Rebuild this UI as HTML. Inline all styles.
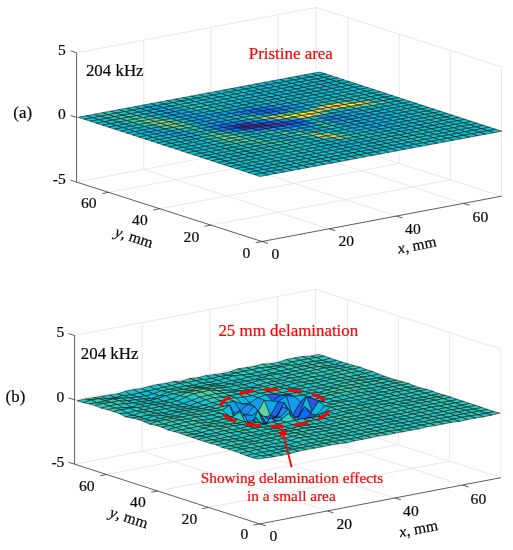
<!DOCTYPE html>
<html><head><meta charset="utf-8"><title>Figure</title>
<style>html,body{margin:0;padding:0;background:#fff}svg text{font-family:"Liberation Serif",serif}</style></head>
<body>
<svg width="513" height="550" viewBox="0 0 513 550" style="display:block">
<rect width="513" height="550" fill="#fff"/>
<line x1="329.18" y1="228.79" x2="143.78" y2="169.39" stroke="#e2e2e2" stroke-width="0.8"/>
<line x1="210.86" y1="225.11" x2="450.36" y2="179.81" stroke="#e2e2e2" stroke-width="0.8"/>
<line x1="143.78" y1="169.39" x2="143.78" y2="40.09" stroke="#e2e2e2" stroke-width="0.8"/>
<line x1="450.36" y1="179.81" x2="450.36" y2="50.51" stroke="#e2e2e2" stroke-width="0.8"/>
<line x1="396.36" y1="216.09" x2="210.96" y2="156.69" stroke="#e2e2e2" stroke-width="0.8"/>
<line x1="159.71" y1="208.73" x2="399.21" y2="163.43" stroke="#e2e2e2" stroke-width="0.8"/>
<line x1="210.96" y1="156.69" x2="210.96" y2="27.39" stroke="#e2e2e2" stroke-width="0.8"/>
<line x1="399.21" y1="163.43" x2="399.21" y2="34.13" stroke="#e2e2e2" stroke-width="0.8"/>
<line x1="463.54" y1="203.38" x2="278.14" y2="143.98" stroke="#e2e2e2" stroke-width="0.8"/>
<line x1="108.57" y1="192.34" x2="348.07" y2="147.04" stroke="#e2e2e2" stroke-width="0.8"/>
<line x1="278.14" y1="143.98" x2="278.14" y2="14.68" stroke="#e2e2e2" stroke-width="0.8"/>
<line x1="348.07" y1="147.04" x2="348.07" y2="17.74" stroke="#e2e2e2" stroke-width="0.8"/>
<line x1="76.60" y1="182.10" x2="316.10" y2="136.80" stroke="#e2e2e2" stroke-width="0.8"/>
<line x1="316.10" y1="136.80" x2="501.50" y2="196.20" stroke="#e2e2e2" stroke-width="0.8"/>
<line x1="76.60" y1="117.45" x2="316.10" y2="72.15" stroke="#e2e2e2" stroke-width="0.8"/>
<line x1="316.10" y1="72.15" x2="501.50" y2="131.55" stroke="#e2e2e2" stroke-width="0.8"/>
<line x1="76.60" y1="52.80" x2="316.10" y2="7.50" stroke="#e2e2e2" stroke-width="0.8"/>
<line x1="316.10" y1="7.50" x2="501.50" y2="66.90" stroke="#e2e2e2" stroke-width="0.8"/>
<line x1="316.10" y1="136.80" x2="316.10" y2="7.50" stroke="#e2e2e2" stroke-width="0.8"/>
<line x1="501.50" y1="196.20" x2="501.50" y2="66.90" stroke="#e2e2e2" stroke-width="0.8"/>
<g stroke="#000" stroke-width="0.5" stroke-linejoin="round">
<polygon points="317.91,75.48 325.96,73.97 319.90,72.00 311.85,73.51" fill="#0dc1d3"/>
<polygon points="309.85,77.00 317.91,75.48 311.85,73.51 303.79,75.02" fill="#0bc1d4"/>
<polygon points="323.97,77.46 332.02,75.95 325.96,73.97 317.91,75.48" fill="#0cc1d4"/>
<polygon points="301.80,78.51 309.85,77.00 303.79,75.02 295.74,76.53" fill="#0bc1d4"/>
<polygon points="315.91,78.97 323.97,77.46 317.91,75.48 309.85,77.00" fill="#0ac0d5"/>
<polygon points="330.03,79.43 338.08,77.92 332.02,75.95 323.97,77.46" fill="#0bc0d5"/>
<polygon points="293.75,80.02 301.80,78.51 295.74,76.53 287.69,78.04" fill="#0cc1d3"/>
<polygon points="307.86,80.48 315.91,78.97 309.85,77.00 301.80,78.51" fill="#0ac0d5"/>
<polygon points="321.97,80.95 330.03,79.43 323.97,77.46 315.91,78.97" fill="#0abfd6"/>
<polygon points="336.09,81.41 344.14,79.89 338.08,77.92 330.03,79.43" fill="#0ac0d5"/>
<polygon points="285.69,81.52 293.75,80.02 287.69,78.04 279.63,79.55" fill="#0dc1d3"/>
<polygon points="299.81,81.99 307.86,80.48 301.80,78.51 293.75,80.02" fill="#0bc1d4"/>
<polygon points="313.92,82.46 321.97,80.95 315.91,78.97 307.86,80.48" fill="#0ac0d6"/>
<polygon points="328.03,82.92 336.09,81.41 330.03,79.43 321.97,80.95" fill="#09bfd7"/>
<polygon points="277.64,83.04 285.69,81.52 279.63,79.55 271.58,81.06" fill="#0cc1d4"/>
<polygon points="342.15,83.38 350.20,81.87 344.14,79.89 336.09,81.41" fill="#0ac0d5"/>
<polygon points="291.75,83.50 299.81,81.99 293.75,80.02 285.69,81.52" fill="#0cc1d3"/>
<polygon points="305.87,83.96 313.92,82.46 307.86,80.48 299.81,81.99" fill="#0bc0d5"/>
<polygon points="319.98,84.43 328.03,82.92 321.97,80.95 313.92,82.46" fill="#0ac0d6"/>
<polygon points="269.59,84.55 277.64,83.04 271.58,81.06 263.53,82.57" fill="#0ac0d5"/>
<polygon points="334.09,84.89 342.15,83.38 336.09,81.41 328.03,82.92" fill="#09bfd7"/>
<polygon points="283.70,85.01 291.75,83.50 285.69,81.52 277.64,83.04" fill="#0bc1d4"/>
<polygon points="348.21,85.35 356.26,83.84 350.20,81.87 342.15,83.38" fill="#0bc1d4"/>
<polygon points="297.81,85.47 305.87,83.96 299.81,81.99 291.75,83.50" fill="#0bc1d4"/>
<polygon points="311.93,85.94 319.98,84.43 313.92,82.46 305.87,83.96" fill="#0bc0d5"/>
<polygon points="261.53,86.06 269.59,84.55 263.53,82.57 255.47,84.08" fill="#0abfd6"/>
<polygon points="326.04,86.40 334.09,84.89 328.03,82.92 319.98,84.43" fill="#0ac0d6"/>
<polygon points="275.65,86.52 283.70,85.01 277.64,83.04 269.59,84.55" fill="#0ac0d6"/>
<polygon points="340.15,86.87 348.21,85.35 342.15,83.38 334.09,84.89" fill="#0ac0d6"/>
<polygon points="289.76,86.98 297.81,85.47 291.75,83.50 283.70,85.01" fill="#0bc0d5"/>
<polygon points="354.27,87.32 362.32,85.81 356.26,83.84 348.21,85.35" fill="#0ec2d2"/>
<polygon points="303.87,87.45 311.93,85.94 305.87,83.96 297.81,85.47" fill="#0bc0d5"/>
<polygon points="253.48,87.57 261.53,86.06 255.47,84.08 247.42,85.59" fill="#0ac0d6"/>
<polygon points="317.99,87.91 326.04,86.40 319.98,84.43 311.93,85.94" fill="#0bc0d5"/>
<polygon points="267.59,88.03 275.65,86.52 269.59,84.55 261.53,86.06" fill="#09bfd7"/>
<polygon points="332.10,88.38 340.15,86.87 334.09,84.89 326.04,86.40" fill="#0ac0d6"/>
<polygon points="281.71,88.50 289.76,86.98 283.70,85.01 275.65,86.52" fill="#0abfd6"/>
<polygon points="346.21,88.84 354.27,87.32 348.21,85.35 340.15,86.87" fill="#0bc1d4"/>
<polygon points="295.82,88.96 303.87,87.45 297.81,85.47 289.76,86.98" fill="#0abfd6"/>
<polygon points="245.43,89.08 253.48,87.57 247.42,85.59 239.37,87.10" fill="#0bc1d4"/>
<polygon points="360.33,89.30 368.38,87.78 362.32,85.81 354.27,87.32" fill="#0fc2d1"/>
<polygon points="309.93,89.42 317.99,87.91 311.93,85.94 303.87,87.45" fill="#0ac0d6"/>
<polygon points="259.54,89.54 267.59,88.03 261.53,86.06 253.48,87.57" fill="#09bfd7"/>
<polygon points="324.05,89.89 332.10,88.38 326.04,86.40 317.99,87.91" fill="#0ac0d5"/>
<polygon points="273.65,90.01 281.71,88.50 275.65,86.52 267.59,88.03" fill="#09bfd8"/>
<polygon points="338.16,90.35 346.21,88.84 340.15,86.87 332.10,88.38" fill="#0bc0d5"/>
<polygon points="287.77,90.47 295.82,88.96 289.76,86.98 281.71,88.50" fill="#09bed8"/>
<polygon points="237.37,90.58 245.43,89.08 239.37,87.10 231.31,88.61" fill="#0dc2d2"/>
<polygon points="352.27,90.81 360.33,89.30 354.27,87.32 346.21,88.84" fill="#0dc2d3"/>
<polygon points="301.88,90.94 309.93,89.42 303.87,87.45 295.82,88.96" fill="#09bfd8"/>
<polygon points="251.49,91.05 259.54,89.54 253.48,87.57 245.43,89.08" fill="#0ac0d5"/>
<polygon points="366.39,91.27 374.44,89.76 368.38,87.78 360.33,89.30" fill="#0fc2d1"/>
<polygon points="315.99,91.40 324.05,89.89 317.99,87.91 309.93,89.42" fill="#0ac0d6"/>
<polygon points="265.60,91.52 273.65,90.01 267.59,88.03 259.54,89.54" fill="#09bfd8"/>
<polygon points="330.11,91.86 338.16,90.35 332.10,88.38 324.05,89.89" fill="#0bc0d5"/>
<polygon points="279.71,91.98 287.77,90.47 281.71,88.50 273.65,90.01" fill="#08bed8"/>
<polygon points="229.32,92.09 237.37,90.58 231.31,88.61 223.26,90.12" fill="#10c3d0"/>
<polygon points="344.22,92.32 352.27,90.81 346.21,88.84 338.16,90.35" fill="#0cc1d3"/>
<polygon points="293.83,92.45 301.88,90.94 295.82,88.96 287.77,90.47" fill="#08bed9"/>
<polygon points="243.43,92.56 251.49,91.05 245.43,89.08 237.37,90.58" fill="#0dc1d3"/>
<polygon points="358.33,92.78 366.39,91.27 360.33,89.30 352.27,90.81" fill="#0fc2d1"/>
<polygon points="307.94,92.91 315.99,91.40 309.93,89.42 301.88,90.94" fill="#09bed8"/>
<polygon points="257.55,93.03 265.60,91.52 259.54,89.54 251.49,91.05" fill="#09bfd7"/>
<polygon points="372.45,93.24 380.50,91.73 374.44,89.76 366.39,91.27" fill="#0fc2d1"/>
<polygon points="322.05,93.37 330.11,91.86 324.05,89.89 315.99,91.40" fill="#0ac0d6"/>
<polygon points="271.66,93.49 279.71,91.98 273.65,90.01 265.60,91.52" fill="#08bed8"/>
<polygon points="221.27,93.60 229.32,92.09 223.26,90.12 215.21,91.63" fill="#12c4ce"/>
<polygon points="336.17,93.83 344.22,92.32 338.16,90.35 330.11,91.86" fill="#0cc1d4"/>
<polygon points="285.77,93.96 293.83,92.45 287.77,90.47 279.71,91.98" fill="#08bed9"/>
<polygon points="235.38,94.06 243.43,92.56 237.37,90.58 229.32,92.09" fill="#10c3d0"/>
<polygon points="350.28,94.29 358.33,92.78 352.27,90.81 344.22,92.32" fill="#0fc2d1"/>
<polygon points="299.89,94.42 307.94,92.91 301.88,90.94 293.83,92.45" fill="#08bed9"/>
<polygon points="249.49,94.53 257.55,93.03 251.49,91.05 243.43,92.56" fill="#0bc0d5"/>
<polygon points="364.39,94.75 372.45,93.24 366.39,91.27 358.33,92.78" fill="#10c3d0"/>
<polygon points="314.00,94.88 322.05,93.37 315.99,91.40 307.94,92.91" fill="#09bfd7"/>
<polygon points="263.61,95.00 271.66,93.49 265.60,91.52 257.55,93.03" fill="#08bed8"/>
<polygon points="213.21,95.11 221.27,93.60 215.21,91.63 207.15,93.14" fill="#13c4ce"/>
<polygon points="378.51,95.21 386.56,93.71 380.50,91.73 372.45,93.24" fill="#0fc3d1"/>
<polygon points="328.11,95.34 336.17,93.83 330.11,91.86 322.05,93.37" fill="#0bc0d5"/>
<polygon points="277.72,95.47 285.77,93.96 279.71,91.98 271.66,93.49" fill="#08bed8"/>
<polygon points="227.33,95.57 235.38,94.06 229.32,92.09 221.27,93.60" fill="#13c4ce"/>
<polygon points="342.23,95.80 350.28,94.29 344.22,92.32 336.17,93.83" fill="#0ec2d2"/>
<polygon points="291.83,95.93 299.89,94.42 293.83,92.45 285.77,93.96" fill="#08bed9"/>
<polygon points="241.44,96.04 249.49,94.53 243.43,92.56 235.38,94.06" fill="#0ec2d2"/>
<polygon points="356.34,96.26 364.39,94.75 358.33,92.78 350.28,94.29" fill="#11c3cf"/>
<polygon points="305.95,96.39 314.00,94.88 307.94,92.91 299.89,94.42" fill="#09bfd8"/>
<polygon points="255.55,96.51 263.61,95.00 257.55,93.03 249.49,94.53" fill="#09bfd7"/>
<polygon points="205.16,96.62 213.21,95.11 207.15,93.14 199.10,94.65" fill="#12c4ce"/>
<polygon points="370.45,96.72 378.51,95.21 372.45,93.24 364.39,94.75" fill="#11c3cf"/>
<polygon points="320.06,96.85 328.11,95.34 322.05,93.37 314.00,94.88" fill="#0ac0d6"/>
<polygon points="269.67,96.98 277.72,95.47 271.66,93.49 263.61,95.00" fill="#08bed9"/>
<polygon points="219.27,97.08 227.33,95.57 221.27,93.60 213.21,95.11" fill="#13c4ce"/>
<polygon points="384.57,97.19 392.62,95.68 386.56,93.71 378.51,95.21" fill="#10c3d0"/>
<polygon points="334.17,97.31 342.23,95.80 336.17,93.83 328.11,95.34" fill="#0dc1d3"/>
<polygon points="283.78,97.44 291.83,95.93 285.77,93.96 277.72,95.47" fill="#09bfd8"/>
<polygon points="233.39,97.55 241.44,96.04 235.38,94.06 227.33,95.57" fill="#10c3d0"/>
<polygon points="348.29,97.77 356.34,96.26 350.28,94.29 342.23,95.80" fill="#10c3d0"/>
<polygon points="297.89,97.90 305.95,96.39 299.89,94.42 291.83,95.93" fill="#09bfd7"/>
<polygon points="247.50,98.02 255.55,96.51 249.49,94.53 241.44,96.04" fill="#0ac0d5"/>
<polygon points="197.11,98.13 205.16,96.62 199.10,94.65 191.05,96.15" fill="#12c4ce"/>
<polygon points="362.40,98.23 370.45,96.72 364.39,94.75 356.34,96.26" fill="#12c4ce"/>
<polygon points="312.01,98.36 320.06,96.85 314.00,94.88 305.95,96.39" fill="#0abfd6"/>
<polygon points="261.61,98.49 269.67,96.98 263.61,95.00 255.55,96.51" fill="#08bed9"/>
<polygon points="211.22,98.59 219.27,97.08 213.21,95.11 205.16,96.62" fill="#12c4ce"/>
<polygon points="376.51,98.70 384.57,97.19 378.51,95.21 370.45,96.72" fill="#11c3cf"/>
<polygon points="326.12,98.82 334.17,97.31 328.11,95.34 320.06,96.85" fill="#0bc1d4"/>
<polygon points="275.73,98.95 283.78,97.44 277.72,95.47 269.67,96.98" fill="#08bed8"/>
<polygon points="225.33,99.06 233.39,97.55 227.33,95.57 219.27,97.08" fill="#10c3d0"/>
<polygon points="390.63,99.16 398.68,97.65 392.62,95.68 384.57,97.19" fill="#0fc3d1"/>
<polygon points="340.23,99.28 348.29,97.77 342.23,95.80 334.17,97.31" fill="#0fc2d1"/>
<polygon points="289.84,99.41 297.89,97.90 291.83,95.93 283.78,97.44" fill="#09bfd7"/>
<polygon points="239.45,99.53 247.50,98.02 241.44,96.04 233.39,97.55" fill="#0cc1d3"/>
<polygon points="189.05,99.64 197.11,98.13 191.05,96.15 182.99,97.66" fill="#11c3cf"/>
<polygon points="354.35,99.74 362.40,98.23 356.34,96.26 348.29,97.77" fill="#11c3cf"/>
<polygon points="303.95,99.87 312.01,98.36 305.95,96.39 297.89,97.90" fill="#0ac0d6"/>
<polygon points="253.56,100.00 261.61,98.49 255.55,96.51 247.50,98.02" fill="#09bfd8"/>
<polygon points="203.17,100.10 211.22,98.59 205.16,96.62 197.11,98.13" fill="#11c3cf"/>
<polygon points="368.46,100.20 376.51,98.70 370.45,96.72 362.40,98.23" fill="#12c4ce"/>
<polygon points="318.07,100.33 326.12,98.82 320.06,96.85 312.01,98.36" fill="#0bc0d5"/>
<polygon points="267.67,100.46 275.73,98.95 269.67,96.98 261.61,98.49" fill="#08bed9"/>
<polygon points="217.28,100.57 225.33,99.06 219.27,97.08 211.22,98.59" fill="#10c3d0"/>
<polygon points="382.57,100.67 390.63,99.16 384.57,97.19 376.51,98.70" fill="#12c4ce"/>
<polygon points="332.18,100.79 340.23,99.28 334.17,97.31 326.12,98.82" fill="#0ec2d2"/>
<polygon points="281.79,100.92 289.84,99.41 283.78,97.44 275.73,98.95" fill="#09bfd7"/>
<polygon points="231.39,101.03 239.45,99.53 233.39,97.55 225.33,99.06" fill="#0dc1d3"/>
<polygon points="396.69,101.13 404.74,99.63 398.68,97.65 390.63,99.16" fill="#10c3d0"/>
<polygon points="181.00,101.15 189.05,99.64 182.99,97.66 174.94,99.18" fill="#10c3d0"/>
<polygon points="346.29,101.25 354.35,99.74 348.29,97.77 340.23,99.28" fill="#11c3cf"/>
<polygon points="295.90,101.38 303.95,99.87 297.89,97.90 289.84,99.41" fill="#0ac0d6"/>
<polygon points="245.51,101.50 253.56,100.00 247.50,98.02 239.45,99.53" fill="#0abfd6"/>
<polygon points="195.11,101.61 203.17,100.10 197.11,98.13 189.05,99.64" fill="#10c3d0"/>
<polygon points="360.41,101.71 368.46,100.20 362.40,98.23 354.35,99.74" fill="#16c5cc"/>
<polygon points="310.01,101.85 318.07,100.33 312.01,98.36 303.95,99.87" fill="#0ac0d5"/>
<polygon points="259.62,101.97 267.67,100.46 261.61,98.49 253.56,100.00" fill="#08bed9"/>
<polygon points="209.23,102.08 217.28,100.57 211.22,98.59 203.17,100.10" fill="#0fc2d1"/>
<polygon points="374.52,102.16 382.57,100.67 376.51,98.70 368.46,100.20" fill="#23c9c2"/>
<polygon points="324.13,102.30 332.18,100.79 326.12,98.82 318.07,100.33" fill="#0dc1d3"/>
<polygon points="273.73,102.43 281.79,100.92 275.73,98.95 267.67,100.46" fill="#09bfd8"/>
<polygon points="223.34,102.55 231.39,101.03 225.33,99.06 217.28,100.57" fill="#0cc1d3"/>
<polygon points="388.63,102.63 396.69,101.13 390.63,99.16 382.57,100.67" fill="#1bc7c8"/>
<polygon points="172.95,102.66 181.00,101.15 174.94,99.18 166.89,100.68" fill="#14c4cd"/>
<polygon points="338.24,102.76 346.29,101.25 340.23,99.28 332.18,100.79" fill="#14c4cd"/>
<polygon points="287.85,102.89 295.90,101.38 289.84,99.41 281.79,100.92" fill="#0ac0d6"/>
<polygon points="237.45,103.01 245.51,101.50 239.45,99.53 231.39,101.03" fill="#0ac0d5"/>
<polygon points="402.75,103.11 410.80,101.60 404.74,99.63 396.69,101.13" fill="#10c3d0"/>
<polygon points="187.06,103.12 195.11,101.61 189.05,99.64 181.00,101.15" fill="#11c3cf"/>
<polygon points="352.35,103.19 360.41,101.71 354.35,99.74 346.29,101.25" fill="#34cdb7"/>
<polygon points="301.96,103.36 310.01,101.85 303.95,99.87 295.90,101.38" fill="#09bfd7"/>
<polygon points="251.57,103.48 259.62,101.97 253.56,100.00 245.51,101.50" fill="#09bfd8"/>
<polygon points="201.17,103.59 209.23,102.08 203.17,100.10 195.11,101.61" fill="#0fc3d1"/>
<polygon points="366.47,103.61 374.52,102.16 368.46,100.20 360.41,101.71" fill="#80d68f"/>
<polygon points="316.07,103.82 324.13,102.30 318.07,100.33 310.01,101.85" fill="#0ac0d6"/>
<polygon points="265.68,103.94 273.73,102.43 267.67,100.46 259.62,101.97" fill="#08bed8"/>
<polygon points="215.29,104.06 223.34,102.55 217.28,100.57 209.23,102.08" fill="#0bc1d4"/>
<polygon points="380.58,104.11 388.63,102.63 382.57,100.67 374.52,102.16" fill="#42d0af"/>
<polygon points="164.89,104.16 172.95,102.66 166.89,100.68 158.83,102.19" fill="#1bc7c7"/>
<polygon points="330.19,104.26 338.24,102.76 332.18,100.79 324.13,102.30" fill="#1cc7c7"/>
<polygon points="279.79,104.41 287.85,102.89 281.79,100.92 273.73,102.43" fill="#08bed8"/>
<polygon points="229.40,104.52 237.45,103.01 231.39,101.03 223.34,102.55" fill="#0ac0d6"/>
<polygon points="394.69,104.61 402.75,103.11 396.69,101.13 388.63,102.63" fill="#13c4ce"/>
<polygon points="179.01,104.62 187.06,103.12 181.00,101.15 172.95,102.66" fill="#1cc7c7"/>
<polygon points="344.30,104.63 352.35,103.19 346.29,101.25 338.24,102.76" fill="#a8d67e"/>
<polygon points="293.91,104.87 301.96,103.36 295.90,101.38 287.85,102.89" fill="#07bdda"/>
<polygon points="243.51,104.99 251.57,103.48 245.51,101.50 237.45,103.01" fill="#09bfd7"/>
<polygon points="408.81,105.08 416.86,103.57 410.80,101.60 402.75,103.11" fill="#10c3d0"/>
<polygon points="193.12,105.09 201.17,103.59 195.11,101.61 187.06,103.12" fill="#17c6ca"/>
<polygon points="358.41,105.00 366.47,103.61 360.41,101.71 352.35,103.19" fill="#ffd14d"/>
<polygon points="308.02,105.34 316.07,103.82 310.01,101.85 301.96,103.36" fill="#07bdda"/>
<polygon points="257.63,105.46 265.68,103.94 259.62,101.97 251.57,103.48" fill="#08bed9"/>
<polygon points="207.23,105.56 215.29,104.06 209.23,102.08 201.17,103.59" fill="#0fc2d1"/>
<polygon points="372.53,105.58 380.58,104.11 374.52,102.16 366.47,103.61" fill="#83d68e"/>
<polygon points="156.84,105.68 164.89,104.16 158.83,102.19 150.78,103.70" fill="#0fc3d1"/>
<polygon points="322.13,105.76 330.19,104.26 324.13,102.30 316.07,103.82" fill="#22c9c3"/>
<polygon points="271.74,105.92 279.79,104.41 273.73,102.43 265.68,103.94" fill="#07bcdc"/>
<polygon points="221.35,106.03 229.40,104.52 223.34,102.55 215.29,104.06" fill="#0ac0d6"/>
<polygon points="386.64,106.12 394.69,104.61 388.63,102.63 380.58,104.11" fill="#14c4cd"/>
<polygon points="170.95,106.13 179.01,104.62 172.95,102.66 164.89,104.16" fill="#19c6c9"/>
<polygon points="336.25,106.04 344.30,104.63 338.24,102.76 330.19,104.26" fill="#ffd14d"/>
<polygon points="285.85,106.40 293.91,104.87 287.85,102.89 279.79,104.41" fill="#07b8e1"/>
<polygon points="235.46,106.50 243.51,104.99 237.45,103.01 229.40,104.52" fill="#09bfd7"/>
<polygon points="400.75,106.59 408.81,105.08 402.75,103.11 394.69,104.61" fill="#0fc3d0"/>
<polygon points="185.07,106.58 193.12,105.09 187.06,103.12 179.01,104.62" fill="#26cac0"/>
<polygon points="350.36,106.43 358.41,105.00 352.35,103.19 344.30,104.63" fill="#ffff19"/>
<polygon points="299.97,106.86 308.02,105.34 301.96,103.36 293.91,104.87" fill="#07b7e2"/>
<polygon points="249.57,106.97 257.63,105.46 251.57,103.48 243.51,104.99" fill="#07bdda"/>
<polygon points="414.87,107.05 422.92,105.54 416.86,103.57 408.81,105.08" fill="#12c4ce"/>
<polygon points="199.18,107.05 207.23,105.56 201.17,103.59 193.12,105.09" fill="#24c9c2"/>
<polygon points="364.47,107.08 372.53,105.58 366.47,103.61 358.41,105.00" fill="#8ed689"/>
<polygon points="148.79,107.21 156.84,105.68 150.78,103.70 142.73,105.22" fill="#07bddb"/>
<polygon points="314.08,107.28 322.13,105.76 316.07,103.82 308.02,105.34" fill="#18c6c9"/>
<polygon points="263.69,107.45 271.74,105.92 265.68,103.94 257.63,105.46" fill="#07b6e3"/>
<polygon points="213.29,107.53 221.35,106.03 215.29,104.06 207.23,105.56" fill="#13c4cd"/>
<polygon points="378.59,107.64 386.64,106.12 380.58,104.11 372.53,105.58" fill="#10c3d0"/>
<polygon points="162.90,107.67 170.95,106.13 164.89,104.16 156.84,105.68" fill="#08bed9"/>
<polygon points="328.19,107.53 336.25,106.04 330.19,104.26 322.13,105.76" fill="#ffde3a"/>
<polygon points="277.80,107.93 285.85,106.40 279.79,104.41 271.74,105.92" fill="#09ace9"/>
<polygon points="227.41,108.01 235.46,106.50 229.40,104.52 221.35,106.03" fill="#0ac0d6"/>
<polygon points="392.70,108.10 400.75,106.59 394.69,104.61 386.64,106.12" fill="#0dc2d2"/>
<polygon points="177.01,108.11 185.07,106.58 179.01,104.62 170.95,106.13" fill="#12c4ce"/>
<polygon points="342.31,107.99 350.36,106.43 344.30,104.63 336.25,106.04" fill="#ffdf3a"/>
<polygon points="291.91,108.40 299.97,106.86 293.91,104.87 285.85,106.40" fill="#0ba8ea"/>
<polygon points="241.52,108.48 249.57,106.97 243.51,104.99 235.46,106.50" fill="#07bbde"/>
<polygon points="406.81,108.56 414.87,107.05 408.81,105.08 400.75,106.59" fill="#11c3cf"/>
<polygon points="191.13,108.56 199.18,107.05 193.12,105.09 185.07,106.58" fill="#28cabf"/>
<polygon points="356.42,108.63 364.47,107.08 358.41,105.00 350.36,106.43" fill="#4fd2a7"/>
<polygon points="140.73,108.72 148.79,107.21 142.73,105.22 134.67,106.74" fill="#07bdda"/>
<polygon points="306.03,108.83 314.08,107.28 308.02,105.34 299.97,106.86" fill="#07bbdd"/>
<polygon points="255.63,108.98 263.69,107.45 257.63,105.46 249.57,106.97" fill="#0aaaea"/>
<polygon points="420.93,109.02 428.98,107.51 422.92,105.54 414.87,107.05" fill="#13c4cd"/>
<polygon points="205.24,109.01 213.29,107.53 207.23,105.56 199.18,107.05" fill="#2eccbb"/>
<polygon points="370.53,109.15 378.59,107.64 372.53,105.58 364.47,107.08" fill="#0bc1d4"/>
<polygon points="154.85,109.20 162.90,107.67 156.84,105.68 148.79,107.21" fill="#07b7e3"/>
<polygon points="320.14,109.11 328.19,107.53 322.13,105.76 314.08,107.28" fill="#dcd269"/>
<polygon points="269.75,109.48 277.80,107.93 271.74,105.92 263.69,107.45" fill="#1690f0"/>
<polygon points="219.35,109.50 227.41,108.01 221.35,106.03 213.29,107.53" fill="#1ac6c9"/>
<polygon points="384.65,109.62 392.70,108.10 386.64,106.12 378.59,107.64" fill="#0ac0d6"/>
<polygon points="168.96,109.65 177.01,108.11 170.95,106.13 162.90,107.67" fill="#07b9e0"/>
<polygon points="334.25,109.60 342.31,107.99 336.25,106.04 328.19,107.53" fill="#c2d474"/>
<polygon points="283.86,109.94 291.91,108.40 285.85,106.40 277.80,107.93" fill="#1692ef"/>
<polygon points="233.47,109.99 241.52,108.48 235.46,106.50 227.41,108.01" fill="#07bbde"/>
<polygon points="398.76,110.08 406.81,108.56 400.75,106.59 392.70,108.10" fill="#0ec2d2"/>
<polygon points="183.07,110.10 191.13,108.56 185.07,106.58 177.01,108.11" fill="#0bc1d4"/>
<polygon points="348.37,110.18 356.42,108.63 350.36,106.43 342.31,107.99" fill="#19c6c9"/>
<polygon points="132.68,110.21 140.73,108.72 134.67,106.74 126.62,108.24" fill="#0dc2d3"/>
<polygon points="297.97,110.37 306.03,108.83 299.97,106.86 291.91,108.40" fill="#0ca8eb"/>
<polygon points="247.58,110.52 255.63,108.98 249.57,106.97 241.52,108.48" fill="#1699ec"/>
<polygon points="412.87,110.53 420.93,109.02 414.87,107.05 406.81,108.56" fill="#12c4cf"/>
<polygon points="197.19,110.54 205.24,109.01 199.18,107.05 191.13,108.56" fill="#1ec8c6"/>
<polygon points="362.48,110.67 370.53,109.15 364.47,107.08 356.42,108.63" fill="#08bed9"/>
<polygon points="146.79,110.70 154.85,109.20 148.79,107.21 140.73,108.72" fill="#07b9df"/>
<polygon points="312.09,110.72 320.14,109.11 314.08,107.28 306.03,108.83" fill="#4ed1a8"/>
<polygon points="261.69,111.04 269.75,109.48 263.69,107.45 255.63,108.98" fill="#0275fc"/>
<polygon points="426.99,111.00 435.04,109.49 428.98,107.51 420.93,109.02" fill="#13c4ce"/>
<polygon points="211.30,110.99 219.35,109.50 213.29,107.53 205.24,109.01" fill="#27cac0"/>
<polygon points="376.59,111.14 384.65,109.62 378.59,107.64 370.53,109.15" fill="#08bed9"/>
<polygon points="160.91,111.18 168.96,109.65 162.90,107.67 154.85,109.20" fill="#07b0e8"/>
<polygon points="326.20,111.13 334.25,109.60 328.19,107.53 320.14,109.11" fill="#abd67d"/>
<polygon points="275.81,111.50 283.86,109.94 277.80,107.93 269.75,109.48" fill="#0376fc"/>
<polygon points="225.41,111.49 233.47,109.99 227.41,108.01 219.35,109.50" fill="#0bc0d5"/>
<polygon points="390.71,111.59 398.76,110.08 392.70,108.10 384.65,109.62" fill="#0ac0d6"/>
<polygon points="175.02,111.64 183.07,110.10 177.01,108.11 168.96,109.65" fill="#07b5e4"/>
<polygon points="340.31,111.71 348.37,110.18 342.31,107.99 334.25,109.60" fill="#0ac0d6"/>
<polygon points="124.63,111.71 132.68,110.21 126.62,108.24 118.57,109.74" fill="#14c5cc"/>
<polygon points="289.92,111.90 297.97,110.37 291.91,108.40 283.86,109.94" fill="#129feb"/>
<polygon points="239.53,112.03 247.58,110.52 241.52,108.48 233.47,109.99" fill="#1697ed"/>
<polygon points="404.82,112.05 412.87,110.53 406.81,108.56 398.76,110.08" fill="#0ec2d2"/>
<polygon points="189.13,112.08 197.19,110.54 191.13,108.56 183.07,110.10" fill="#08beda"/>
<polygon points="354.43,112.19 362.48,110.67 356.42,108.63 348.37,110.18" fill="#07bcdc"/>
<polygon points="138.74,112.19 146.79,110.70 140.73,108.72 132.68,110.21" fill="#0bc0d5"/>
<polygon points="304.03,112.30 312.09,110.72 306.03,108.83 297.97,110.37" fill="#0ac0d5"/>
<polygon points="253.64,112.57 261.69,111.04 255.63,108.98 247.58,110.52" fill="#1266f8"/>
<polygon points="418.93,112.51 426.99,111.00 420.93,109.02 412.87,110.53" fill="#11c3cf"/>
<polygon points="203.25,112.53 211.30,110.99 205.24,109.01 197.19,110.54" fill="#0dc1d3"/>
<polygon points="368.54,112.65 376.59,111.14 370.53,109.15 362.48,110.67" fill="#07bbde"/>
<polygon points="152.85,112.68 160.91,111.18 154.85,109.20 146.79,110.70" fill="#07b6e3"/>
<polygon points="318.15,112.60 326.20,111.13 320.14,109.11 312.09,110.72" fill="#d8d36b"/>
<polygon points="267.75,113.04 275.81,111.50 269.75,109.48 261.69,111.04" fill="#1e60f1"/>
<polygon points="433.05,112.97 441.10,111.46 435.04,109.49 426.99,111.00" fill="#13c4ce"/>
<polygon points="217.36,113.01 225.41,111.49 219.35,109.50 211.30,110.99" fill="#07bdda"/>
<polygon points="382.65,113.11 390.71,111.59 384.65,109.62 376.59,111.14" fill="#07bdda"/>
<polygon points="166.97,113.16 175.02,111.64 168.96,109.65 160.91,111.18" fill="#09abea"/>
<polygon points="332.26,113.21 340.31,111.71 334.25,109.60 326.20,111.13" fill="#10c3d0"/>
<polygon points="116.57,113.21 124.63,111.71 118.57,109.74 110.51,111.25" fill="#1fc8c5"/>
<polygon points="281.87,113.43 289.92,111.90 283.86,109.94 275.81,111.50" fill="#168ef0"/>
<polygon points="231.47,113.52 239.53,112.03 233.47,109.99 225.41,111.49" fill="#11a1eb"/>
<polygon points="396.77,113.57 404.82,112.05 398.76,110.08 390.71,111.59" fill="#0ac0d6"/>
<polygon points="181.08,113.62 189.13,112.08 183.07,110.10 175.02,111.64" fill="#07b2e6"/>
<polygon points="346.37,113.71 354.43,112.19 348.37,110.18 340.31,111.71" fill="#07b8e1"/>
<polygon points="130.69,113.69 138.74,112.19 132.68,110.21 124.63,111.71" fill="#15c5cc"/>
<polygon points="295.98,113.77 304.03,112.30 297.97,110.37 289.92,111.90" fill="#2acbbe"/>
<polygon points="245.59,114.05 253.64,112.57 247.58,110.52 239.53,112.03" fill="#097ef9"/>
<polygon points="410.88,114.02 418.93,112.51 412.87,110.53 404.82,112.05" fill="#0ec2d2"/>
<polygon points="195.19,114.06 203.25,112.53 197.19,110.54 189.13,112.08" fill="#07badf"/>
<polygon points="360.49,114.17 368.54,112.65 362.48,110.67 354.43,112.19" fill="#07b7e2"/>
<polygon points="144.80,114.17 152.85,112.68 146.79,110.70 138.74,112.19" fill="#09bfd7"/>
<polygon points="310.09,114.07 318.15,112.60 312.09,110.72 304.03,112.30" fill="#ffcf54"/>
<polygon points="259.70,114.52 267.75,113.04 261.69,111.04 253.64,112.57" fill="#0478fb"/>
<polygon points="424.99,114.48 433.05,112.97 426.99,111.00 418.93,112.51" fill="#11c3cf"/>
<polygon points="209.31,114.54 217.36,113.01 211.30,110.99 203.25,112.53" fill="#07b6e4"/>
<polygon points="374.60,114.63 382.65,113.11 376.59,111.14 368.54,112.65" fill="#07bade"/>
<polygon points="158.91,114.66 166.97,113.16 160.91,111.18 152.85,112.68" fill="#07b5e4"/>
<polygon points="324.21,114.68 332.26,113.21 326.20,111.13 318.15,112.60" fill="#44d0ad"/>
<polygon points="108.52,114.72 116.57,113.21 110.51,111.25 102.46,112.75" fill="#28cabf"/>
<polygon points="273.81,114.95 281.87,113.43 275.81,111.50 267.75,113.04" fill="#148bf2"/>
<polygon points="439.11,114.94 447.16,113.43 441.10,111.46 433.05,112.97" fill="#14c4cd"/>
<polygon points="223.42,115.03 231.47,113.52 225.41,111.49 217.36,113.01" fill="#0fa3eb"/>
<polygon points="388.71,115.08 396.77,113.57 390.71,111.59 382.65,113.11" fill="#08bdda"/>
<polygon points="173.03,115.14 181.08,113.62 175.02,111.64 166.97,113.16" fill="#0ba8ea"/>
<polygon points="338.32,115.23 346.37,113.71 340.31,111.71 332.26,113.21" fill="#07b2e7"/>
<polygon points="122.63,115.18 130.69,113.69 124.63,111.71 116.57,113.21" fill="#25cac1"/>
<polygon points="287.93,115.26 295.98,113.77 289.92,111.90 281.87,113.43" fill="#4ad1aa"/>
<polygon points="237.53,115.52 245.59,114.05 239.53,112.03 231.47,113.52" fill="#1794ee"/>
<polygon points="402.83,115.54 410.88,114.02 404.82,112.05 396.77,113.57" fill="#0ac0d5"/>
<polygon points="187.14,115.60 195.19,114.06 189.13,112.08 181.08,113.62" fill="#09ade9"/>
<polygon points="352.43,115.70 360.49,114.17 354.43,112.19 346.37,113.71" fill="#08afe8"/>
<polygon points="136.75,115.66 144.80,114.17 138.74,112.19 130.69,113.69" fill="#17c5cb"/>
<polygon points="302.04,115.45 310.09,114.07 304.03,112.30 295.98,113.77" fill="#ffff0f"/>
<polygon points="251.65,115.98 259.70,114.52 253.64,112.57 245.59,114.05" fill="#1695ed"/>
<polygon points="416.94,115.99 424.99,114.48 418.93,112.51 410.88,114.02" fill="#0fc2d1"/>
<polygon points="201.25,116.05 209.31,114.54 203.25,112.53 195.19,114.06" fill="#07b3e6"/>
<polygon points="366.55,116.15 374.60,114.63 368.54,112.65 360.49,114.17" fill="#07b7e2"/>
<polygon points="150.86,116.14 158.91,114.66 152.85,112.68 144.80,114.17" fill="#0ac0d6"/>
<polygon points="316.15,116.12 324.21,114.68 318.15,112.60 310.09,114.07" fill="#b0d57b"/>
<polygon points="100.47,116.23 108.52,114.72 102.46,112.75 94.41,114.26" fill="#24c9c2"/>
<polygon points="265.76,116.42 273.81,114.95 267.75,113.04 259.70,114.52" fill="#10a2eb"/>
<polygon points="431.05,116.45 439.11,114.94 433.05,112.97 424.99,114.48" fill="#13c4cd"/>
<polygon points="215.37,116.53 223.42,115.03 217.36,113.01 209.31,114.54" fill="#09abea"/>
<polygon points="380.66,116.60 388.71,115.08 382.65,113.11 374.60,114.63" fill="#07bbdd"/>
<polygon points="164.97,116.63 173.03,115.14 166.97,113.16 158.91,114.66" fill="#07b6e3"/>
<polygon points="330.27,116.76 338.32,115.23 332.26,113.21 324.21,114.68" fill="#0ba8ea"/>
<polygon points="114.58,116.68 122.63,115.18 116.57,113.21 108.52,114.72" fill="#30ccb9"/>
<polygon points="279.87,116.74 287.93,115.26 281.87,113.43 273.81,114.95" fill="#72d595"/>
<polygon points="445.17,116.91 453.22,115.40 447.16,113.43 439.11,114.94" fill="#15c5cc"/>
<polygon points="229.48,117.00 237.53,115.52 231.47,113.52 223.42,115.03" fill="#0da7eb"/>
<polygon points="394.77,117.05 402.83,115.54 396.77,113.57 388.71,115.08" fill="#08bed9"/>
<polygon points="179.09,117.12 187.14,115.60 181.08,113.62 173.03,115.14" fill="#0da7eb"/>
<polygon points="344.38,117.23 352.43,115.70 346.37,113.71 338.32,115.23" fill="#12a0eb"/>
<polygon points="128.69,117.15 136.75,115.66 130.69,113.69 122.63,115.18" fill="#2fccba"/>
<polygon points="293.99,116.93 302.04,115.45 295.98,113.77 287.93,115.26" fill="#ffff0f"/>
<polygon points="243.59,117.44 251.65,115.98 245.59,114.05 237.53,115.52" fill="#07b5e5"/>
<polygon points="408.89,117.51 416.94,115.99 410.88,114.02 402.83,115.54" fill="#0cc1d3"/>
<polygon points="193.20,117.58 201.25,116.05 195.19,114.06 187.14,115.60" fill="#0da7eb"/>
<polygon points="358.49,117.67 366.55,116.15 360.49,114.17 352.43,115.70" fill="#07b2e7"/>
<polygon points="142.81,117.62 150.86,116.14 144.80,114.17 136.75,115.66" fill="#20c8c4"/>
<polygon points="308.10,117.51 316.15,116.12 310.09,114.07 302.04,115.45" fill="#ffdf39"/>
<polygon points="92.41,117.75 100.47,116.23 94.41,114.26 86.35,115.78" fill="#19c6c9"/>
<polygon points="257.71,117.85 265.76,116.42 259.70,114.52 251.65,115.98" fill="#19c6c9"/>
<polygon points="423.00,117.96 431.05,116.45 424.99,114.48 416.94,115.99" fill="#12c4ce"/>
<polygon points="207.31,118.03 215.37,116.53 209.31,114.54 201.25,116.05" fill="#07b0e8"/>
<polygon points="372.61,118.11 380.66,116.60 374.60,114.63 366.55,116.15" fill="#07b9e0"/>
<polygon points="156.92,118.11 164.97,116.63 158.91,114.66 150.86,116.14" fill="#0fc2d1"/>
<polygon points="322.21,118.28 330.27,116.76 324.21,114.68 316.15,116.12" fill="#139dec"/>
<polygon points="106.53,118.20 114.58,116.68 108.52,114.72 100.47,116.23" fill="#26cac0"/>
<polygon points="271.82,118.19 279.87,116.74 273.81,114.95 265.76,116.42" fill="#c9d471"/>
<polygon points="437.11,118.42 445.17,116.91 439.11,114.94 431.05,116.45" fill="#15c5cc"/>
<polygon points="221.43,118.48 229.48,117.00 223.42,115.03 215.37,116.53" fill="#07b6e3"/>
<polygon points="386.72,118.57 394.77,117.05 388.71,115.08 380.66,116.60" fill="#07bbdd"/>
<polygon points="171.03,118.59 179.09,117.12 173.03,115.14 164.97,116.63" fill="#07b9e0"/>
<polygon points="336.33,118.77 344.38,117.23 338.32,115.23 330.27,116.76" fill="#168ff0"/>
<polygon points="120.64,118.65 128.69,117.15 122.63,115.18 114.58,116.68" fill="#36ceb6"/>
<polygon points="285.93,118.53 293.99,116.93 287.93,115.26 279.87,116.74" fill="#fff627"/>
<polygon points="451.23,118.89 459.28,117.38 453.22,115.40 445.17,116.91" fill="#15c5cc"/>
<polygon points="235.54,118.90 243.59,117.44 237.53,115.52 229.48,117.00" fill="#15c5cc"/>
<polygon points="400.83,119.02 408.89,117.51 402.83,115.54 394.77,117.05" fill="#09bfd7"/>
<polygon points="185.15,119.09 193.20,117.58 187.14,115.60 179.09,117.12" fill="#0da7eb"/>
<polygon points="350.44,119.19 358.49,117.67 352.43,115.70 344.38,117.23" fill="#0ba9ea"/>
<polygon points="134.75,119.11 142.81,117.62 136.75,115.66 128.69,117.15" fill="#3fcfb0"/>
<polygon points="300.05,119.09 308.10,117.51 302.04,115.45 293.99,116.93" fill="#e6d265"/>
<polygon points="84.36,119.27 92.41,117.75 86.35,115.78 78.30,117.29" fill="#12c4ce"/>
<polygon points="249.65,119.30 257.71,117.85 251.65,115.98 243.59,117.44" fill="#66d49b"/>
<polygon points="414.95,119.48 423.00,117.96 416.94,115.99 408.89,117.51" fill="#10c3d0"/>
<polygon points="199.26,119.56 207.31,118.03 201.25,116.05 193.20,117.58" fill="#0ea4eb"/>
<polygon points="364.55,119.63 372.61,118.11 366.55,116.15 358.49,117.67" fill="#07b5e4"/>
<polygon points="148.87,119.58 156.92,118.11 150.86,116.14 142.81,117.62" fill="#34cdb7"/>
<polygon points="314.16,119.72 322.21,118.28 316.15,116.12 308.10,117.51" fill="#11c3cf"/>
<polygon points="98.47,119.72 106.53,118.20 100.47,116.23 92.41,117.75" fill="#18c6ca"/>
<polygon points="263.77,119.71 271.82,118.19 265.76,116.42 257.71,117.85" fill="#bbd577"/>
<polygon points="429.06,119.94 437.11,118.42 431.05,116.45 423.00,117.96" fill="#14c4cd"/>
<polygon points="213.37,119.99 221.43,118.48 215.37,116.53 207.31,118.03" fill="#07b4e5"/>
<polygon points="378.67,120.09 386.72,118.57 380.66,116.60 372.61,118.11" fill="#07b8e1"/>
<polygon points="162.98,120.06 171.03,118.59 164.97,116.63 156.92,118.11" fill="#1bc7c8"/>
<polygon points="328.27,120.30 336.33,118.77 330.27,116.76 322.21,118.28" fill="#1085f6"/>
<polygon points="112.59,120.18 120.64,118.65 114.58,116.68 106.53,118.20" fill="#25c9c1"/>
<polygon points="277.88,120.17 285.93,118.53 279.87,116.74 271.82,118.19" fill="#bbd577"/>
<polygon points="443.17,120.40 451.23,118.89 445.17,116.91 437.11,118.42" fill="#15c5cc"/>
<polygon points="227.49,120.44 235.54,118.90 229.48,117.00 221.43,118.48" fill="#08bed9"/>
<polygon points="392.78,120.54 400.83,119.02 394.77,117.05 386.72,118.57" fill="#07bcdb"/>
<polygon points="177.09,120.56 185.15,119.09 179.09,117.12 171.03,118.59" fill="#07bcdc"/>
<polygon points="342.39,120.72 350.44,119.19 344.38,117.23 336.33,118.77" fill="#129feb"/>
<polygon points="126.70,120.62 134.75,119.11 128.69,117.15 120.64,118.65" fill="#3bceb3"/>
<polygon points="291.99,120.79 300.05,119.09 293.99,116.93 285.93,118.53" fill="#07bbdd"/>
<polygon points="457.29,120.86 465.34,119.35 459.28,117.38 451.23,118.89" fill="#13c4ce"/>
<polygon points="241.60,120.89 249.65,119.30 243.59,117.44 235.54,118.90" fill="#0bc0d5"/>
<polygon points="406.89,120.99 414.95,119.48 408.89,117.51 400.83,119.02" fill="#0cc1d3"/>
<polygon points="191.21,121.06 199.26,119.56 193.20,117.58 185.15,119.09" fill="#0ba9ea"/>
<polygon points="356.50,121.15 364.55,119.63 358.49,117.67 350.44,119.19" fill="#07b0e8"/>
<polygon points="140.81,121.07 148.87,119.58 142.81,117.62 134.75,119.11" fill="#56d3a3"/>
<polygon points="306.11,121.25 314.16,119.72 308.10,117.51 300.05,119.09" fill="#07bcdc"/>
<polygon points="90.42,121.24 98.47,119.72 92.41,117.75 84.36,119.27" fill="#11c4cf"/>
<polygon points="255.71,121.36 263.77,119.71 257.71,117.85 249.65,119.30" fill="#08bed9"/>
<polygon points="421.01,121.45 429.06,119.94 423.00,117.96 414.95,119.48" fill="#12c4ce"/>
<polygon points="205.32,121.53 213.37,119.99 207.31,118.03 199.26,119.56" fill="#0da5eb"/>
<polygon points="370.61,121.61 378.67,120.09 372.61,118.11 364.55,119.63" fill="#07b3e6"/>
<polygon points="154.93,121.53 162.98,120.06 156.92,118.11 148.87,119.58" fill="#56d3a3"/>
<polygon points="320.22,121.73 328.27,120.30 322.21,118.28 314.16,119.72" fill="#07b4e6"/>
<polygon points="104.53,121.70 112.59,120.18 106.53,118.20 98.47,119.72" fill="#16c5cb"/>
<polygon points="269.83,121.85 277.88,120.17 271.82,118.19 263.77,119.71" fill="#07b4e5"/>
<polygon points="435.12,121.91 443.17,120.40 437.11,118.42 429.06,119.94" fill="#13c4cd"/>
<polygon points="219.43,121.98 227.49,120.44 221.43,118.48 213.37,119.99" fill="#07b1e7"/>
<polygon points="384.73,122.06 392.78,120.54 386.72,118.57 378.67,120.09" fill="#07b8e1"/>
<polygon points="169.04,122.02 177.09,120.56 171.03,118.59 162.98,120.06" fill="#2eccbb"/>
<polygon points="334.33,122.23 342.39,120.72 336.33,118.77 328.27,120.30" fill="#159bec"/>
<polygon points="118.65,122.15 126.70,120.62 120.64,118.65 112.59,120.18" fill="#21c8c4"/>
<polygon points="283.94,122.39 291.99,120.79 285.93,118.53 277.88,120.17" fill="#1388f4"/>
<polygon points="449.23,122.37 457.29,120.86 451.23,118.89 443.17,120.40" fill="#13c4ce"/>
<polygon points="233.55,122.45 241.60,120.89 235.54,118.90 227.49,120.44" fill="#09abea"/>
<polygon points="398.84,122.51 406.89,120.99 400.83,119.02 392.78,120.54" fill="#08bed9"/>
<polygon points="183.15,122.53 191.21,121.06 185.15,119.09 177.09,120.56" fill="#09bed8"/>
<polygon points="348.45,122.67 356.50,121.15 350.44,119.19 342.39,120.72" fill="#09ade9"/>
<polygon points="132.76,122.59 140.81,121.07 134.75,119.11 126.70,120.62" fill="#3bceb3"/>
<polygon points="298.05,122.89 306.11,121.25 300.05,119.09 291.99,120.79" fill="#086cfa"/>
<polygon points="463.35,122.84 471.40,121.33 465.34,119.35 457.29,120.86" fill="#11c3cf"/>
<polygon points="247.66,122.95 255.71,121.36 249.65,119.30 241.60,120.89" fill="#1794ee"/>
<polygon points="412.95,122.96 421.01,121.45 414.95,119.48 406.89,120.99" fill="#0ec2d2"/>
<polygon points="197.27,123.03 205.32,121.53 199.26,119.56 191.21,121.06" fill="#09ace9"/>
<polygon points="362.56,123.13 370.61,121.61 364.55,119.63 356.50,121.15" fill="#08afe9"/>
<polygon points="146.87,123.03 154.93,121.53 148.87,119.58 140.81,121.07" fill="#6bd599"/>
<polygon points="312.17,123.23 320.22,121.73 314.16,119.72 306.11,121.25" fill="#07badf"/>
<polygon points="96.48,123.22 104.53,121.70 98.47,119.72 90.42,121.24" fill="#10c3d0"/>
<polygon points="261.77,123.45 269.83,121.85 263.77,119.71 255.71,121.36" fill="#0b80f8"/>
<polygon points="427.07,123.42 435.12,121.91 429.06,119.94 421.01,121.45" fill="#11c3cf"/>
<polygon points="211.38,123.51 219.43,121.98 213.37,119.99 205.32,121.53" fill="#0fa3eb"/>
<polygon points="376.67,123.59 384.73,122.06 378.67,120.09 370.61,121.61" fill="#07b2e7"/>
<polygon points="160.99,123.48 169.04,122.02 162.98,120.06 154.93,121.53" fill="#7dd690"/>
<polygon points="326.28,123.67 334.33,122.23 328.27,120.30 320.22,121.73" fill="#0bc0d5"/>
<polygon points="110.59,123.68 118.65,122.15 112.59,120.18 104.53,121.70" fill="#14c4cd"/>
<polygon points="275.89,123.95 283.94,122.39 277.88,120.17 269.83,121.85" fill="#1067f8"/>
<polygon points="441.18,123.89 449.23,122.37 443.17,120.40 435.12,121.91" fill="#11c3cf"/>
<polygon points="225.49,123.98 233.55,122.45 227.49,120.44 219.43,121.98" fill="#139eeb"/>
<polygon points="390.79,124.03 398.84,122.51 392.78,120.54 384.73,122.06" fill="#07b9e0"/>
<polygon points="175.10,123.98 183.15,122.53 177.09,120.56 169.04,122.02" fill="#43d0ae"/>
<polygon points="340.39,124.18 348.45,122.67 342.39,120.72 334.33,122.23" fill="#09ade9"/>
<polygon points="124.71,124.13 132.76,122.59 126.70,120.62 118.65,122.15" fill="#1bc7c7"/>
<polygon points="290.00,124.43 298.05,122.89 291.99,120.79 283.94,122.39" fill="#364ed5"/>
<polygon points="455.29,124.35 463.35,122.84 457.29,120.86 449.23,122.37" fill="#12c4ce"/>
<polygon points="239.61,124.48 247.66,122.95 241.60,120.89 233.55,122.45" fill="#1085f5"/>
<polygon points="404.90,124.48 412.95,122.96 406.89,120.99 398.84,122.51" fill="#09bfd7"/>
<polygon points="189.21,124.49 197.27,123.03 191.21,121.06 183.15,122.53" fill="#0bc0d5"/>
<polygon points="354.51,124.64 362.56,123.13 356.50,121.15 348.45,122.67" fill="#09ade9"/>
<polygon points="138.82,124.57 146.87,123.03 140.81,121.07 132.76,122.59" fill="#35cdb7"/>
<polygon points="304.11,124.85 312.17,123.23 306.11,121.25 298.05,122.89" fill="#0376fc"/>
<polygon points="469.41,124.81 477.46,123.31 471.40,121.33 463.35,122.84" fill="#10c3d0"/>
<polygon points="253.72,125.00 261.77,123.45 255.71,121.36 247.66,122.95" fill="#2959e7"/>
<polygon points="419.01,124.94 427.07,123.42 421.01,121.45 412.95,122.96" fill="#0ec2d2"/>
<polygon points="203.33,125.00 211.38,123.51 205.32,121.53 197.27,123.03" fill="#09acea"/>
<polygon points="368.62,125.11 376.67,123.59 370.61,121.61 362.56,123.13" fill="#09ade9"/>
<polygon points="152.93,124.99 160.99,123.48 154.93,121.53 146.87,123.03" fill="#73d595"/>
<polygon points="318.23,125.15 326.28,123.67 320.22,121.73 312.17,123.23" fill="#2ccbbc"/>
<polygon points="102.54,125.19 110.59,123.68 104.53,121.70 96.48,123.22" fill="#0fc3d1"/>
<polygon points="267.83,125.49 275.89,123.95 269.83,121.85 261.77,123.45" fill="#3c41bc"/>
<polygon points="433.13,125.40 441.18,123.89 435.12,121.91 427.07,123.42" fill="#0ec2d1"/>
<polygon points="217.44,125.51 225.49,123.98 219.43,121.98 211.38,123.51" fill="#1793ee"/>
<polygon points="382.73,125.56 390.79,124.03 384.73,122.06 376.67,123.59" fill="#07b3e6"/>
<polygon points="167.05,125.44 175.10,123.98 169.04,122.02 160.99,123.48" fill="#92d687"/>
<polygon points="332.34,125.64 340.39,124.18 334.33,122.23 326.28,123.67" fill="#0fc2d1"/>
<polygon points="116.65,125.65 124.71,124.13 118.65,122.15 110.59,123.68" fill="#11c3cf"/>
<polygon points="281.95,125.95 290.00,124.43 283.94,122.39 275.89,123.95" fill="#3b45c3"/>
<polygon points="447.24,125.86 455.29,124.35 449.23,122.37 441.18,123.89" fill="#11c3cf"/>
<polygon points="231.55,126.02 239.61,124.48 233.55,122.45 225.49,123.98" fill="#0478fb"/>
<polygon points="396.85,126.00 404.90,124.48 398.84,122.51 390.79,124.03" fill="#07bbdd"/>
<polygon points="181.16,125.94 189.21,124.49 183.15,122.53 175.10,123.98" fill="#50d2a7"/>
<polygon points="346.45,126.15 354.51,124.64 348.45,122.67 340.39,124.18" fill="#08afe8"/>
<polygon points="130.77,126.11 138.82,124.57 132.76,122.59 124.71,124.13" fill="#15c5cc"/>
<polygon points="296.06,126.37 304.11,124.85 298.05,122.89 290.00,124.43" fill="#0273fc"/>
<polygon points="461.35,126.32 469.41,124.81 463.35,122.84 455.29,124.35" fill="#13c4ce"/>
<polygon points="245.67,126.55 253.72,125.00 247.66,122.95 239.61,124.48" fill="#3c37a6"/>
<polygon points="410.96,126.45 419.01,124.94 412.95,122.96 404.90,124.48" fill="#0ac0d6"/>
<polygon points="195.27,126.47 203.33,125.00 197.27,123.03 189.21,124.49" fill="#0abfd6"/>
<polygon points="360.57,126.62 368.62,125.11 362.56,123.13 354.51,124.64" fill="#09ade9"/>
<polygon points="144.88,126.55 152.93,124.99 146.87,123.03 138.82,124.57" fill="#2acbbd"/>
<polygon points="310.17,126.75 318.23,125.15 312.17,123.23 304.11,124.85" fill="#10a2eb"/>
<polygon points="475.47,126.79 483.52,125.28 477.46,123.31 469.41,124.81" fill="#10c3d0"/>
<polygon points="259.78,127.04 267.83,125.49 261.77,123.45 253.72,125.00" fill="#3b2f97"/>
<polygon points="425.07,126.91 433.13,125.40 427.07,123.42 419.01,124.94" fill="#0cc1d3"/>
<polygon points="209.39,127.00 217.44,125.51 211.38,123.51 203.33,125.00" fill="#149dec"/>
<polygon points="374.68,127.07 382.73,125.56 376.67,123.59 368.62,125.11" fill="#08afe8"/>
<polygon points="158.99,126.97 167.05,125.44 160.99,123.48 152.93,124.99" fill="#68d49a"/>
<polygon points="324.29,127.11 332.34,125.64 326.28,123.67 318.23,125.15" fill="#36ceb6"/>
<polygon points="108.60,127.17 116.65,125.65 110.59,123.68 102.54,125.19" fill="#0ec2d1"/>
<polygon points="273.89,127.47 281.95,125.95 275.89,123.95 267.83,125.49" fill="#3c41bc"/>
<polygon points="439.19,127.37 447.24,125.86 441.18,123.89 433.13,125.40" fill="#0ec2d2"/>
<polygon points="223.50,127.54 231.55,126.02 225.49,123.98 217.44,125.51" fill="#0273fc"/>
<polygon points="388.79,127.52 396.85,126.00 390.79,124.03 382.73,125.56" fill="#07b7e2"/>
<polygon points="173.11,127.42 181.16,125.94 175.10,123.98 167.05,125.44" fill="#8bd68a"/>
<polygon points="338.40,127.63 346.45,126.15 340.39,124.18 332.34,125.64" fill="#08bed9"/>
<polygon points="122.71,127.63 130.77,126.11 124.71,124.13 116.65,125.65" fill="#0ec2d2"/>
<polygon points="288.01,127.87 296.06,126.37 290.00,124.43 281.95,125.95" fill="#067bfa"/>
<polygon points="453.30,127.83 461.35,126.32 455.29,124.35 447.24,125.86" fill="#13c4ce"/>
<polygon points="237.61,128.08 245.67,126.55 239.61,124.48 231.55,126.02" fill="#3b2f97"/>
<polygon points="402.91,127.97 410.96,126.45 404.90,124.48 396.85,126.00" fill="#08bdda"/>
<polygon points="187.22,127.92 195.27,126.47 189.21,124.49 181.16,125.94" fill="#46d0ac"/>
<polygon points="352.51,128.12 360.57,126.62 354.51,124.64 346.45,126.15" fill="#07b1e7"/>
<polygon points="136.83,128.09 144.88,126.55 138.82,124.57 130.77,126.11" fill="#0ec2d1"/>
<polygon points="302.12,128.26 310.17,126.75 304.11,124.85 296.06,126.37" fill="#11a0eb"/>
<polygon points="467.41,128.29 475.47,126.79 469.41,124.81 461.35,126.32" fill="#13c4cd"/>
<polygon points="251.73,128.57 259.78,127.04 253.72,125.00 245.67,126.55" fill="#3b2f97"/>
<polygon points="417.02,128.42 425.07,126.91 419.01,124.94 410.96,126.45" fill="#0bc0d5"/>
<polygon points="201.33,128.46 209.39,127.00 203.33,125.00 195.27,126.47" fill="#07b8e1"/>
<polygon points="366.63,128.58 374.68,127.07 368.62,125.11 360.57,126.62" fill="#07b1e7"/>
<polygon points="150.94,128.54 158.99,126.97 152.93,124.99 144.88,126.55" fill="#1dc7c6"/>
<polygon points="316.23,128.69 324.29,127.11 318.23,125.15 310.17,126.75" fill="#07b7e3"/>
<polygon points="481.53,128.76 489.58,127.25 483.52,125.28 475.47,126.79" fill="#10c3d0"/>
<polygon points="265.84,128.97 273.89,127.47 267.83,125.49 259.78,127.04" fill="#3c43be"/>
<polygon points="431.13,128.89 439.19,127.37 433.13,125.40 425.07,126.91" fill="#0cc1d3"/>
<polygon points="215.45,129.01 223.50,127.54 217.44,125.51 209.39,127.00" fill="#1287f4"/>
<polygon points="380.74,129.04 388.79,127.52 382.73,125.56 374.68,127.07" fill="#07b6e4"/>
<polygon points="165.05,128.97 173.11,127.42 167.05,125.44 158.99,126.97" fill="#49d1aa"/>
<polygon points="330.35,129.10 338.40,127.63 332.34,125.64 324.29,127.11" fill="#1ec8c6"/>
<polygon points="114.66,129.14 122.71,127.63 116.65,125.65 108.60,127.17" fill="#0ec2d2"/>
<polygon points="279.95,129.36 288.01,127.87 281.95,125.95 273.89,127.47" fill="#0f84f6"/>
<polygon points="445.25,129.34 453.30,127.83 447.24,125.86 439.19,127.37" fill="#10c3d0"/>
<polygon points="229.56,129.55 237.61,128.08 231.55,126.02 223.50,127.54" fill="#3b45c4"/>
<polygon points="394.85,129.48 402.91,127.97 396.85,126.00 388.79,127.52" fill="#07bcdc"/>
<polygon points="179.17,129.41 187.22,127.92 181.16,125.94 173.11,127.42" fill="#61d49d"/>
<polygon points="344.46,129.61 352.51,128.12 346.45,126.15 338.40,127.63" fill="#07bbdd"/>
<polygon points="128.77,129.61 136.83,128.09 130.77,126.11 122.71,127.63" fill="#0bc0d5"/>
<polygon points="294.07,129.77 302.12,128.26 296.06,126.37 288.01,127.87" fill="#0da7eb"/>
<polygon points="459.36,129.80 467.41,128.29 461.35,126.32 453.30,127.83" fill="#14c4cd"/>
<polygon points="243.67,130.05 251.73,128.57 245.67,126.55 237.61,128.08" fill="#3b2f97"/>
<polygon points="408.97,129.94 417.02,128.42 410.96,126.45 402.91,127.97" fill="#0ac0d6"/>
<polygon points="193.28,129.92 201.33,128.46 195.27,126.47 187.22,127.92" fill="#28cabf"/>
<polygon points="358.57,130.08 366.63,128.58 360.57,126.62 352.51,128.12" fill="#07b7e3"/>
<polygon points="142.89,130.08 150.94,128.54 144.88,126.55 136.83,128.09" fill="#09bfd8"/>
<polygon points="308.18,130.20 316.23,128.69 310.17,126.75 302.12,128.26" fill="#07b4e5"/>
<polygon points="473.47,130.27 481.53,128.76 475.47,126.79 467.41,128.29" fill="#13c4ce"/>
<polygon points="257.79,130.46 265.84,128.97 259.78,127.04 251.73,128.57" fill="#2e56e2"/>
<polygon points="423.08,130.40 431.13,128.89 425.07,126.91 417.02,128.42" fill="#0cc1d3"/>
<polygon points="207.39,130.45 215.45,129.01 209.39,127.00 201.33,128.46" fill="#07b0e8"/>
<polygon points="372.69,130.54 380.74,129.04 374.68,127.07 366.63,128.58" fill="#07b9e0"/>
<polygon points="157.00,130.53 165.05,128.97 158.99,126.97 150.94,128.54" fill="#0dc2d2"/>
<polygon points="322.29,130.66 330.35,129.10 324.29,127.11 316.23,128.69" fill="#07badf"/>
<polygon points="487.59,130.73 495.64,129.23 489.58,127.25 481.53,128.76" fill="#0fc3d0"/>
<polygon points="271.90,130.85 279.95,129.36 273.89,127.47 265.84,128.97" fill="#168ff0"/>
<polygon points="437.19,130.86 445.25,129.34 439.19,127.37 431.13,128.89" fill="#0ec2d2"/>
<polygon points="221.51,130.98 229.56,129.55 223.50,127.54 215.45,129.01" fill="#1288f4"/>
<polygon points="386.80,130.99 394.85,129.48 388.79,127.52 380.74,129.04" fill="#07bcdc"/>
<polygon points="171.11,130.97 179.17,129.41 173.11,127.42 165.05,128.97" fill="#20c8c4"/>
<polygon points="336.41,131.09 344.46,129.61 338.40,127.63 330.35,129.10" fill="#0fc3d1"/>
<polygon points="120.72,131.11 128.77,129.61 122.71,127.63 114.66,129.14" fill="#0dc2d2"/>
<polygon points="286.01,131.26 294.07,129.77 288.01,127.87 279.95,129.36" fill="#08aee9"/>
<polygon points="451.31,131.31 459.36,129.80 453.30,127.83 445.25,129.34" fill="#12c4ce"/>
<polygon points="235.62,131.48 243.67,130.05 237.61,128.08 229.56,129.55" fill="#0378fb"/>
<polygon points="400.91,131.45 408.97,129.94 402.91,127.97 394.85,129.48" fill="#0ac0d6"/>
<polygon points="185.23,131.43 193.28,129.92 187.22,127.92 179.17,129.41" fill="#2bcbbd"/>
<polygon points="350.52,131.57 358.57,130.08 352.51,128.12 344.46,129.61" fill="#07bddb"/>
<polygon points="134.83,131.59 142.89,130.08 136.83,128.09 128.77,129.61" fill="#08bed9"/>
<polygon points="300.13,131.71 308.18,130.20 302.12,128.26 294.07,129.77" fill="#07b6e3"/>
<polygon points="465.42,131.78 473.47,130.27 467.41,128.29 459.36,129.80" fill="#14c4cd"/>
<polygon points="249.73,131.90 257.79,130.46 251.73,128.57 243.67,130.05" fill="#148bf2"/>
<polygon points="415.03,131.90 423.08,130.40 417.02,128.42 408.97,129.94" fill="#0dc2d2"/>
<polygon points="199.34,131.91 207.39,130.45 201.33,128.46 193.28,129.92" fill="#13c4cd"/>
<polygon points="364.63,132.04 372.69,130.54 366.63,128.58 358.57,130.08" fill="#07bddb"/>
<polygon points="148.95,132.06 157.00,130.53 150.94,128.54 142.89,130.08" fill="#07b9e0"/>
<polygon points="314.24,132.17 322.29,130.66 316.23,128.69 308.18,130.20" fill="#07b9e0"/>
<polygon points="479.53,132.24 487.59,130.73 481.53,128.76 473.47,130.27" fill="#11c3cf"/>
<polygon points="263.85,132.30 271.90,130.85 265.84,128.97 257.79,130.46" fill="#07b2e7"/>
<polygon points="429.14,132.37 437.19,130.86 431.13,128.89 423.08,130.40" fill="#0ec2d2"/>
<polygon points="213.45,132.42 221.51,130.98 215.45,129.01 207.39,130.45" fill="#07b6e4"/>
<polygon points="378.75,132.50 386.80,130.99 380.74,129.04 372.69,130.54" fill="#09bfd8"/>
<polygon points="163.06,132.53 171.11,130.97 165.05,128.97 157.00,130.53" fill="#07b8e1"/>
<polygon points="328.35,132.62 336.41,131.09 330.35,129.10 322.29,130.66" fill="#07bcdb"/>
<polygon points="493.65,132.71 501.70,131.20 495.64,129.23 487.59,130.73" fill="#0fc2d1"/>
<polygon points="277.96,132.73 286.01,131.26 279.95,129.36 271.90,130.85" fill="#0ac0d5"/>
<polygon points="443.25,132.83 451.31,131.31 445.25,129.34 437.19,130.86" fill="#10c3d0"/>
<polygon points="227.57,132.91 235.62,131.48 229.56,129.55 221.51,130.98" fill="#0da7eb"/>
<polygon points="392.86,132.95 400.91,131.45 394.85,129.48 386.80,130.99" fill="#0bc1d4"/>
<polygon points="177.17,132.98 185.23,131.43 179.17,129.41 171.11,130.97" fill="#07bcdb"/>
<polygon points="342.47,133.07 350.52,131.57 344.46,129.61 336.41,131.09" fill="#0cc1d3"/>
<polygon points="126.78,133.09 134.83,131.59 128.77,129.61 120.72,131.11" fill="#0dc1d3"/>
<polygon points="292.07,133.19 300.13,131.71 294.07,129.77 286.01,131.26" fill="#0cc1d3"/>
<polygon points="457.37,133.29 465.42,131.78 459.36,129.80 451.31,131.31" fill="#12c4ce"/>
<polygon points="241.68,133.35 249.73,131.90 243.67,130.05 235.62,131.48" fill="#08afe8"/>
<polygon points="406.97,133.41 415.03,131.90 408.97,129.94 400.91,131.45" fill="#0fc2d1"/>
<polygon points="191.29,133.43 199.34,131.91 193.28,129.92 185.23,131.43" fill="#11c3cf"/>
<polygon points="356.58,133.54 364.63,132.04 358.57,130.08 350.52,131.57" fill="#0ac0d5"/>
<polygon points="140.89,133.57 148.95,132.06 142.89,130.08 134.83,131.59" fill="#07bcdb"/>
<polygon points="306.19,133.66 314.24,132.17 308.18,130.20 300.13,131.71" fill="#0cc1d4"/>
<polygon points="471.48,133.75 479.53,132.24 473.47,130.27 465.42,131.78" fill="#12c4cf"/>
<polygon points="255.79,133.77 263.85,132.30 257.79,130.46 249.73,131.90" fill="#12c4ce"/>
<polygon points="421.09,133.87 429.14,132.37 423.08,130.40 415.03,131.90" fill="#10c3d0"/>
<polygon points="205.40,133.87 213.45,132.42 207.39,130.45 199.34,131.91" fill="#1ec8c5"/>
<polygon points="370.69,134.00 378.75,132.50 372.69,130.54 364.63,132.04" fill="#0dc1d3"/>
<polygon points="155.01,134.05 163.06,132.53 157.00,130.53 148.95,132.06" fill="#07b4e5"/>
<polygon points="320.30,134.12 328.35,132.62 322.29,130.66 314.24,132.17" fill="#0ec2d2"/>
<polygon points="485.59,134.22 493.65,132.71 487.59,130.73 479.53,132.24" fill="#0fc2d1"/>
<polygon points="269.91,134.19 277.96,132.73 271.90,130.85 263.85,132.30" fill="#45d0ad"/>
<polygon points="435.20,134.34 443.25,132.83 437.19,130.86 429.14,132.37" fill="#10c3d0"/>
<polygon points="219.51,134.35 227.57,132.91 221.51,130.98 213.45,132.42" fill="#16c5cb"/>
<polygon points="384.81,134.46 392.86,132.95 386.80,130.99 378.75,132.50" fill="#0fc3d1"/>
<polygon points="169.12,134.53 177.17,132.98 171.11,130.97 163.06,132.53" fill="#09ade9"/>
<polygon points="334.41,134.58 342.47,133.07 336.41,131.09 328.35,132.62" fill="#0cc1d4"/>
<polygon points="284.02,134.63 292.07,133.19 286.01,131.26 277.96,132.73" fill="#5dd39f"/>
<polygon points="449.31,134.80 457.37,133.29 451.31,131.31 443.25,132.83" fill="#11c3cf"/>
<polygon points="233.63,134.83 241.68,133.35 235.62,131.48 227.57,132.91" fill="#08bed8"/>
<polygon points="398.92,134.92 406.97,133.41 400.91,131.45 392.86,132.95" fill="#11c3cf"/>
<polygon points="183.23,134.98 191.29,133.43 185.23,131.43 177.17,132.98" fill="#07b3e6"/>
<polygon points="348.53,135.04 356.58,133.54 350.52,131.57 342.47,133.07" fill="#0ec2d2"/>
<polygon points="132.84,135.06 140.89,133.57 134.83,131.59 126.78,133.09" fill="#0bc1d4"/>
<polygon points="298.13,135.10 306.19,133.66 300.13,131.71 292.07,133.19" fill="#60d49e"/>
<polygon points="463.43,135.26 471.48,133.75 465.42,131.78 457.37,133.29" fill="#11c3cf"/>
<polygon points="247.74,135.30 255.79,133.77 249.73,131.90 241.68,133.35" fill="#07bdda"/>
<polygon points="413.03,135.38 421.09,133.87 415.03,131.90 406.97,133.41" fill="#12c4ce"/>
<polygon points="197.35,135.40 205.40,133.87 199.34,131.91 191.29,133.43" fill="#14c5cd"/>
<polygon points="362.64,135.50 370.69,134.00 364.63,132.04 356.58,133.54" fill="#0fc3d1"/>
<polygon points="146.95,135.54 155.01,134.05 148.95,132.06 140.89,133.57" fill="#07bcdc"/>
<polygon points="312.25,135.53 320.30,134.12 314.24,132.17 306.19,133.66" fill="#91d688"/>
<polygon points="477.54,135.73 485.59,134.22 479.53,132.24 471.48,133.75" fill="#0fc2d1"/>
<polygon points="261.85,135.75 269.91,134.19 263.85,132.30 255.79,133.77" fill="#0dc1d3"/>
<polygon points="427.15,135.84 435.20,134.34 429.14,132.37 421.09,133.87" fill="#12c4ce"/>
<polygon points="211.46,135.81 219.51,134.35 213.45,132.42 205.40,133.87" fill="#47d1ac"/>
<polygon points="376.75,135.96 384.81,134.46 378.75,132.50 370.69,134.00" fill="#12c4ce"/>
<polygon points="161.07,136.02 169.12,134.53 163.06,132.53 155.01,134.05" fill="#07b4e5"/>
<polygon points="326.36,135.99 334.41,134.58 328.35,132.62 320.30,134.12" fill="#98d685"/>
<polygon points="275.97,136.20 284.02,134.63 277.96,132.73 269.91,134.19" fill="#19c6c9"/>
<polygon points="441.26,136.31 449.31,134.80 443.25,132.83 435.20,134.34" fill="#11c3cf"/>
<polygon points="225.57,136.28 233.63,134.83 227.57,132.91 219.51,134.35" fill="#45d0ad"/>
<polygon points="390.87,136.43 398.92,134.92 392.86,132.95 384.81,134.46" fill="#14c4cd"/>
<polygon points="175.18,136.50 183.23,134.98 177.17,132.98 169.12,134.53" fill="#09acea"/>
<polygon points="340.47,136.52 348.53,135.04 342.47,133.07 334.41,134.58" fill="#33cdb8"/>
<polygon points="290.08,136.65 298.13,135.10 292.07,133.19 284.02,134.63" fill="#27cac0"/>
<polygon points="455.37,136.77 463.43,135.26 457.37,133.29 449.31,134.80" fill="#10c3d0"/>
<polygon points="239.69,136.77 247.74,135.30 241.68,133.35 233.63,134.83" fill="#1fc8c5"/>
<polygon points="404.98,136.89 413.03,135.38 406.97,133.41 398.92,134.92" fill="#14c4cd"/>
<polygon points="189.29,136.95 197.35,135.40 191.29,133.43 183.23,134.98" fill="#07b5e4"/>
<polygon points="354.59,137.01 362.64,135.50 356.58,133.54 348.53,135.04" fill="#15c5cc"/>
<polygon points="138.90,137.04 146.95,135.54 140.89,133.57 132.84,135.06" fill="#0ac0d6"/>
<polygon points="304.19,137.08 312.25,135.53 306.19,133.66 298.13,135.10" fill="#51d2a6"/>
<polygon points="469.49,137.24 477.54,135.73 471.48,133.75 463.43,135.26" fill="#0fc2d1"/>
<polygon points="253.80,137.26 261.85,135.75 255.79,133.77 247.74,135.30" fill="#0bc1d4"/>
<polygon points="419.09,137.35 427.15,135.84 421.09,133.87 413.03,135.38" fill="#15c5cc"/>
<polygon points="203.41,137.35 211.46,135.81 205.40,133.87 197.35,135.40" fill="#23c9c2"/>
<polygon points="368.70,137.47 376.75,135.96 370.69,134.00 362.64,135.50" fill="#13c4ce"/>
<polygon points="153.01,137.51 161.07,136.02 155.01,134.05 146.95,135.54" fill="#08bed9"/>
<polygon points="318.31,137.43 326.36,135.99 320.30,134.12 312.25,135.53" fill="#ecd163"/>
<polygon points="267.91,137.73 275.97,136.20 269.91,134.19 261.85,135.75" fill="#09bed8"/>
<polygon points="433.21,137.82 441.26,136.31 435.20,134.34 427.15,135.84" fill="#14c4cd"/>
<polygon points="217.52,137.77 225.57,136.28 219.51,134.35 211.46,135.81" fill="#67d49b"/>
<polygon points="382.81,137.93 390.87,136.43 384.81,134.46 376.75,135.96" fill="#15c5cc"/>
<polygon points="167.13,137.98 175.18,136.50 169.12,134.53 161.07,136.02" fill="#07badf"/>
<polygon points="332.42,137.87 340.47,136.52 334.41,134.58 326.36,135.99" fill="#ffcf58"/>
<polygon points="282.03,138.19 290.08,136.65 284.02,134.63 275.97,136.20" fill="#09bfd8"/>
<polygon points="447.32,138.28 455.37,136.77 449.31,134.80 441.26,136.31" fill="#10c3d0"/>
<polygon points="231.63,138.24 239.69,136.77 233.63,134.83 225.57,136.28" fill="#60d49e"/>
<polygon points="396.93,138.40 404.98,136.89 398.92,134.92 390.87,136.43" fill="#16c5cc"/>
<polygon points="181.24,138.45 189.29,136.95 183.23,134.98 175.18,136.50" fill="#07b6e3"/>
<polygon points="346.53,138.47 354.59,137.01 348.53,135.04 340.47,136.52" fill="#52d2a6"/>
<polygon points="296.14,138.65 304.19,137.08 298.13,135.10 290.08,136.65" fill="#0ac0d5"/>
<polygon points="461.43,138.75 469.49,137.24 463.43,135.26 455.37,136.77" fill="#0ec2d2"/>
<polygon points="245.75,138.74 253.80,137.26 247.74,135.30 239.69,136.77" fill="#2bcbbd"/>
<polygon points="411.04,138.86 419.09,137.35 413.03,135.38 404.98,136.89" fill="#15c5cc"/>
<polygon points="195.35,138.90 203.41,137.35 197.35,135.40 189.29,136.95" fill="#07bcdc"/>
<polygon points="360.65,138.98 368.70,137.47 362.64,135.50 354.59,137.01" fill="#16c5cb"/>
<polygon points="144.96,139.01 153.01,137.51 146.95,135.54 138.90,137.04" fill="#0bc0d5"/>
<polygon points="310.25,139.09 318.31,137.43 312.25,135.53 304.19,137.08" fill="#1ec8c6"/>
<polygon points="259.86,139.23 267.91,137.73 261.85,135.75 253.80,137.26" fill="#10c3d0"/>
<polygon points="425.15,139.32 433.21,137.82 427.15,135.84 419.09,137.35" fill="#17c5cb"/>
<polygon points="209.47,139.32 217.52,137.77 211.46,135.81 203.41,137.35" fill="#2bcbbd"/>
<polygon points="374.76,139.45 382.81,137.93 376.75,135.96 368.70,137.47" fill="#14c4cd"/>
<polygon points="159.07,139.48 167.13,137.98 161.07,136.02 153.01,137.51" fill="#0ac0d5"/>
<polygon points="324.37,139.48 332.42,137.87 326.36,135.99 318.31,137.43" fill="#82d68e"/>
<polygon points="273.97,139.70 282.03,138.19 275.97,136.20 267.91,137.73" fill="#0ac0d6"/>
<polygon points="439.27,139.79 447.32,138.28 441.26,136.31 433.21,137.82" fill="#13c4ce"/>
<polygon points="223.58,139.74 231.63,138.24 225.57,136.28 217.52,137.77" fill="#68d49a"/>
<polygon points="388.87,139.91 396.93,138.40 390.87,136.43 382.81,137.93" fill="#16c5cb"/>
<polygon points="173.19,139.94 181.24,138.45 175.18,136.50 167.13,137.98" fill="#09bfd7"/>
<polygon points="338.48,139.95 346.53,138.47 340.47,136.52 332.42,137.87" fill="#85d68d"/>
<polygon points="288.09,140.16 296.14,138.65 290.08,136.65 282.03,138.19" fill="#09bfd7"/>
<polygon points="453.38,140.26 461.43,138.75 455.37,136.77 447.32,138.28" fill="#0ec2d2"/>
<polygon points="237.69,140.20 245.75,138.74 239.69,136.77 231.63,138.24" fill="#67d49a"/>
<polygon points="402.99,140.37 411.04,138.86 404.98,136.89 396.93,138.40" fill="#15c5cc"/>
<polygon points="187.30,140.41 195.35,138.90 189.29,136.95 181.24,138.45" fill="#08bed9"/>
<polygon points="352.59,140.48 360.65,138.98 354.59,137.01 346.53,138.47" fill="#1bc7c7"/>
<polygon points="302.20,140.62 310.25,139.09 304.19,137.08 296.14,138.65" fill="#0bc0d5"/>
<polygon points="251.81,140.70 259.86,139.23 253.80,137.26 245.75,138.74" fill="#3bcfb3"/>
<polygon points="417.10,140.83 425.15,139.32 419.09,137.35 411.04,138.86" fill="#16c5cb"/>
<polygon points="201.41,140.86 209.47,139.32 203.41,137.35 195.35,138.90" fill="#0dc1d3"/>
<polygon points="366.71,140.96 374.76,139.45 368.70,137.47 360.65,138.98" fill="#0dc1d3"/>
<polygon points="151.02,140.98 159.07,139.48 153.01,137.51 144.96,139.01" fill="#0dc1d3"/>
<polygon points="316.31,141.08 324.37,139.48 318.31,137.43 310.25,139.09" fill="#0dc2d3"/>
<polygon points="265.92,141.19 273.97,139.70 267.91,137.73 259.86,139.23" fill="#1cc7c7"/>
<polygon points="431.21,141.30 439.27,139.79 433.21,137.82 425.15,139.32" fill="#15c5cc"/>
<polygon points="215.53,141.29 223.58,139.74 217.52,137.77 209.47,139.32" fill="#2ccbbc"/>
<polygon points="380.82,141.42 388.87,139.91 382.81,137.93 374.76,139.45" fill="#12c4cf"/>
<polygon points="165.13,141.44 173.19,139.94 167.13,137.98 159.07,139.48" fill="#0ec2d2"/>
<polygon points="330.43,141.54 338.48,139.95 332.42,137.87 324.37,139.48" fill="#11c3cf"/>
<polygon points="280.03,141.67 288.09,140.16 282.03,138.19 273.97,139.70" fill="#0ec2d2"/>
<polygon points="445.33,141.77 453.38,140.26 447.32,138.28 439.27,139.79" fill="#0fc2d1"/>
<polygon points="229.64,141.73 237.69,140.20 231.63,138.24 223.58,139.74" fill="#53d2a5"/>
<polygon points="394.93,141.88 402.99,140.37 396.93,138.40 388.87,139.91" fill="#14c5cd"/>
<polygon points="179.25,141.91 187.30,140.41 181.24,138.45 173.19,139.94" fill="#0dc2d3"/>
<polygon points="344.54,142.01 352.59,140.48 346.53,138.47 338.48,139.95" fill="#0dc1d3"/>
<polygon points="294.15,142.13 302.20,140.62 296.14,138.65 288.09,140.16" fill="#0bc1d4"/>
<polygon points="243.75,142.19 251.81,140.70 245.75,138.74 237.69,140.20" fill="#55d3a4"/>
<polygon points="409.05,142.35 417.10,140.83 411.04,138.86 402.99,140.37" fill="#13c4cd"/>
<polygon points="193.36,142.37 201.41,140.86 195.35,138.90 187.30,140.41" fill="#0cc1d4"/>
<polygon points="358.65,142.48 366.71,140.96 360.65,138.98 352.59,140.48" fill="#08bed9"/>
<polygon points="308.26,142.60 316.31,141.08 310.25,139.09 302.20,140.62" fill="#0bc0d5"/>
<polygon points="257.87,142.66 265.92,141.19 259.86,139.23 251.81,140.70" fill="#47d0ac"/>
<polygon points="423.16,142.81 431.21,141.30 425.15,139.32 417.10,140.83" fill="#14c4cd"/>
<polygon points="207.47,142.83 215.53,141.29 209.47,139.32 201.41,140.86" fill="#12c4ce"/>
<polygon points="372.77,142.94 380.82,141.42 374.76,139.45 366.71,140.96" fill="#0bc0d5"/>
<polygon points="157.08,142.95 165.13,141.44 159.07,139.48 151.02,140.98" fill="#0fc2d1"/>
<polygon points="322.37,143.07 330.43,141.54 324.37,139.48 316.31,141.08" fill="#08bed8"/>
<polygon points="271.98,143.14 280.03,141.67 273.97,139.70 265.92,141.19" fill="#32cdb8"/>
<polygon points="437.27,143.28 445.33,141.77 439.27,139.79 431.21,141.30" fill="#10c3d0"/>
<polygon points="221.59,143.27 229.64,141.73 223.58,139.74 215.53,141.29" fill="#29cbbe"/>
<polygon points="386.88,143.40 394.93,141.88 388.87,139.91 380.82,141.42" fill="#11c3cf"/>
<polygon points="171.19,143.41 179.25,141.91 173.19,139.94 165.13,141.44" fill="#0fc2d1"/>
<polygon points="336.49,143.54 344.54,142.01 338.48,139.95 330.43,141.54" fill="#07bcdc"/>
<polygon points="286.09,143.63 294.15,142.13 288.09,140.16 280.03,141.67" fill="#1ac6c8"/>
<polygon points="235.70,143.72 243.75,142.19 237.69,140.20 229.64,141.73" fill="#39ceb4"/>
<polygon points="400.99,143.86 409.05,142.35 402.99,140.37 394.93,141.88" fill="#11c3cf"/>
<polygon points="185.31,143.88 193.36,142.37 187.30,140.41 179.25,141.91" fill="#0dc2d2"/>
<polygon points="350.60,144.00 358.65,142.48 352.59,140.48 344.54,142.01" fill="#07bbdd"/>
<polygon points="300.21,144.10 308.26,142.60 302.20,140.62 294.15,142.13" fill="#0ec2d2"/>
<polygon points="249.81,144.19 257.87,142.66 251.81,140.70 243.75,142.19" fill="#32cdb8"/>
<polygon points="415.11,144.32 423.16,142.81 417.10,140.83 409.05,142.35" fill="#10c3d0"/>
<polygon points="199.42,144.34 207.47,142.83 201.41,140.86 193.36,142.37" fill="#0dc1d3"/>
<polygon points="364.71,144.46 372.77,142.94 366.71,140.96 358.65,142.48" fill="#07bdda"/>
<polygon points="314.32,144.57 322.37,143.07 316.31,141.08 308.26,142.60" fill="#09bfd7"/>
<polygon points="263.93,144.65 271.98,143.14 265.92,141.19 257.87,142.66" fill="#31ccb9"/>
<polygon points="429.22,144.79 437.27,143.28 431.21,141.30 423.16,142.81" fill="#0fc3d0"/>
<polygon points="213.53,144.80 221.59,143.27 215.53,141.29 207.47,142.83" fill="#14c4cd"/>
<polygon points="378.83,144.91 386.88,143.40 380.82,141.42 372.77,142.94" fill="#0cc1d3"/>
<polygon points="163.14,144.93 171.19,143.41 165.13,141.44 157.08,142.95" fill="#0fc2d1"/>
<polygon points="328.43,145.05 336.49,143.54 330.43,141.54 322.37,143.07" fill="#07bcdc"/>
<polygon points="278.04,145.11 286.09,143.63 280.03,141.67 271.98,143.14" fill="#31cdb9"/>
<polygon points="227.65,145.25 235.70,143.72 229.64,141.73 221.59,143.27" fill="#22c9c2"/>
<polygon points="392.94,145.37 400.99,143.86 394.93,141.88 386.88,143.40" fill="#0fc3d1"/>
<polygon points="177.25,145.39 185.31,143.88 179.25,141.91 171.19,143.41" fill="#0ec2d2"/>
<polygon points="342.55,145.51 350.60,144.00 344.54,142.01 336.49,143.54" fill="#07bade"/>
<polygon points="292.15,145.59 300.21,144.10 294.15,142.13 286.09,143.63" fill="#22c9c3"/>
<polygon points="241.76,145.71 249.81,144.19 243.75,142.19 235.70,143.72" fill="#26cac0"/>
<polygon points="407.05,145.84 415.11,144.32 409.05,142.35 400.99,143.86" fill="#0dc2d2"/>
<polygon points="191.37,145.86 199.42,144.34 193.36,142.37 185.31,143.88" fill="#0cc1d3"/>
<polygon points="356.66,145.97 364.71,144.46 358.65,142.48 350.60,144.00" fill="#07bbdd"/>
<polygon points="306.27,146.07 314.32,144.57 308.26,142.60 300.21,144.10" fill="#10c3d0"/>
<polygon points="255.87,146.18 263.93,144.65 257.87,142.66 249.81,144.19" fill="#1dc7c6"/>
<polygon points="421.17,146.30 429.22,144.79 423.16,142.81 415.11,144.32" fill="#0dc2d2"/>
<polygon points="205.48,146.32 213.53,144.80 207.47,142.83 199.42,144.34" fill="#0dc2d2"/>
<polygon points="370.77,146.43 378.83,144.91 372.77,142.94 364.71,144.46" fill="#09bfd7"/>
<polygon points="320.38,146.55 328.43,145.05 322.37,143.07 314.32,144.57" fill="#08bed8"/>
<polygon points="269.99,146.65 278.04,145.11 271.98,143.14 263.93,144.65" fill="#1ac7c8"/>
<polygon points="219.59,146.77 227.65,145.25 221.59,143.27 213.53,144.80" fill="#14c4cd"/>
<polygon points="384.89,146.88 392.94,145.37 386.88,143.40 378.83,144.91" fill="#0dc2d3"/>
<polygon points="169.20,146.90 177.25,145.39 171.19,143.41 163.14,144.93" fill="#0ec2d1"/>
<polygon points="334.49,147.02 342.55,145.51 336.49,143.54 328.43,145.05" fill="#07bbdd"/>
<polygon points="284.10,147.11 292.15,145.59 286.09,143.63 278.04,145.11" fill="#1cc7c7"/>
<polygon points="233.71,147.23 241.76,145.71 235.70,143.72 227.65,145.25" fill="#1bc7c8"/>
<polygon points="399.00,147.35 407.05,145.84 400.99,143.86 392.94,145.37" fill="#0dc1d3"/>
<polygon points="183.31,147.36 191.37,145.86 185.31,143.88 177.25,145.39" fill="#0dc2d2"/>
<polygon points="348.61,147.48 356.66,145.97 350.60,144.00 342.55,145.51" fill="#07bbdd"/>
<polygon points="298.21,147.57 306.27,146.07 300.21,144.10 292.15,145.59" fill="#19c6c9"/>
<polygon points="247.82,147.69 255.87,146.18 249.81,144.19 241.76,145.71" fill="#1ac6c8"/>
<polygon points="413.11,147.81 421.17,146.30 415.11,144.32 407.05,145.84" fill="#0cc1d4"/>
<polygon points="197.43,147.83 205.48,146.32 199.42,144.34 191.37,145.86" fill="#0cc1d3"/>
<polygon points="362.72,147.94 370.77,146.43 364.71,144.46 356.66,145.97" fill="#08bed9"/>
<polygon points="312.33,148.05 320.38,146.55 314.32,144.57 306.27,146.07" fill="#0fc3d1"/>
<polygon points="261.93,148.16 269.99,146.65 263.93,144.65 255.87,146.18" fill="#16c5cb"/>
<polygon points="211.54,148.29 219.59,146.77 213.53,144.80 205.48,146.32" fill="#0ec2d2"/>
<polygon points="376.83,148.40 384.89,146.88 378.83,144.91 370.77,146.43" fill="#0bc1d4"/>
<polygon points="326.44,148.52 334.49,147.02 328.43,145.05 320.38,146.55" fill="#09bfd8"/>
<polygon points="276.05,148.63 284.10,147.11 278.04,145.11 269.99,146.65" fill="#14c4cd"/>
<polygon points="225.65,148.75 233.71,147.23 227.65,145.25 219.59,146.77" fill="#12c4ce"/>
<polygon points="390.95,148.86 399.00,147.35 392.94,145.37 384.89,146.88" fill="#0dc2d3"/>
<polygon points="175.26,148.87 183.31,147.36 177.25,145.39 169.20,146.90" fill="#0fc2d1"/>
<polygon points="340.55,148.99 348.61,147.48 342.55,145.51 334.49,147.02" fill="#07bdda"/>
<polygon points="290.16,149.09 298.21,147.57 292.15,145.59 284.10,147.11" fill="#12c4ce"/>
<polygon points="239.77,149.21 247.82,147.69 241.76,145.71 233.71,147.23" fill="#15c5cc"/>
<polygon points="405.06,149.32 413.11,147.81 407.05,145.84 399.00,147.35" fill="#0cc1d3"/>
<polygon points="189.37,149.34 197.43,147.83 191.37,145.86 183.31,147.36" fill="#0dc2d2"/>
<polygon points="354.67,149.45 362.72,147.94 356.66,145.97 348.61,147.48" fill="#08bed9"/>
<polygon points="304.27,149.56 312.33,148.05 306.27,146.07 298.21,147.57" fill="#11c3cf"/>
<polygon points="253.88,149.67 261.93,148.16 255.87,146.18 247.82,147.69" fill="#15c5cc"/>
<polygon points="203.49,149.80 211.54,148.29 205.48,146.32 197.43,147.83" fill="#0dc2d3"/>
<polygon points="368.78,149.91 376.83,148.40 370.77,146.43 362.72,147.94" fill="#0bc0d5"/>
<polygon points="318.39,150.02 326.44,148.52 320.38,146.55 312.33,148.05" fill="#0ec2d2"/>
<polygon points="267.99,150.13 276.05,148.63 269.99,146.65 261.93,148.16" fill="#15c5cc"/>
<polygon points="217.60,150.26 225.65,148.75 219.59,146.77 211.54,148.29" fill="#0fc2d1"/>
<polygon points="382.89,150.37 390.95,148.86 384.89,146.88 376.83,148.40" fill="#0dc2d3"/>
<polygon points="332.50,150.49 340.55,148.99 334.49,147.02 326.44,148.52" fill="#0ac0d6"/>
<polygon points="282.11,150.60 290.16,149.09 284.10,147.11 276.05,148.63" fill="#13c4cd"/>
<polygon points="231.71,150.72 239.77,149.21 233.71,147.23 225.65,148.75" fill="#11c3cf"/>
<polygon points="397.01,150.83 405.06,149.32 399.00,147.35 390.95,148.86" fill="#0ec2d2"/>
<polygon points="181.32,150.84 189.37,149.34 183.31,147.36 175.26,148.87" fill="#10c3d0"/>
<polygon points="346.61,150.96 354.67,149.45 348.61,147.48 340.55,148.99" fill="#0abfd6"/>
<polygon points="296.22,151.06 304.27,149.56 298.21,147.57 290.16,149.09" fill="#12c4ce"/>
<polygon points="245.83,151.19 253.88,149.67 247.82,147.69 239.77,149.21" fill="#11c3cf"/>
<polygon points="195.43,151.31 203.49,149.80 197.43,147.83 189.37,149.34" fill="#0ec2d2"/>
<polygon points="360.73,151.42 368.78,149.91 362.72,147.94 354.67,149.45" fill="#0cc1d4"/>
<polygon points="310.33,151.53 318.39,150.02 312.33,148.05 304.27,149.56" fill="#11c3cf"/>
<polygon points="259.94,151.65 267.99,150.13 261.93,148.16 253.88,149.67" fill="#13c4cd"/>
<polygon points="209.55,151.77 217.60,150.26 211.54,148.29 203.49,149.80" fill="#0ec2d2"/>
<polygon points="374.84,151.88 382.89,150.37 376.83,148.40 368.78,149.91" fill="#0ec2d2"/>
<polygon points="324.45,151.99 332.50,150.49 326.44,148.52 318.39,150.02" fill="#0fc2d1"/>
<polygon points="274.05,152.11 282.11,150.60 276.05,148.63 267.99,150.13" fill="#15c5cc"/>
<polygon points="223.66,152.24 231.71,150.72 225.65,148.75 217.60,150.26" fill="#0fc2d1"/>
<polygon points="388.95,152.34 397.01,150.83 390.95,148.86 382.89,150.37" fill="#0fc2d1"/>
<polygon points="338.56,152.46 346.61,150.96 340.55,148.99 332.50,150.49" fill="#0dc2d3"/>
<polygon points="288.17,152.57 296.22,151.06 290.16,149.09 282.11,150.60" fill="#14c5cc"/>
<polygon points="237.77,152.70 245.83,151.19 239.77,149.21 231.71,150.72" fill="#0fc3d1"/>
<polygon points="187.38,152.82 195.43,151.31 189.37,149.34 181.32,150.84" fill="#10c3d0"/>
<polygon points="352.67,152.92 360.73,151.42 354.67,149.45 346.61,150.96" fill="#0ec2d2"/>
<polygon points="302.28,153.04 310.33,151.53 304.27,149.56 296.22,151.06" fill="#14c4cd"/>
<polygon points="251.89,153.16 259.94,151.65 253.88,149.67 245.83,151.19" fill="#10c3d0"/>
<polygon points="201.49,153.28 209.55,151.77 203.49,149.80 195.43,151.31" fill="#0ec2d2"/>
<polygon points="366.79,153.38 374.84,151.88 368.78,149.91 360.73,151.42" fill="#0fc3d0"/>
<polygon points="316.39,153.50 324.45,151.99 318.39,150.02 310.33,151.53" fill="#13c4ce"/>
<polygon points="266.00,153.62 274.05,152.11 267.99,150.13 259.94,151.65" fill="#13c4cd"/>
<polygon points="215.61,153.75 223.66,152.24 217.60,150.26 209.55,151.77" fill="#0ec2d2"/>
<polygon points="380.90,153.85 388.95,152.34 382.89,150.37 374.84,151.88" fill="#10c3d0"/>
<polygon points="330.51,153.97 338.56,152.46 332.50,150.49 324.45,151.99" fill="#11c3cf"/>
<polygon points="280.11,154.08 288.17,152.57 282.11,150.60 274.05,152.11" fill="#15c5cc"/>
<polygon points="229.72,154.21 237.77,152.70 231.71,150.72 223.66,152.24" fill="#0ec2d1"/>
<polygon points="344.62,154.43 352.67,152.92 346.61,150.96 338.56,152.46" fill="#10c3d0"/>
<polygon points="294.23,154.54 302.28,153.04 296.22,151.06 288.17,152.57" fill="#15c5cc"/>
<polygon points="243.83,154.67 251.89,153.16 245.83,151.19 237.77,152.70" fill="#0ec2d1"/>
<polygon points="193.44,154.79 201.49,153.28 195.43,151.31 187.38,152.82" fill="#0fc3d0"/>
<polygon points="358.73,154.89 366.79,153.38 360.73,151.42 352.67,152.92" fill="#11c3cf"/>
<polygon points="308.34,155.01 316.39,153.50 310.33,151.53 302.28,153.04" fill="#14c4cd"/>
<polygon points="257.95,155.13 266.00,153.62 259.94,151.65 251.89,153.16" fill="#10c3d0"/>
<polygon points="207.55,155.26 215.61,153.75 209.55,151.77 201.49,153.28" fill="#0ec2d2"/>
<polygon points="372.85,155.35 380.90,153.85 374.84,151.88 366.79,153.38" fill="#11c3cf"/>
<polygon points="322.45,155.47 330.51,153.97 324.45,151.99 316.39,153.50" fill="#13c4ce"/>
<polygon points="272.06,155.59 280.11,154.08 274.05,152.11 266.00,153.62" fill="#13c4cd"/>
<polygon points="221.67,155.72 229.72,154.21 223.66,152.24 215.61,153.75" fill="#0ec2d2"/>
<polygon points="336.57,155.94 344.62,154.43 338.56,152.46 330.51,153.97" fill="#13c4ce"/>
<polygon points="286.17,156.05 294.23,154.54 288.17,152.57 280.11,154.08" fill="#15c5cc"/>
<polygon points="235.78,156.18 243.83,154.67 237.77,152.70 229.72,154.21" fill="#0ec2d2"/>
<polygon points="350.68,156.40 358.73,154.89 352.67,152.92 344.62,154.43" fill="#13c4ce"/>
<polygon points="300.29,156.52 308.34,155.01 302.28,153.04 294.23,154.54" fill="#14c4cd"/>
<polygon points="249.89,156.65 257.95,155.13 251.89,153.16 243.83,154.67" fill="#0ec2d1"/>
<polygon points="199.50,156.76 207.55,155.26 201.49,153.28 193.44,154.79" fill="#10c3d0"/>
<polygon points="364.79,156.86 372.85,155.35 366.79,153.38 358.73,154.89" fill="#13c4ce"/>
<polygon points="314.40,156.98 322.45,155.47 316.39,153.50 308.34,155.01" fill="#12c4ce"/>
<polygon points="264.01,157.11 272.06,155.59 266.00,153.62 257.95,155.13" fill="#10c3d0"/>
<polygon points="213.61,157.23 221.67,155.72 215.61,153.75 207.55,155.26" fill="#0fc2d1"/>
<polygon points="328.51,157.45 336.57,155.94 330.51,153.97 322.45,155.47" fill="#13c4ce"/>
<polygon points="278.12,157.57 286.17,156.05 280.11,154.08 272.06,155.59" fill="#13c4cd"/>
<polygon points="227.73,157.69 235.78,156.18 229.72,154.21 221.67,155.72" fill="#0fc2d1"/>
<polygon points="342.63,157.91 350.68,156.40 344.62,154.43 336.57,155.94" fill="#13c4cd"/>
<polygon points="292.23,158.03 300.29,156.52 294.23,154.54 286.17,156.05" fill="#14c4cd"/>
<polygon points="241.84,158.16 249.89,156.65 243.83,154.67 235.78,156.18" fill="#0fc2d1"/>
<polygon points="356.74,158.37 364.79,156.86 358.73,154.89 350.68,156.40" fill="#13c4cd"/>
<polygon points="306.35,158.49 314.40,156.98 308.34,155.01 300.29,156.52" fill="#12c4cf"/>
<polygon points="255.95,158.62 264.01,157.11 257.95,155.13 249.89,156.65" fill="#0fc2d1"/>
<polygon points="205.56,158.74 213.61,157.23 207.55,155.26 199.50,156.76" fill="#11c3cf"/>
<polygon points="320.46,158.96 328.51,157.45 322.45,155.47 314.40,156.98" fill="#11c3cf"/>
<polygon points="270.07,159.08 278.12,157.57 272.06,155.59 264.01,157.11" fill="#10c3d0"/>
<polygon points="219.67,159.20 227.73,157.69 221.67,155.72 213.61,157.23" fill="#10c3d0"/>
<polygon points="334.57,159.42 342.63,157.91 336.57,155.94 328.51,157.45" fill="#12c4ce"/>
<polygon points="284.18,159.54 292.23,158.03 286.17,156.05 278.12,157.57" fill="#12c4ce"/>
<polygon points="233.79,159.66 241.84,158.16 235.78,156.18 227.73,157.69" fill="#10c3d0"/>
<polygon points="348.69,159.88 356.74,158.37 350.68,156.40 342.63,157.91" fill="#12c4ce"/>
<polygon points="298.29,160.00 306.35,158.49 300.29,156.52 292.23,158.03" fill="#12c4ce"/>
<polygon points="247.90,160.13 255.95,158.62 249.89,156.65 241.84,158.16" fill="#10c3d0"/>
<polygon points="312.41,160.47 320.46,158.96 314.40,156.98 306.35,158.49" fill="#11c3cf"/>
<polygon points="262.01,160.59 270.07,159.08 264.01,157.11 255.95,158.62" fill="#0fc2d1"/>
<polygon points="211.62,160.71 219.67,159.20 213.61,157.23 205.56,158.74" fill="#13c4ce"/>
<polygon points="326.52,160.93 334.57,159.42 328.51,157.45 320.46,158.96" fill="#11c3cf"/>
<polygon points="276.13,161.05 284.18,159.54 278.12,157.57 270.07,159.08" fill="#10c3d0"/>
<polygon points="225.73,161.17 233.79,159.66 227.73,157.69 219.67,159.20" fill="#12c4cf"/>
<polygon points="340.63,161.40 348.69,159.88 342.63,157.91 334.57,159.42" fill="#11c3cf"/>
<polygon points="290.24,161.51 298.29,160.00 292.23,158.03 284.18,159.54" fill="#12c4ce"/>
<polygon points="239.85,161.64 247.90,160.13 241.84,158.16 233.79,159.66" fill="#11c3cf"/>
<polygon points="304.35,161.98 312.41,160.47 306.35,158.49 298.29,160.00" fill="#11c3cf"/>
<polygon points="253.96,162.10 262.01,160.59 255.95,158.62 247.90,160.13" fill="#10c3d0"/>
<polygon points="318.47,162.44 326.52,160.93 320.46,158.96 312.41,160.47" fill="#11c3cf"/>
<polygon points="268.07,162.56 276.13,161.05 270.07,159.08 262.01,160.59" fill="#0fc2d1"/>
<polygon points="217.68,162.68 225.73,161.17 219.67,159.20 211.62,160.71" fill="#13c4cd"/>
<polygon points="332.58,162.91 340.63,161.40 334.57,159.42 326.52,160.93" fill="#11c3cf"/>
<polygon points="282.19,163.03 290.24,161.51 284.18,159.54 276.13,161.05" fill="#11c3cf"/>
<polygon points="231.79,163.15 239.85,161.64 233.79,159.66 225.73,161.17" fill="#11c3cf"/>
<polygon points="296.30,163.49 304.35,161.98 298.29,160.00 290.24,161.51" fill="#12c4ce"/>
<polygon points="245.91,163.61 253.96,162.10 247.90,160.13 239.85,161.64" fill="#10c3d0"/>
<polygon points="310.41,163.95 318.47,162.44 312.41,160.47 304.35,161.98" fill="#12c4cf"/>
<polygon points="260.02,164.07 268.07,162.56 262.01,160.59 253.96,162.10" fill="#0fc3d1"/>
<polygon points="324.53,164.42 332.58,162.91 326.52,160.93 318.47,162.44" fill="#11c3cf"/>
<polygon points="274.13,164.54 282.19,163.03 276.13,161.05 268.07,162.56" fill="#10c3d0"/>
<polygon points="223.74,164.66 231.79,163.15 225.73,161.17 217.68,162.68" fill="#11c3cf"/>
<polygon points="288.25,165.00 296.30,163.49 290.24,161.51 282.19,163.03" fill="#11c3cf"/>
<polygon points="237.85,165.12 245.91,163.61 239.85,161.64 231.79,163.15" fill="#0fc3d1"/>
<polygon points="302.36,165.46 310.41,163.95 304.35,161.98 296.30,163.49" fill="#12c4ce"/>
<polygon points="251.97,165.59 260.02,164.07 253.96,162.10 245.91,163.61" fill="#0fc2d1"/>
<polygon points="316.47,165.92 324.53,164.42 318.47,162.44 310.41,163.95" fill="#12c4cf"/>
<polygon points="266.08,166.05 274.13,164.54 268.07,162.56 260.02,164.07" fill="#0fc2d1"/>
<polygon points="280.19,166.51 288.25,165.00 282.19,163.03 274.13,164.54" fill="#11c3cf"/>
<polygon points="229.80,166.63 237.85,165.12 231.79,163.15 223.74,164.66" fill="#0ec2d2"/>
<polygon points="294.31,166.97 302.36,165.46 296.30,163.49 288.25,165.00" fill="#11c4cf"/>
<polygon points="243.91,167.10 251.97,165.59 245.91,163.61 237.85,165.12" fill="#0dc1d3"/>
<polygon points="308.42,167.43 316.47,165.92 310.41,163.95 302.36,165.46" fill="#12c4cf"/>
<polygon points="258.03,167.56 266.08,166.05 260.02,164.07 251.97,165.59" fill="#0dc2d2"/>
<polygon points="272.14,168.02 280.19,166.51 274.13,164.54 266.08,166.05" fill="#10c3d0"/>
<polygon points="286.25,168.48 294.31,166.97 288.25,165.00 280.19,166.51" fill="#11c3cf"/>
<polygon points="235.86,168.61 243.91,167.10 237.85,165.12 229.80,166.63" fill="#0cc1d4"/>
<polygon points="300.37,168.94 308.42,167.43 302.36,165.46 294.31,166.97" fill="#12c4cf"/>
<polygon points="249.97,169.07 258.03,167.56 251.97,165.59 243.91,167.10" fill="#0bc1d4"/>
<polygon points="264.09,169.53 272.14,168.02 266.08,166.05 258.03,167.56" fill="#0dc2d2"/>
<polygon points="278.20,169.99 286.25,168.48 280.19,166.51 272.14,168.02" fill="#10c3d0"/>
<polygon points="292.31,170.45 300.37,168.94 294.31,166.97 286.25,168.48" fill="#12c4ce"/>
<polygon points="241.92,170.58 249.97,169.07 243.91,167.10 235.86,168.61" fill="#0bc0d5"/>
<polygon points="256.03,171.05 264.09,169.53 258.03,167.56 249.97,169.07" fill="#0bc1d4"/>
<polygon points="270.15,171.51 278.20,169.99 272.14,168.02 264.09,169.53" fill="#0fc2d1"/>
<polygon points="284.26,171.96 292.31,170.45 286.25,168.48 278.20,169.99" fill="#12c4cf"/>
<polygon points="247.98,172.56 256.03,171.05 249.97,169.07 241.92,170.58" fill="#0bc1d4"/>
<polygon points="262.09,173.02 270.15,171.51 264.09,169.53 256.03,171.05" fill="#0dc2d2"/>
<polygon points="276.21,173.48 284.26,171.96 278.20,169.99 270.15,171.51" fill="#11c3cf"/>
<polygon points="254.04,174.53 262.09,173.02 256.03,171.05 247.98,172.56" fill="#0dc2d2"/>
<polygon points="268.15,174.99 276.21,173.48 270.15,171.51 262.09,173.02" fill="#10c3d0"/>
<polygon points="260.10,176.50 268.15,174.99 262.09,173.02 254.04,174.53" fill="#10c3d0"/>
</g>
<line x1="76.60" y1="182.10" x2="76.60" y2="52.80" stroke="#333" stroke-width="0.8"/>
<line x1="76.60" y1="182.10" x2="262.00" y2="241.50" stroke="#333" stroke-width="0.8"/>
<line x1="262.00" y1="241.50" x2="501.50" y2="196.20" stroke="#333" stroke-width="0.8"/>
<line x1="262.00" y1="241.50" x2="268.09" y2="243.45" stroke="#333" stroke-width="0.8"/>
<line x1="262.00" y1="241.50" x2="255.71" y2="242.69" stroke="#333" stroke-width="0.8"/>
<line x1="329.18" y1="228.79" x2="335.28" y2="230.75" stroke="#333" stroke-width="0.8"/>
<line x1="210.86" y1="225.11" x2="204.57" y2="226.30" stroke="#333" stroke-width="0.8"/>
<line x1="396.36" y1="216.09" x2="402.46" y2="218.04" stroke="#333" stroke-width="0.8"/>
<line x1="159.71" y1="208.73" x2="153.42" y2="209.92" stroke="#333" stroke-width="0.8"/>
<line x1="463.54" y1="203.38" x2="469.64" y2="205.33" stroke="#333" stroke-width="0.8"/>
<line x1="108.57" y1="192.34" x2="102.28" y2="193.53" stroke="#333" stroke-width="0.8"/>
<line x1="76.60" y1="182.10" x2="70.51" y2="180.15" stroke="#333" stroke-width="0.8"/>
<line x1="76.60" y1="117.45" x2="70.51" y2="115.50" stroke="#333" stroke-width="0.8"/>
<line x1="76.60" y1="52.80" x2="70.51" y2="50.85" stroke="#333" stroke-width="0.8"/>
<line x1="327.30" y1="510.94" x2="142.20" y2="451.24" stroke="#e2e2e2" stroke-width="0.8"/>
<line x1="208.64" y1="507.43" x2="449.64" y2="461.23" stroke="#e2e2e2" stroke-width="0.8"/>
<line x1="142.20" y1="451.24" x2="142.20" y2="322.54" stroke="#e2e2e2" stroke-width="0.8"/>
<line x1="449.64" y1="461.23" x2="449.64" y2="332.53" stroke="#e2e2e2" stroke-width="0.8"/>
<line x1="394.90" y1="497.98" x2="209.80" y2="438.28" stroke="#e2e2e2" stroke-width="0.8"/>
<line x1="157.58" y1="490.96" x2="398.58" y2="444.76" stroke="#e2e2e2" stroke-width="0.8"/>
<line x1="209.80" y1="438.28" x2="209.80" y2="309.58" stroke="#e2e2e2" stroke-width="0.8"/>
<line x1="398.58" y1="444.76" x2="398.58" y2="316.06" stroke="#e2e2e2" stroke-width="0.8"/>
<line x1="462.51" y1="485.02" x2="277.41" y2="425.32" stroke="#e2e2e2" stroke-width="0.8"/>
<line x1="106.51" y1="474.49" x2="347.51" y2="428.29" stroke="#e2e2e2" stroke-width="0.8"/>
<line x1="277.41" y1="425.32" x2="277.41" y2="296.62" stroke="#e2e2e2" stroke-width="0.8"/>
<line x1="347.51" y1="428.29" x2="347.51" y2="299.59" stroke="#e2e2e2" stroke-width="0.8"/>
<line x1="74.60" y1="464.20" x2="315.60" y2="418.00" stroke="#e2e2e2" stroke-width="0.8"/>
<line x1="315.60" y1="418.00" x2="500.70" y2="477.70" stroke="#e2e2e2" stroke-width="0.8"/>
<line x1="74.60" y1="399.85" x2="315.60" y2="353.65" stroke="#e2e2e2" stroke-width="0.8"/>
<line x1="315.60" y1="353.65" x2="500.70" y2="413.35" stroke="#e2e2e2" stroke-width="0.8"/>
<line x1="74.60" y1="335.50" x2="315.60" y2="289.30" stroke="#e2e2e2" stroke-width="0.8"/>
<line x1="315.60" y1="289.30" x2="500.70" y2="349.00" stroke="#e2e2e2" stroke-width="0.8"/>
<line x1="315.60" y1="418.00" x2="315.60" y2="289.30" stroke="#e2e2e2" stroke-width="0.8"/>
<line x1="500.70" y1="477.70" x2="500.70" y2="349.00" stroke="#e2e2e2" stroke-width="0.8"/>
<g stroke="#000" stroke-width="0.5" stroke-linejoin="round">
<polygon points="316.40,357.59 324.45,356.07 318.40,354.40 310.35,356.16" fill="#30ccba"/>
<polygon points="308.35,358.85 316.40,357.59 310.35,356.16 302.31,356.53" fill="#2fccba"/>
<polygon points="322.45,360.42 330.49,358.29 324.45,356.07 316.40,357.59" fill="#21c8c4"/>
<polygon points="300.31,360.34 308.35,358.85 302.31,356.53 294.26,357.90" fill="#27cabf"/>
<polygon points="314.40,361.38 322.45,360.42 316.40,357.59 308.35,358.85" fill="#2bcbbd"/>
<polygon points="328.49,362.22 336.54,360.30 330.49,358.29 322.45,360.42" fill="#1fc8c5"/>
<polygon points="292.26,362.03 300.31,360.34 294.26,357.90 286.21,359.60" fill="#2ccbbc"/>
<polygon points="306.35,362.67 314.40,361.38 308.35,358.85 300.31,360.34" fill="#2acbbe"/>
<polygon points="320.45,362.94 328.49,362.22 322.45,360.42 314.40,361.38" fill="#2fccba"/>
<polygon points="334.54,364.62 342.59,362.17 336.54,360.30 328.49,362.22" fill="#16c5cb"/>
<polygon points="284.21,364.30 292.26,362.03 286.21,359.60 278.17,362.33" fill="#28cabf"/>
<polygon points="298.31,364.77 306.35,362.67 300.31,360.34 292.26,362.03" fill="#24c9c2"/>
<polygon points="312.40,364.66 320.45,362.94 314.40,361.38 306.35,362.67" fill="#28cabf"/>
<polygon points="326.49,365.88 334.54,364.62 328.49,362.22 320.45,362.94" fill="#1fc8c5"/>
<polygon points="276.17,366.01 284.21,364.30 278.17,362.33 270.12,363.81" fill="#27cac0"/>
<polygon points="340.59,365.87 348.63,364.07 342.59,362.17 334.54,364.62" fill="#22c9c3"/>
<polygon points="290.26,365.11 298.31,364.77 292.26,362.03 284.21,364.30" fill="#40cfb0"/>
<polygon points="304.35,366.03 312.40,364.66 306.35,362.67 298.31,364.77" fill="#2ccbbc"/>
<polygon points="318.45,366.54 326.49,365.88 320.45,362.94 312.40,364.66" fill="#2dccbb"/>
<polygon points="268.12,367.20 276.17,366.01 270.12,363.81 262.07,364.06" fill="#2eccbb"/>
<polygon points="332.54,367.31 340.59,365.87 334.54,364.62 326.49,365.88" fill="#29cbbe"/>
<polygon points="282.21,366.85 290.26,365.11 284.21,364.30 276.17,366.01" fill="#39ceb4"/>
<polygon points="346.63,367.55 354.68,365.84 348.63,364.07 340.59,365.87" fill="#2ccbbc"/>
<polygon points="296.31,367.40 304.35,366.03 298.31,364.77 290.26,365.11" fill="#34cdb7"/>
<polygon points="310.40,367.67 318.45,366.54 312.40,364.66 304.35,366.03" fill="#34cdb7"/>
<polygon points="260.07,367.87 268.12,367.20 262.07,364.06 254.03,366.35" fill="#3dcfb2"/>
<polygon points="324.49,367.98 332.54,367.31 326.49,365.88 318.45,366.54" fill="#39ceb4"/>
<polygon points="274.17,368.64 282.21,366.85 276.17,366.01 268.12,367.20" fill="#35cdb7"/>
<polygon points="338.59,368.58 346.63,367.55 340.59,365.87 332.54,367.31" fill="#34cdb7"/>
<polygon points="288.26,369.39 296.31,367.40 290.26,365.11 282.21,366.85" fill="#2ccbbc"/>
<polygon points="352.68,369.29 360.73,367.27 354.68,365.84 346.63,367.55" fill="#2fccba"/>
<polygon points="302.35,369.44 310.40,367.67 304.35,366.03 296.31,367.40" fill="#30ccba"/>
<polygon points="252.03,369.71 260.07,367.87 254.03,366.35 245.98,367.76" fill="#33cdb8"/>
<polygon points="316.45,369.75 324.49,367.98 318.45,366.54 310.40,367.67" fill="#34cdb7"/>
<polygon points="266.12,370.52 274.17,368.64 268.12,367.20 260.07,367.87" fill="#2eccbb"/>
<polygon points="330.54,370.08 338.59,368.58 332.54,367.31 324.49,367.98" fill="#37ceb6"/>
<polygon points="280.21,371.13 288.26,369.39 282.21,366.85 274.17,368.64" fill="#2acbbe"/>
<polygon points="344.63,370.46 352.68,369.29 346.63,367.55 338.59,368.58" fill="#36cdb6"/>
<polygon points="294.31,370.99 302.35,369.44 296.31,367.40 288.26,369.39" fill="#2fccba"/>
<polygon points="243.98,371.19 252.03,369.71 245.98,367.76 237.93,368.85" fill="#30ccba"/>
<polygon points="358.73,371.56 366.77,369.76 360.73,367.27 352.68,369.29" fill="#27cabf"/>
<polygon points="308.40,371.48 316.45,369.75 310.40,367.67 302.35,369.44" fill="#2dccbb"/>
<polygon points="258.07,372.23 266.12,370.52 260.07,367.87 252.03,369.71" fill="#25cac1"/>
<polygon points="322.49,372.01 330.54,370.08 324.49,367.98 316.45,369.75" fill="#2eccbb"/>
<polygon points="272.17,373.18 280.21,371.13 274.17,368.64 266.12,370.52" fill="#20c8c4"/>
<polygon points="336.59,372.14 344.63,370.46 338.59,368.58 330.54,370.08" fill="#34cdb7"/>
<polygon points="286.26,373.15 294.31,370.99 288.26,369.39 280.21,371.13" fill="#24c9c1"/>
<polygon points="235.93,372.88 243.98,371.19 237.93,368.85 229.89,371.81" fill="#2ccbbc"/>
<polygon points="350.68,372.57 358.73,371.56 352.68,369.29 344.63,370.46" fill="#34cdb7"/>
<polygon points="300.35,373.11 308.40,371.48 302.35,369.44 294.31,370.99" fill="#2bcbbd"/>
<polygon points="250.03,374.21 258.07,372.23 252.03,369.71 243.98,371.19" fill="#20c8c4"/>
<polygon points="364.77,373.43 372.82,371.55 366.77,369.76 358.73,371.56" fill="#2dccbb"/>
<polygon points="314.45,373.32 322.49,372.01 316.45,369.75 308.40,371.48" fill="#32cdb8"/>
<polygon points="264.12,374.77 272.17,373.18 266.12,370.52 258.07,372.23" fill="#1ec8c6"/>
<polygon points="328.54,374.33 336.59,372.14 330.54,370.08 322.49,372.01" fill="#25cac1"/>
<polygon points="278.21,374.09 286.26,373.15 280.21,371.13 272.17,373.18" fill="#2bcbbd"/>
<polygon points="227.89,375.34 235.93,372.88 229.89,371.81 221.84,373.55" fill="#1dc7c7"/>
<polygon points="342.63,374.40 350.68,372.57 344.63,370.46 336.59,372.14" fill="#31ccb9"/>
<polygon points="292.31,374.65 300.35,373.11 294.31,370.99 286.26,373.15" fill="#2dcbbc"/>
<polygon points="241.98,375.04 250.03,374.21 243.98,371.19 235.93,372.88" fill="#2dcbbc"/>
<polygon points="356.73,375.38 364.77,373.43 358.73,371.56 350.68,372.57" fill="#25cac1"/>
<polygon points="306.40,374.94 314.45,373.32 308.40,371.48 300.35,373.11" fill="#33cdb8"/>
<polygon points="256.07,375.86 264.12,374.77 258.07,372.23 250.03,374.21" fill="#26cac0"/>
<polygon points="370.82,375.80 378.87,374.19 372.82,371.55 364.77,373.43" fill="#27cabf"/>
<polygon points="320.49,375.97 328.54,374.33 322.49,372.01 314.45,373.32" fill="#23c9c2"/>
<polygon points="270.17,375.31 278.21,374.09 272.17,373.18 264.12,374.77" fill="#35cdb7"/>
<polygon points="219.84,376.51 227.89,375.34 221.84,373.55 213.79,374.65" fill="#21c8c4"/>
<polygon points="334.59,375.77 342.63,374.40 336.59,372.14 328.54,374.33" fill="#2eccbb"/>
<polygon points="284.26,376.82 292.31,374.65 286.26,373.15 278.21,374.09" fill="#1ec8c6"/>
<polygon points="233.93,375.80 241.98,375.04 235.93,372.88 227.89,375.34" fill="#38ceb5"/>
<polygon points="348.68,376.73 356.73,375.38 350.68,372.57 342.63,374.40" fill="#2bcbbd"/>
<polygon points="298.35,377.13 306.40,374.94 300.35,373.11 292.31,374.65" fill="#28cabf"/>
<polygon points="248.03,377.06 256.07,375.86 250.03,374.21 241.98,375.04" fill="#31ccb9"/>
<polygon points="362.77,377.15 370.82,375.80 364.77,373.43 356.73,375.38" fill="#2acbbd"/>
<polygon points="312.45,376.96 320.49,375.97 314.45,373.32 306.40,374.94" fill="#31ccb9"/>
<polygon points="262.12,377.63 270.17,375.31 264.12,374.77 256.07,375.86" fill="#26cac0"/>
<polygon points="376.87,378.21 384.91,376.42 378.87,374.19 370.82,375.80" fill="#1cc7c7"/>
<polygon points="211.79,378.48 219.84,376.51 213.79,374.65 205.75,375.63" fill="#17c6ca"/>
<polygon points="326.54,377.75 334.59,375.77 328.54,374.33 320.49,375.97" fill="#23c9c2"/>
<polygon points="276.21,378.69 284.26,376.82 278.21,374.09 270.17,375.31" fill="#1cc7c7"/>
<polygon points="225.89,378.40 233.93,375.80 227.89,375.34 219.84,376.51" fill="#22c9c3"/>
<polygon points="340.63,377.86 348.68,376.73 342.63,374.40 334.59,375.77" fill="#31cdb9"/>
<polygon points="290.31,378.10 298.35,377.13 292.31,374.65 284.26,376.82" fill="#2dcbbc"/>
<polygon points="239.98,379.53 248.03,377.06 241.98,375.04 233.93,375.80" fill="#1bc7c7"/>
<polygon points="354.73,378.66 362.77,377.15 356.73,375.38 348.68,376.73" fill="#2ccbbc"/>
<polygon points="304.40,378.82 312.45,376.96 306.40,374.94 298.35,377.13" fill="#2ccbbc"/>
<polygon points="254.07,379.62 262.12,377.63 256.07,375.86 248.03,377.06" fill="#22c9c3"/>
<polygon points="368.82,379.35 376.87,378.21 370.82,375.80 362.77,377.15" fill="#21c8c4"/>
<polygon points="203.75,379.61 211.79,378.48 205.75,375.63 197.70,377.80" fill="#1fc8c5"/>
<polygon points="318.49,379.67 326.54,377.75 320.49,375.97 312.45,376.96" fill="#21c9c3"/>
<polygon points="268.17,378.87 276.21,378.69 270.17,375.31 262.12,377.63" fill="#35cdb7"/>
<polygon points="382.91,379.21 390.96,378.54 384.91,376.42 376.87,378.21" fill="#2ccbbc"/>
<polygon points="217.84,380.33 225.89,378.40 219.84,376.51 211.79,378.48" fill="#1cc7c7"/>
<polygon points="332.59,379.17 340.63,377.86 334.59,375.77 326.54,377.75" fill="#31ccb9"/>
<polygon points="282.26,380.37 290.31,378.10 284.26,376.82 276.21,378.69" fill="#22c9c3"/>
<polygon points="231.93,380.56 239.98,379.53 233.93,375.80 225.89,378.40" fill="#1cc7c7"/>
<polygon points="346.68,379.71 354.73,378.66 348.68,376.73 340.63,377.86" fill="#31ccb9"/>
<polygon points="296.35,380.41 304.40,378.82 298.35,377.13 290.31,378.10" fill="#29cabe"/>
<polygon points="246.03,381.07 254.07,379.62 248.03,377.06 239.98,379.53" fill="#1ec8c6"/>
<polygon points="360.77,380.22 368.82,379.35 362.77,377.15 354.73,378.66" fill="#30ccba"/>
<polygon points="195.70,380.64 203.75,379.61 197.70,377.80 189.65,378.46" fill="#2eccbb"/>
<polygon points="310.45,380.95 318.49,379.67 312.45,376.96 304.40,378.82" fill="#2bcbbd"/>
<polygon points="260.12,379.98 268.17,378.87 262.12,377.63 254.07,379.62" fill="#37ceb5"/>
<polygon points="374.87,380.92 382.91,379.21 376.87,378.21 368.82,379.35" fill="#25cac1"/>
<polygon points="209.79,382.36 217.84,380.33 211.79,378.48 203.75,379.61" fill="#17c5cb"/>
<polygon points="324.54,380.83 332.59,379.17 326.54,377.75 318.49,379.67" fill="#2eccbb"/>
<polygon points="274.21,381.41 282.26,380.37 276.21,378.69 268.17,378.87" fill="#28cabf"/>
<polygon points="388.96,381.32 397.01,380.28 390.96,378.54 382.91,379.21" fill="#31ccb9"/>
<polygon points="223.89,382.82 231.93,380.56 225.89,378.40 217.84,380.33" fill="#17c5cb"/>
<polygon points="338.63,381.11 346.68,379.71 340.63,377.86 332.59,379.17" fill="#34cdb7"/>
<polygon points="288.31,381.67 296.35,380.41 290.31,378.10 282.26,380.37" fill="#2ccbbc"/>
<polygon points="237.98,382.53 246.03,381.07 239.98,379.53 231.93,380.56" fill="#19c6c9"/>
<polygon points="352.73,381.30 360.77,380.22 354.73,378.66 346.68,379.71" fill="#38ceb5"/>
<polygon points="187.65,382.60 195.70,380.64 189.65,378.46 181.61,381.20" fill="#25cac1"/>
<polygon points="302.40,382.20 310.45,380.95 304.40,378.82 296.35,380.41" fill="#30ccba"/>
<polygon points="252.07,382.61 260.12,379.98 254.07,379.62 246.03,381.07" fill="#20c8c4"/>
<polygon points="366.82,382.26 374.87,380.92 368.82,379.35 360.77,380.22" fill="#2ccbbd"/>
<polygon points="201.75,383.04 209.79,382.36 203.75,379.61 195.70,380.64" fill="#23c9c2"/>
<polygon points="316.49,383.05 324.54,380.83 318.49,379.67 310.45,380.95" fill="#26cac0"/>
<polygon points="266.17,382.76 274.21,381.41 268.17,378.87 260.12,379.98" fill="#28cabf"/>
<polygon points="380.91,382.98 388.96,381.32 382.91,379.21 374.87,380.92" fill="#2ccbbc"/>
<polygon points="215.84,384.16 223.89,382.82 217.84,380.33 209.79,382.36" fill="#1bc7c8"/>
<polygon points="330.59,383.12 338.63,381.11 332.59,379.17 324.54,380.83" fill="#2acbbd"/>
<polygon points="280.26,383.59 288.31,381.67 282.26,380.37 274.21,381.41" fill="#22c9c3"/>
<polygon points="395.01,383.08 403.05,381.93 397.01,380.28 388.96,381.32" fill="#30ccb9"/>
<polygon points="229.93,383.99 237.98,382.53 231.93,380.56 223.89,382.82" fill="#1fc8c5"/>
<polygon points="344.68,382.85 352.73,381.30 346.68,379.71 338.63,381.11" fill="#39ceb4"/>
<polygon points="179.61,383.35 187.65,382.60 181.61,381.20 173.56,381.55" fill="#34cdb7"/>
<polygon points="294.35,383.35 302.40,382.20 296.35,380.41 288.31,381.67" fill="#2dccbb"/>
<polygon points="244.03,384.88 252.07,382.61 246.03,381.07 237.98,382.53" fill="#15c5cc"/>
<polygon points="358.77,383.70 366.82,382.26 360.77,380.22 352.73,381.30" fill="#30ccb9"/>
<polygon points="193.70,385.43 201.75,383.04 195.70,380.64 187.65,382.60" fill="#1ac6c9"/>
<polygon points="308.45,383.84 316.49,383.05 310.45,380.95 302.40,382.20" fill="#32cdb9"/>
<polygon points="258.12,385.24 266.17,382.76 260.12,379.98 252.07,382.61" fill="#1cc7c7"/>
<polygon points="372.87,384.56 380.91,382.98 374.87,380.92 366.82,382.26" fill="#2acbbd"/>
<polygon points="207.79,384.92 215.84,384.16 209.79,382.36 201.75,383.04" fill="#23c9c2"/>
<polygon points="322.54,384.98 330.59,383.12 324.54,380.83 316.49,383.05" fill="#23c9c2"/>
<polygon points="272.21,384.54 280.26,383.59 274.21,381.41 266.17,382.76" fill="#30ccba"/>
<polygon points="386.96,385.04 395.01,383.08 388.96,381.32 380.91,382.98" fill="#2acbbe"/>
<polygon points="221.89,385.91 229.93,383.99 223.89,382.82 215.84,384.16" fill="#1bc7c7"/>
<polygon points="336.63,385.07 344.68,382.85 338.63,381.11 330.59,383.12" fill="#2ccbbc"/>
<polygon points="171.56,385.75 179.61,383.35 173.56,381.55 165.51,383.41" fill="#22c9c3"/>
<polygon points="286.31,385.63 294.35,383.35 288.31,381.67 280.26,383.59" fill="#1ec8c5"/>
<polygon points="401.05,385.11 409.10,383.65 403.05,381.93 395.01,383.08" fill="#2eccbb"/>
<polygon points="235.98,385.38 244.03,384.88 237.98,382.53 229.93,383.99" fill="#29cbbe"/>
<polygon points="350.73,384.84 358.77,383.70 352.73,381.30 344.68,382.85" fill="#3bceb3"/>
<polygon points="185.65,386.02 193.70,385.43 187.65,382.60 179.61,383.35" fill="#2bcbbd"/>
<polygon points="300.40,385.93 308.45,383.84 302.40,382.20 294.35,383.35" fill="#22c9c3"/>
<polygon points="250.07,387.49 258.12,385.24 252.07,382.61 244.03,384.88" fill="#12c4ce"/>
<polygon points="364.82,385.65 372.87,384.56 366.82,382.26 358.77,383.70" fill="#33cdb8"/>
<polygon points="199.75,386.79 207.79,384.92 201.75,383.04 193.70,385.43" fill="#20c8c4"/>
<polygon points="314.49,386.73 322.54,384.98 316.49,383.05 308.45,383.84" fill="#21c9c3"/>
<polygon points="264.17,386.71 272.21,384.54 266.17,382.76 258.12,385.24" fill="#29cbbe"/>
<polygon points="378.91,386.64 386.96,385.04 380.91,382.98 372.87,384.56" fill="#27cabf"/>
<polygon points="213.84,386.21 221.89,385.91 215.84,384.16 207.79,384.92" fill="#2bcbbd"/>
<polygon points="328.59,386.96 336.63,385.07 330.59,383.12 322.54,384.98" fill="#23c9c2"/>
<polygon points="163.51,387.31 171.56,385.75 165.51,383.41 157.47,384.56" fill="#1dc7c6"/>
<polygon points="278.26,386.95 286.31,385.63 280.26,383.59 272.21,384.54" fill="#27cac0"/>
<polygon points="393.01,386.70 401.05,385.11 395.01,383.08 386.96,385.04" fill="#2eccbb"/>
<polygon points="227.93,387.32 235.98,385.38 229.93,383.99 221.89,385.91" fill="#25c9c1"/>
<polygon points="342.68,386.26 350.73,384.84 344.68,382.85 336.63,385.07" fill="#3ccfb2"/>
<polygon points="177.61,387.70 185.65,386.02 179.61,383.35 171.56,385.75" fill="#24c9c2"/>
<polygon points="292.35,388.19 300.40,385.93 294.35,383.35 286.31,385.63" fill="#16c5cb"/>
<polygon points="407.10,387.17 415.15,386.18 409.10,383.65 401.05,385.11" fill="#2eccbb"/>
<polygon points="242.03,388.12 250.07,387.49 244.03,384.88 235.98,385.38" fill="#1ec8c5"/>
<polygon points="356.77,386.94 364.82,385.65 358.77,383.70 350.73,384.84" fill="#35cdb6"/>
<polygon points="191.70,387.48 199.75,386.79 193.70,385.43 185.65,386.02" fill="#30ccba"/>
<polygon points="306.45,387.82 314.49,386.73 308.45,383.84 300.40,385.93" fill="#27cac0"/>
<polygon points="256.12,387.97 264.17,386.71 258.12,385.24 250.07,387.49" fill="#2ccbbc"/>
<polygon points="370.87,388.35 378.91,386.64 372.87,384.56 364.82,385.65" fill="#22c9c3"/>
<polygon points="205.79,387.74 213.84,386.21 207.79,384.92 199.75,386.79" fill="#2ccbbc"/>
<polygon points="320.54,388.33 328.59,386.96 322.54,384.98 314.49,386.73" fill="#28cabf"/>
<polygon points="155.47,389.37 163.51,387.31 157.47,384.56 149.42,386.37" fill="#18c6ca"/>
<polygon points="270.21,388.51 278.26,386.95 272.21,384.54 264.17,386.71" fill="#26cac0"/>
<polygon points="384.96,388.17 393.01,386.70 386.96,385.04 378.91,386.64" fill="#2acbbd"/>
<polygon points="219.89,387.98 227.93,387.32 221.89,385.91 213.84,386.21" fill="#31ccb9"/>
<polygon points="334.63,388.26 342.68,386.26 336.63,385.07 328.59,386.96" fill="#31ccb9"/>
<polygon points="169.56,389.35 177.61,387.70 171.56,385.75 163.51,387.31" fill="#1fc8c5"/>
<polygon points="284.31,388.42 292.35,388.19 286.31,385.63 278.26,386.95" fill="#2ccbbc"/>
<polygon points="399.05,388.93 407.10,387.17 401.05,385.11 393.01,386.70" fill="#2acbbe"/>
<polygon points="233.98,390.18 242.03,388.12 235.98,385.38 227.93,387.32" fill="#19c6c9"/>
<polygon points="348.73,388.18 356.77,386.94 350.73,384.84 342.68,386.26" fill="#3bceb3"/>
<polygon points="183.65,389.41 191.70,387.48 185.65,386.02 177.61,387.70" fill="#23c9c2"/>
<polygon points="298.40,388.98 306.45,387.82 300.40,385.93 292.35,388.19" fill="#2dcbbc"/>
<polygon points="413.15,389.20 421.19,388.18 415.15,386.18 407.10,387.17" fill="#2ccbbc"/>
<polygon points="248.07,389.96 256.12,387.97 250.07,387.49 242.03,388.12" fill="#21c9c3"/>
<polygon points="362.82,389.04 370.87,388.35 364.82,385.65 356.77,386.94" fill="#2dcbbc"/>
<polygon points="197.75,388.02 205.79,387.74 199.75,386.79 191.70,387.48" fill="#45d0ad"/>
<polygon points="312.49,390.37 320.54,388.33 314.49,386.73 306.45,387.82" fill="#1fc8c5"/>
<polygon points="147.42,391.17 155.47,389.37 149.42,386.37 141.37,388.57" fill="#16c5cb"/>
<polygon points="262.17,389.74 270.21,388.51 264.17,386.71 256.12,387.97" fill="#2bcbbd"/>
<polygon points="376.91,390.52 384.96,388.17 378.91,386.64 370.87,388.35" fill="#1ac6c8"/>
<polygon points="211.84,388.86 219.89,387.98 213.84,386.21 205.79,387.74" fill="#39ceb4"/>
<polygon points="326.59,389.95 334.63,388.26 328.59,386.96 320.54,388.33" fill="#2fccba"/>
<polygon points="161.51,390.75 169.56,389.35 163.51,387.31 155.47,389.37" fill="#24c9c1"/>
<polygon points="276.26,390.29 284.31,388.42 278.26,386.95 270.21,388.51" fill="#26cac0"/>
<polygon points="391.01,390.38 399.05,388.93 393.01,386.70 384.96,388.17" fill="#29cbbe"/>
<polygon points="225.93,390.23 233.98,390.18 227.93,387.32 219.89,387.98" fill="#2fccba"/>
<polygon points="340.68,389.81 348.73,388.18 342.68,386.26 334.63,388.26" fill="#3bcfb3"/>
<polygon points="175.61,390.33 183.65,389.41 177.61,387.70 169.56,389.35" fill="#2eccbb"/>
<polygon points="290.35,390.92 298.40,388.98 292.35,388.19 284.31,388.42" fill="#24c9c1"/>
<polygon points="405.10,390.48 413.15,389.20 407.10,387.17 399.05,388.93" fill="#30ccba"/>
<polygon points="240.03,390.94 248.07,389.96 242.03,388.12 233.98,390.18" fill="#29cbbe"/>
<polygon points="354.77,390.61 362.82,389.04 356.77,386.94 348.73,388.18" fill="#32cdb8"/>
<polygon points="189.70,390.32 197.75,388.02 191.70,387.48 183.65,389.41" fill="#30ccba"/>
<polygon points="304.45,391.65 312.49,390.37 306.45,387.82 298.40,388.98" fill="#1ec8c5"/>
<polygon points="419.19,391.03 427.24,389.46 421.19,388.18 413.15,389.20" fill="#2dcbbc"/>
<polygon points="139.37,392.88 147.42,391.17 141.37,388.57 133.33,389.58" fill="#17c6ca"/>
<polygon points="254.12,391.63 262.17,389.74 256.12,387.97 248.07,389.96" fill="#24c9c1"/>
<polygon points="368.87,391.68 376.91,390.52 370.87,388.35 362.82,389.04" fill="#1fc8c5"/>
<polygon points="203.79,389.09 211.84,388.86 205.79,387.74 197.75,388.02" fill="#58d3a2"/>
<polygon points="318.54,392.64 326.59,389.95 320.54,388.33 312.49,390.37" fill="#1bc7c8"/>
<polygon points="153.47,393.76 161.51,390.75 155.47,389.37 147.42,391.17" fill="#0fc3d1"/>
<polygon points="268.21,391.92 276.26,390.29 270.21,388.51 262.17,389.74" fill="#25cac1"/>
<polygon points="382.96,392.06 391.01,390.38 384.96,388.17 376.91,390.52" fill="#26cac0"/>
<polygon points="217.89,390.93 225.93,390.23 219.89,387.98 211.84,388.86" fill="#3ccfb2"/>
<polygon points="332.63,391.91 340.68,389.81 334.63,388.26 326.59,389.95" fill="#33cdb8"/>
<polygon points="167.56,392.29 175.61,390.33 169.56,389.35 161.51,390.75" fill="#2acbbd"/>
<polygon points="282.31,392.64 290.35,390.92 284.31,388.42 276.26,390.29" fill="#22c9c3"/>
<polygon points="397.05,391.81 405.10,390.48 399.05,388.93 391.01,390.38" fill="#35cdb6"/>
<polygon points="231.98,392.22 240.03,390.94 233.98,390.18 225.93,390.23" fill="#2dcbbc"/>
<polygon points="346.73,391.61 354.77,390.61 348.73,388.18 340.68,389.81" fill="#42d0af"/>
<polygon points="181.65,392.29 189.70,390.32 183.65,389.41 175.61,390.33" fill="#2dcbbc"/>
<polygon points="296.40,392.75 304.45,391.65 298.40,388.98 290.35,390.92" fill="#22c9c3"/>
<polygon points="411.15,392.85 419.19,391.03 413.15,389.20 405.10,390.48" fill="#23c9c2"/>
<polygon points="131.33,395.03 139.37,392.88 133.33,389.58 125.28,391.32" fill="#0fc3d1"/>
<polygon points="246.07,393.55 254.12,391.63 248.07,389.96 240.03,390.94" fill="#20c8c4"/>
<polygon points="360.82,392.57 368.87,391.68 362.82,389.04 354.77,390.61" fill="#2eccbb"/>
<polygon points="195.75,390.73 203.79,389.09 197.75,388.02 189.70,390.32" fill="#53d2a5"/>
<polygon points="310.49,393.29 318.54,392.64 312.49,390.37 304.45,391.65" fill="#23c9c2"/>
<polygon points="425.24,393.18 433.29,391.47 427.24,389.46 419.19,391.03" fill="#26cac0"/>
<polygon points="145.42,395.97 153.47,393.76 147.42,391.17 139.37,392.88" fill="#09bfd7"/>
<polygon points="260.17,393.29 268.21,391.92 262.17,389.74 254.12,391.63" fill="#27cac0"/>
<polygon points="374.91,393.71 382.96,392.06 376.91,390.52 368.87,391.68" fill="#23c9c2"/>
<polygon points="209.84,390.25 217.89,390.93 211.84,388.86 203.79,389.09" fill="#73d595"/>
<polygon points="324.59,393.48 332.63,391.91 326.59,389.95 318.54,392.64" fill="#2acbbd"/>
<polygon points="159.51,395.88 167.56,392.29 161.51,390.75 153.47,393.76" fill="#0cc1d3"/>
<polygon points="274.26,393.79 282.31,392.64 276.26,390.29 268.21,391.92" fill="#2acbbd"/>
<polygon points="389.01,393.67 397.05,391.81 391.01,390.38 382.96,392.06" fill="#2fccba"/>
<polygon points="223.93,393.13 231.98,392.22 225.93,390.23 217.89,390.93" fill="#3bceb3"/>
<polygon points="338.68,393.12 346.73,391.61 340.68,389.81 332.63,391.91" fill="#44d0ad"/>
<polygon points="173.61,393.86 181.65,392.29 175.61,390.33 167.56,392.29" fill="#2eccbb"/>
<polygon points="288.35,394.07 296.40,392.75 290.35,390.92 282.31,392.64" fill="#29cbbe"/>
<polygon points="403.10,394.41 411.15,392.85 405.10,390.48 397.05,391.81" fill="#25cac1"/>
<polygon points="123.28,395.49 131.33,395.03 125.28,391.32 117.23,393.87" fill="#1bc7c8"/>
<polygon points="238.03,394.16 246.07,393.55 240.03,390.94 231.98,392.22" fill="#2ccbbc"/>
<polygon points="352.77,393.74 360.82,392.57 354.77,390.61 346.73,391.61" fill="#3aceb4"/>
<polygon points="187.70,392.40 195.75,390.73 189.70,390.32 181.65,392.29" fill="#54d2a5"/>
<polygon points="302.45,395.00 310.49,393.29 304.45,391.65 296.40,392.75" fill="#1dc7c6"/>
<polygon points="417.19,394.78 425.24,393.18 419.19,391.03 411.15,392.85" fill="#24c9c2"/>
<polygon points="137.37,396.95 145.42,395.97 139.37,392.88 131.33,395.03" fill="#11c3cf"/>
<polygon points="252.12,395.62 260.17,393.29 254.12,391.63 246.07,393.55" fill="#1cc7c7"/>
<polygon points="366.87,394.51 374.91,393.71 368.87,391.68 360.82,392.57" fill="#2fccba"/>
<polygon points="201.79,392.16 209.84,390.25 203.79,389.09 195.75,390.73" fill="#67d49a"/>
<polygon points="316.54,395.14 324.59,393.48 318.54,392.64 310.49,393.29" fill="#22c9c3"/>
<polygon points="431.29,395.40 439.33,393.90 433.29,391.47 425.24,393.18" fill="#24c9c2"/>
<polygon points="151.47,398.57 159.51,395.88 153.47,393.76 145.42,395.97" fill="#07bcdd"/>
<polygon points="266.21,394.70 274.26,393.79 268.21,391.92 260.17,393.29" fill="#38ceb5"/>
<polygon points="380.96,395.12 389.01,393.67 382.96,392.06 374.91,393.71" fill="#2bcbbd"/>
<polygon points="215.89,393.76 223.93,393.13 217.89,390.93 209.84,390.25" fill="#4fd2a7"/>
<polygon points="330.63,394.79 338.68,393.12 332.63,391.91 324.59,393.48" fill="#3aceb4"/>
<polygon points="165.56,395.70 173.61,393.86 167.56,392.29 159.51,395.88" fill="#28cabf"/>
<polygon points="280.31,395.21 288.35,394.07 282.31,392.64 274.26,393.79" fill="#3aceb3"/>
<polygon points="395.05,395.70 403.10,394.41 397.05,391.81 389.01,393.67" fill="#2acbbd"/>
<polygon points="115.23,397.69 123.28,395.49 117.23,393.87 109.19,394.97" fill="#17c6ca"/>
<polygon points="229.98,395.89 238.03,394.16 231.98,392.22 223.93,393.13" fill="#27cabf"/>
<polygon points="344.73,395.48 352.77,393.74 346.73,391.61 338.68,393.12" fill="#37ceb5"/>
<polygon points="179.65,395.53 187.70,392.40 181.65,392.29 173.61,393.86" fill="#32cdb8"/>
<polygon points="294.40,396.42 302.45,395.00 296.40,392.75 288.35,394.07" fill="#1fc8c5"/>
<polygon points="409.15,396.66 417.19,394.78 411.15,392.85 403.10,394.41" fill="#20c8c4"/>
<polygon points="129.33,397.89 137.37,396.95 131.33,395.03 123.28,395.49" fill="#1ac6c8"/>
<polygon points="244.07,397.13 252.12,395.62 246.07,393.55 238.03,394.16" fill="#1cc7c7"/>
<polygon points="358.82,396.19 366.87,394.51 360.82,392.57 352.77,393.74" fill="#2eccbb"/>
<polygon points="193.75,393.71 201.79,392.16 195.75,390.73 187.70,392.40" fill="#62d49d"/>
<polygon points="308.49,397.02 316.54,395.14 310.49,393.29 302.45,395.00" fill="#1cc7c7"/>
<polygon points="423.24,397.25 431.29,395.40 425.24,393.18 417.19,394.78" fill="#24c9c2"/>
<polygon points="143.42,398.93 151.47,398.57 145.42,395.97 137.37,396.95" fill="#0fc3d0"/>
<polygon points="258.17,397.56 266.21,394.70 260.17,393.29 252.12,395.62" fill="#1dc7c6"/>
<polygon points="372.91,397.13 380.96,395.12 374.91,393.71 366.87,394.51" fill="#25c9c1"/>
<polygon points="207.84,395.47 215.89,393.76 209.84,390.25 201.79,392.16" fill="#49d1aa"/>
<polygon points="322.59,397.02 330.63,394.79 324.59,393.48 316.54,395.14" fill="#26cac0"/>
<polygon points="437.33,397.00 445.38,395.36 439.33,393.90 431.29,395.40" fill="#2bcbbd"/>
<polygon points="157.51,398.67 165.56,395.70 159.51,395.88 151.47,398.57" fill="#15c5cc"/>
<polygon points="272.26,401.11 280.31,395.21 274.26,393.79 266.21,394.70" fill="#2f55e1"/>
<polygon points="387.01,397.20 395.05,395.70 389.01,393.67 380.96,395.12" fill="#28cabf"/>
<polygon points="107.19,399.04 115.23,397.69 109.19,394.97 101.14,396.34" fill="#11c4cf"/>
<polygon points="221.93,397.15 229.98,395.89 223.93,393.13 215.89,393.76" fill="#2acbbd"/>
<polygon points="336.68,397.05 344.73,395.48 338.68,393.12 330.63,394.79" fill="#31ccb9"/>
<polygon points="171.61,399.16 179.65,395.53 173.61,393.86 165.56,395.70" fill="#14c4cd"/>
<polygon points="286.35,395.81 294.40,396.42 288.35,394.07 280.31,395.21" fill="#344fd7"/>
<polygon points="401.10,398.01 409.15,396.66 403.10,394.41 395.05,395.70" fill="#23c9c2"/>
<polygon points="121.28,398.24 129.33,397.89 123.28,395.49 115.23,397.69" fill="#2fccbb"/>
<polygon points="236.03,397.75 244.07,397.13 238.03,394.16 229.98,395.89" fill="#2acbbd"/>
<polygon points="350.77,397.89 358.82,396.19 352.77,393.74 344.73,395.48" fill="#28cabf"/>
<polygon points="185.70,397.10 193.75,393.71 187.70,392.40 179.65,395.53" fill="#3bceb3"/>
<polygon points="300.45,402.05 308.49,397.02 302.45,395.00 294.40,396.42" fill="#07b6e3"/>
<polygon points="415.19,398.42 423.24,397.25 417.19,394.78 409.15,396.66" fill="#2acbbe"/>
<polygon points="135.37,399.76 143.42,398.93 137.37,396.95 129.33,397.89" fill="#17c6ca"/>
<polygon points="250.12,402.98 258.17,397.56 252.12,395.62 244.07,397.13" fill="#07b4e5"/>
<polygon points="364.87,398.78 372.91,397.13 366.87,394.51 358.82,396.19" fill="#28cabf"/>
<polygon points="199.79,397.29 207.84,395.47 201.79,392.16 193.75,393.71" fill="#44d0ad"/>
<polygon points="314.54,399.54 322.59,397.02 316.54,395.14 308.49,397.02" fill="#16c5cb"/>
<polygon points="429.29,398.65 437.33,397.00 431.29,395.40 423.24,397.25" fill="#2eccbb"/>
<polygon points="149.47,400.69 157.51,398.67 151.47,398.57 143.42,398.93" fill="#0fc2d1"/>
<polygon points="264.21,400.37 272.26,401.11 266.21,394.70 258.17,397.56" fill="#07bbde"/>
<polygon points="378.96,399.40 387.01,397.20 380.96,395.12 372.91,397.13" fill="#20c8c4"/>
<polygon points="99.14,398.75 107.19,399.04 101.14,396.34 93.09,397.76" fill="#2acbbd"/>
<polygon points="213.89,397.58 221.93,397.15 215.89,393.76 207.84,395.47" fill="#43d0ae"/>
<polygon points="328.63,399.10 336.68,397.05 330.63,394.79 322.59,397.02" fill="#25cac1"/>
<polygon points="443.38,398.60 451.43,397.34 445.38,395.36 437.33,397.00" fill="#2fccba"/>
<polygon points="163.56,401.28 171.61,399.16 165.56,395.70 157.51,398.67" fill="#0dc2d2"/>
<polygon points="278.31,401.95 286.35,395.81 280.31,395.21 272.26,401.11" fill="#0275fc"/>
<polygon points="393.05,399.28 401.10,398.01 395.05,395.70 387.01,397.20" fill="#28cabf"/>
<polygon points="113.23,398.95 121.28,398.24 115.23,397.69 107.19,399.04" fill="#35cdb6"/>
<polygon points="227.98,399.10 236.03,397.75 229.98,395.89 221.93,397.15" fill="#2dcbbc"/>
<polygon points="342.73,399.83 350.77,397.89 344.73,395.48 336.68,397.05" fill="#1cc7c7"/>
<polygon points="177.65,400.96 185.70,397.10 179.65,395.53 171.61,399.16" fill="#1ac6c9"/>
<polygon points="292.40,415.82 300.45,402.05 294.40,396.42 286.35,395.81" fill="#159aec"/>
<polygon points="407.15,400.13 415.19,398.42 409.15,396.66 401.10,398.01" fill="#25cac1"/>
<polygon points="127.33,400.93 135.37,399.76 129.33,397.89 121.28,398.24" fill="#1cc7c7"/>
<polygon points="242.07,404.01 250.12,402.98 244.07,397.13 236.03,397.75" fill="#07b8e1"/>
<polygon points="356.82,400.02 364.87,398.78 358.82,396.19 350.77,397.89" fill="#24c9c2"/>
<polygon points="191.75,400.46 199.79,397.29 193.75,393.71 185.70,397.10" fill="#25cac1"/>
<polygon points="306.49,396.31 314.54,399.54 308.49,397.02 300.45,402.05" fill="#07bade"/>
<polygon points="421.24,400.17 429.29,398.65 423.24,397.25 415.19,398.42" fill="#30ccba"/>
<polygon points="141.42,401.68 149.47,400.69 143.42,398.93 135.37,399.76" fill="#13c4ce"/>
<polygon points="256.17,415.27 264.21,400.37 258.17,397.56 250.12,402.98" fill="#149bec"/>
<polygon points="370.91,400.17 378.96,399.40 372.91,397.13 364.87,398.78" fill="#30ccba"/>
<polygon points="91.09,399.93 99.14,398.75 93.09,397.76 85.05,399.09" fill="#39ceb4"/>
<polygon points="205.84,399.83 213.89,397.58 207.84,395.47 199.79,397.29" fill="#3ccfb2"/>
<polygon points="320.59,401.28 328.63,399.10 322.59,397.02 314.54,399.54" fill="#1bc7c8"/>
<polygon points="435.33,400.18 443.38,398.60 437.33,397.00 429.29,398.65" fill="#32cdb8"/>
<polygon points="155.51,402.47 163.56,401.28 157.51,398.67 149.47,400.69" fill="#0fc2d1"/>
<polygon points="270.26,415.68 278.31,401.95 272.26,401.11 264.21,400.37" fill="#0aaaea"/>
<polygon points="385.01,401.05 393.05,399.28 387.01,397.20 378.96,399.40" fill="#25c9c1"/>
<polygon points="105.19,400.97 113.23,398.95 107.19,399.04 99.14,398.75" fill="#2acbbe"/>
<polygon points="219.93,400.97 227.98,399.10 221.93,397.15 213.89,397.58" fill="#29cbbe"/>
<polygon points="334.68,401.13 342.73,399.83 336.68,397.05 328.63,399.10" fill="#20c8c4"/>
<polygon points="449.43,401.20 457.47,399.55 451.43,397.34 443.38,398.60" fill="#25c9c1"/>
<polygon points="169.61,402.56 177.65,400.96 171.61,399.16 163.56,401.28" fill="#19c6c9"/>
<polygon points="284.35,402.87 292.40,415.82 286.35,395.81 278.31,401.95" fill="#0aaaea"/>
<polygon points="399.10,401.55 407.15,400.13 401.10,398.01 393.05,399.28" fill="#27cabf"/>
<polygon points="119.28,400.77 127.33,400.93 121.28,398.24 113.23,398.95" fill="#32cdb8"/>
<polygon points="234.03,401.21 242.07,404.01 236.03,397.75 227.98,399.10" fill="#2fccba"/>
<polygon points="348.77,401.19 356.82,400.02 350.77,397.89 342.73,399.83" fill="#25cac1"/>
<polygon points="183.70,403.72 191.75,400.46 185.70,397.10 177.65,400.96" fill="#0ec2d2"/>
<polygon points="298.45,417.19 306.49,396.31 300.45,402.05 292.40,415.82" fill="#235dee"/>
<polygon points="413.19,401.57 421.24,400.17 415.19,398.42 407.15,400.13" fill="#30ccb9"/>
<polygon points="133.37,402.86 141.42,401.68 135.37,399.76 127.33,400.93" fill="#16c5cb"/>
<polygon points="248.12,404.31 256.17,415.27 250.12,402.98 242.07,404.01" fill="#1696ed"/>
<polygon points="362.87,402.54 370.91,400.17 364.87,398.78 356.82,400.02" fill="#1bc7c8"/>
<polygon points="83.05,402.60 91.09,399.93 85.05,399.09 77.00,400.75" fill="#27cac0"/>
<polygon points="197.79,402.68 205.84,399.83 199.79,397.29 191.75,400.46" fill="#20c8c4"/>
<polygon points="312.54,412.85 320.59,401.28 314.54,399.54 306.49,396.31" fill="#3154df"/>
<polygon points="427.29,401.79 435.33,400.18 429.29,398.65 421.24,400.17" fill="#31ccb9"/>
<polygon points="147.47,403.60 155.51,402.47 149.47,400.69 141.42,401.68" fill="#13c4cd"/>
<polygon points="262.21,417.40 270.26,415.68 264.21,400.37 256.17,415.27" fill="#5fd49f"/>
<polygon points="376.96,402.32 385.01,401.05 378.96,399.40 370.91,400.17" fill="#26cac0"/>
<polygon points="97.14,402.78 105.19,400.97 99.14,398.75 91.09,399.93" fill="#2acbbe"/>
<polygon points="211.89,402.81 219.93,400.97 213.89,397.58 205.84,399.83" fill="#29cbbe"/>
<polygon points="326.63,402.67 334.68,401.13 328.63,399.10 320.59,401.28" fill="#22c9c3"/>
<polygon points="441.38,402.51 449.43,401.20 443.38,398.60 435.33,400.18" fill="#2eccbb"/>
<polygon points="161.56,404.10 169.61,402.56 163.56,401.28 155.51,402.47" fill="#17c5cb"/>
<polygon points="276.31,416.99 284.35,402.87 278.31,401.95 270.26,415.68" fill="#1c61f2"/>
<polygon points="391.05,403.21 399.10,401.55 393.05,399.28 385.01,401.05" fill="#24c9c1"/>
<polygon points="111.23,402.43 119.28,400.77 113.23,398.95 105.19,400.97" fill="#30ccba"/>
<polygon points="225.98,403.07 234.03,401.21 227.98,399.10 219.93,400.97" fill="#2acbbd"/>
<polygon points="340.73,402.26 348.77,401.19 342.73,399.83 334.68,401.13" fill="#30ccb9"/>
<polygon points="455.47,403.00 463.52,401.30 457.47,399.55 449.43,401.20" fill="#2bcbbd"/>
<polygon points="175.65,404.95 183.70,403.72 177.65,400.96 169.61,402.56" fill="#14c5cd"/>
<polygon points="290.40,418.19 298.45,417.19 292.40,415.82 284.35,402.87" fill="#384cd0"/>
<polygon points="405.15,403.38 413.19,401.57 407.15,400.13 399.10,401.55" fill="#2ccbbc"/>
<polygon points="125.33,403.77 133.37,402.86 127.33,400.93 119.28,400.77" fill="#1fc8c5"/>
<polygon points="240.07,410.77 248.12,404.31 242.07,404.01 234.03,401.21" fill="#1690ef"/>
<polygon points="354.82,403.52 362.87,402.54 356.82,400.02 348.77,401.19" fill="#21c9c3"/>
<polygon points="189.75,405.75 197.79,402.68 191.75,400.46 183.70,403.72" fill="#0dc1d3"/>
<polygon points="304.49,406.92 312.54,412.85 306.49,396.31 298.45,417.19" fill="#07bade"/>
<polygon points="419.24,403.07 427.29,401.79 421.24,400.17 413.19,401.57" fill="#2fccba"/>
<polygon points="139.42,404.32 147.47,403.60 141.42,401.68 133.37,402.86" fill="#20c8c4"/>
<polygon points="254.17,406.40 262.21,417.40 256.17,415.27 248.12,404.31" fill="#1794ee"/>
<polygon points="368.91,404.00 376.96,402.32 370.91,400.17 362.87,402.54" fill="#22c9c3"/>
<polygon points="89.09,403.80 97.14,402.78 91.09,399.93 83.05,402.60" fill="#31ccb9"/>
<polygon points="203.84,405.17 211.89,402.81 205.84,399.83 197.79,402.68" fill="#17c6ca"/>
<polygon points="318.59,401.24 326.63,402.67 320.59,401.28 312.54,412.85" fill="#087dfa"/>
<polygon points="433.33,403.87 441.38,402.51 435.33,400.18 427.29,401.79" fill="#31ccb9"/>
<polygon points="153.51,404.51 161.56,404.10 155.51,402.47 147.47,403.60" fill="#25cac1"/>
<polygon points="268.26,419.50 276.31,416.99 270.26,415.68 262.21,417.40" fill="#225dee"/>
<polygon points="383.01,404.35 391.05,403.21 385.01,401.05 376.96,402.32" fill="#28cabf"/>
<polygon points="103.19,403.38 111.23,402.43 105.19,400.97 97.14,402.78" fill="#41cfaf"/>
<polygon points="217.93,404.53 225.98,403.07 219.93,400.97 211.89,402.81" fill="#2bcbbd"/>
<polygon points="332.68,404.31 340.73,402.26 334.68,401.13 326.63,402.67" fill="#29cbbe"/>
<polygon points="447.43,404.40 455.47,403.00 449.43,401.20 441.38,402.51" fill="#30ccba"/>
<polygon points="167.61,405.65 175.65,404.95 169.61,402.56 161.56,404.10" fill="#20c8c4"/>
<polygon points="282.35,407.36 290.40,418.19 284.35,402.87 276.31,416.99" fill="#139eeb"/>
<polygon points="397.10,404.60 405.15,403.38 399.10,401.55 391.05,403.21" fill="#2fccba"/>
<polygon points="117.28,404.47 125.33,403.77 119.28,400.77 111.23,402.43" fill="#32cdb8"/>
<polygon points="232.03,414.14 240.07,410.77 234.03,401.21 225.98,403.07" fill="#129feb"/>
<polygon points="346.77,404.78 354.82,403.52 348.77,401.19 340.73,402.26" fill="#2acbbd"/>
<polygon points="461.52,405.25 469.57,403.55 463.52,401.30 455.47,403.00" fill="#27cabf"/>
<polygon points="181.70,406.96 189.75,405.75 183.70,403.72 175.65,404.95" fill="#10c3d0"/>
<polygon points="296.45,420.84 304.49,406.92 298.45,417.19 290.40,418.19" fill="#10c3d0"/>
<polygon points="411.19,405.12 419.24,403.07 413.19,401.57 405.15,403.38" fill="#2acbbe"/>
<polygon points="131.37,407.28 139.42,404.32 133.37,402.86 125.33,403.77" fill="#0ec2d2"/>
<polygon points="246.12,415.71 254.17,406.40 248.12,404.31 240.07,410.77" fill="#168ef0"/>
<polygon points="360.87,405.19 368.91,404.00 362.87,402.54 354.82,403.52" fill="#29cabe"/>
<polygon points="195.79,407.24 203.84,405.17 197.79,402.68 189.75,405.75" fill="#0fc2d1"/>
<polygon points="310.54,413.87 318.59,401.24 312.54,412.85 304.49,406.92" fill="#374dd3"/>
<polygon points="425.29,405.24 433.33,403.87 427.29,401.79 419.24,403.07" fill="#2acbbd"/>
<polygon points="145.47,406.52 153.51,404.51 147.47,403.60 139.42,404.32" fill="#1ec8c5"/>
<polygon points="260.21,414.11 268.26,419.50 262.21,417.40 254.17,406.40" fill="#07bcdc"/>
<polygon points="374.96,405.63 383.01,404.35 376.96,402.32 368.91,404.00" fill="#2ccbbc"/>
<polygon points="95.14,405.65 103.19,403.38 97.14,402.78 89.09,403.80" fill="#33cdb7"/>
<polygon points="209.89,406.90 217.93,404.53 211.89,402.81 203.84,405.17" fill="#1cc7c7"/>
<polygon points="324.63,405.85 332.68,404.31 326.63,402.67 318.59,401.24" fill="#2eccbb"/>
<polygon points="439.38,406.02 447.43,404.40 441.38,402.51 433.33,403.87" fill="#2dccbb"/>
<polygon points="159.56,406.69 167.61,405.65 161.56,404.10 153.51,404.51" fill="#23c9c2"/>
<polygon points="274.31,421.84 282.35,407.36 276.31,416.99 268.26,419.50" fill="#344fd7"/>
<polygon points="389.05,405.59 397.10,404.60 391.05,403.21 383.01,404.35" fill="#37ceb5"/>
<polygon points="109.23,405.99 117.28,404.47 111.23,402.43 103.19,403.38" fill="#37ceb5"/>
<polygon points="223.98,406.13 232.03,414.14 225.98,403.07 217.93,404.53" fill="#32cdb9"/>
<polygon points="338.73,406.19 346.77,404.78 340.73,402.26 332.68,404.31" fill="#30ccb9"/>
<polygon points="453.47,406.62 461.52,405.25 455.47,403.00 447.43,404.40" fill="#29cbbe"/>
<polygon points="173.65,407.33 181.70,406.96 175.65,404.95 167.61,405.65" fill="#22c9c3"/>
<polygon points="288.40,409.12 296.45,420.84 290.40,418.19 282.35,407.36" fill="#0fa3eb"/>
<polygon points="403.15,406.46 411.19,405.12 405.15,403.38 397.10,404.60" fill="#2bcbbd"/>
<polygon points="123.33,407.77 131.37,407.28 125.33,403.77 117.28,404.47" fill="#1fc8c5"/>
<polygon points="238.07,422.68 246.12,415.71 240.07,410.77 232.03,414.14" fill="#159bec"/>
<polygon points="352.82,407.06 360.87,405.19 354.82,403.52 346.77,404.78" fill="#26cac0"/>
<polygon points="467.57,407.12 475.61,405.35 469.57,403.55 461.52,405.25" fill="#25cac1"/>
<polygon points="187.75,408.56 195.79,407.24 189.75,405.75 181.70,406.96" fill="#10c3d0"/>
<polygon points="302.49,422.53 310.54,413.87 304.49,406.92 296.45,420.84" fill="#036ffc"/>
<polygon points="417.24,407.07 425.29,405.24 419.24,403.07 411.19,405.12" fill="#27cac0"/>
<polygon points="137.42,407.54 145.47,406.52 139.42,404.32 131.37,407.28" fill="#27cac0"/>
<polygon points="252.17,415.56 260.21,414.11 254.17,406.40 246.12,415.71" fill="#0fa4eb"/>
<polygon points="366.91,407.49 374.96,405.63 368.91,404.00 360.87,405.19" fill="#28cabf"/>
<polygon points="201.84,408.78 209.89,406.90 203.84,405.17 195.79,407.24" fill="#17c5cb"/>
<polygon points="316.59,414.97 324.63,405.85 318.59,401.24 310.54,413.87" fill="#07bade"/>
<polygon points="431.33,407.13 439.38,406.02 433.33,403.87 425.29,405.24" fill="#2bcbbd"/>
<polygon points="151.51,408.48 159.56,406.69 153.51,404.51 145.47,406.52" fill="#1dc7c6"/>
<polygon points="266.26,423.33 274.31,421.84 268.26,419.50 260.21,414.11" fill="#07bddb"/>
<polygon points="381.01,407.68 389.05,405.59 383.01,404.35 374.96,405.63" fill="#2fccba"/>
<polygon points="101.19,408.08 109.23,405.99 103.19,403.38 95.14,405.65" fill="#2ccbbd"/>
<polygon points="215.93,408.53 223.98,406.13 217.93,404.53 209.89,406.90" fill="#23c9c2"/>
<polygon points="330.68,407.13 338.73,406.19 332.68,404.31 324.63,405.85" fill="#3ecfb1"/>
<polygon points="445.43,407.79 453.47,406.62 447.43,404.40 439.38,406.02" fill="#2dcbbc"/>
<polygon points="165.61,408.80 173.65,407.33 167.61,405.65 159.56,406.69" fill="#1fc8c5"/>
<polygon points="280.35,416.93 288.40,409.12 282.35,407.36 274.31,421.84" fill="#158df1"/>
<polygon points="395.10,408.07 403.15,406.46 397.10,404.60 389.05,405.59" fill="#2ccbbc"/>
<polygon points="115.28,408.06 123.33,407.77 117.28,404.47 109.23,405.99" fill="#33cdb8"/>
<polygon points="230.03,405.18 238.07,422.68 232.03,414.14 223.98,406.13" fill="#11a0eb"/>
<polygon points="344.77,408.13 352.82,407.06 346.77,404.78 338.73,406.19" fill="#30ccba"/>
<polygon points="459.52,408.51 467.57,407.12 461.52,405.25 453.47,406.62" fill="#27cabf"/>
<polygon points="179.70,409.47 187.75,408.56 181.70,406.96 173.65,407.33" fill="#19c6c9"/>
<polygon points="294.45,424.20 302.49,422.53 296.45,420.84 288.40,409.12" fill="#0ca7eb"/>
<polygon points="409.19,408.72 417.24,407.07 411.19,405.12 403.15,406.46" fill="#23c9c2"/>
<polygon points="129.37,408.09 137.42,407.54 131.37,407.28 123.33,407.77" fill="#3ecfb1"/>
<polygon points="244.12,414.65 252.17,415.56 246.12,415.71 238.07,422.68" fill="#0aabea"/>
<polygon points="358.87,408.63 366.91,407.49 360.87,405.19 352.82,407.06" fill="#31ccb9"/>
<polygon points="473.61,409.19 481.66,407.53 475.61,405.35 467.57,407.12" fill="#27cac0"/>
<polygon points="193.79,409.48 201.84,408.78 195.79,407.24 187.75,408.56" fill="#23c9c2"/>
<polygon points="308.54,424.94 316.59,414.97 310.54,413.87 302.49,422.53" fill="#3b46c5"/>
<polygon points="423.29,408.95 431.33,407.13 425.29,405.24 417.24,407.07" fill="#26cac0"/>
<polygon points="143.47,409.68 151.51,408.48 145.47,406.52 137.42,407.54" fill="#22c9c3"/>
<polygon points="258.21,410.66 266.26,423.33 260.21,414.11 252.17,415.56" fill="#07b8e1"/>
<polygon points="372.96,409.51 381.01,407.68 374.96,405.63 366.91,407.49" fill="#29cbbe"/>
<polygon points="207.89,409.79 215.93,408.53 209.89,406.90 201.84,408.78" fill="#24c9c1"/>
<polygon points="322.63,414.16 330.68,407.13 324.63,405.85 316.59,414.97" fill="#07b4e5"/>
<polygon points="437.38,409.52 445.43,407.79 439.38,406.02 431.33,407.13" fill="#28cabf"/>
<polygon points="157.56,410.31 165.61,408.80 159.56,406.69 151.51,408.48" fill="#21c8c4"/>
<polygon points="272.31,418.39 280.35,416.93 274.31,421.84 266.26,423.33" fill="#096bfa"/>
<polygon points="387.05,410.23 395.10,408.07 389.05,405.59 381.01,407.68" fill="#27cabf"/>
<polygon points="107.23,409.60 115.28,408.06 109.23,405.99 101.19,408.08" fill="#2fccba"/>
<polygon points="221.98,410.10 230.03,405.18 223.98,406.13 215.93,408.53" fill="#28cabf"/>
<polygon points="336.73,409.55 344.77,408.13 338.73,406.19 330.68,407.13" fill="#30ccba"/>
<polygon points="451.47,409.76 459.52,408.51 453.47,406.62 445.43,407.79" fill="#2eccbb"/>
<polygon points="171.65,411.00 179.70,409.47 173.65,407.33 165.61,408.80" fill="#19c6c9"/>
<polygon points="286.40,425.84 294.45,424.20 288.40,409.12 280.35,416.93" fill="#0da6eb"/>
<polygon points="401.15,410.47 409.19,408.72 403.15,406.46 395.10,408.07" fill="#25cac1"/>
<polygon points="121.33,409.89 129.37,408.09 123.33,407.77 115.28,408.06" fill="#34cdb7"/>
<polygon points="236.07,425.68 244.12,414.65 238.07,422.68 230.03,405.18" fill="#158cf2"/>
<polygon points="350.82,410.31 358.87,408.63 352.82,407.06 344.77,408.13" fill="#2ccbbd"/>
<polygon points="465.57,410.34 473.61,409.19 467.57,407.12 459.52,408.51" fill="#29cbbe"/>
<polygon points="185.75,410.81 193.79,409.48 187.75,408.56 179.70,409.47" fill="#25c9c1"/>
<polygon points="300.49,425.73 308.54,424.94 302.49,422.53 294.45,424.20" fill="#3b45c4"/>
<polygon points="415.24,410.68 423.29,408.95 417.24,407.07 409.19,408.72" fill="#24c9c2"/>
<polygon points="135.42,410.86 143.47,409.68 137.42,407.54 129.37,408.09" fill="#2ccbbc"/>
<polygon points="250.17,426.63 258.21,410.66 252.17,415.56 244.12,414.65" fill="#158cf2"/>
<polygon points="364.91,410.62 372.96,409.51 366.91,407.49 358.87,408.63" fill="#2fccbb"/>
<polygon points="479.66,411.04 487.71,409.49 481.66,407.53 473.61,409.19" fill="#2fccbb"/>
<polygon points="199.84,411.08 207.89,409.79 201.84,408.78 193.79,409.48" fill="#2ccbbc"/>
<polygon points="314.59,426.38 322.63,414.16 316.59,414.97 308.54,424.94" fill="#07bade"/>
<polygon points="429.33,410.71 437.38,409.52 431.33,407.13 423.29,408.95" fill="#27cabf"/>
<polygon points="149.51,411.74 157.56,410.31 151.51,408.48 143.47,409.68" fill="#21c8c4"/>
<polygon points="264.26,426.59 272.31,418.39 266.26,423.33 258.21,410.66" fill="#3b46c4"/>
<polygon points="379.01,411.39 387.05,410.23 381.01,407.68 372.96,409.51" fill="#2acbbd"/>
<polygon points="213.93,411.18 221.98,410.10 215.93,408.53 207.89,409.79" fill="#2bcbbd"/>
<polygon points="328.68,411.11 336.73,409.55 330.68,407.13 322.63,414.16" fill="#2fccba"/>
<polygon points="443.43,411.46 451.47,409.76 445.43,407.79 437.38,409.52" fill="#2ccbbc"/>
<polygon points="163.61,413.08 171.65,411.00 165.61,408.80 157.56,410.31" fill="#15c5cc"/>
<polygon points="278.35,422.25 286.40,425.84 280.35,416.93 272.31,418.39" fill="#158cf2"/>
<polygon points="393.10,412.33 401.15,410.47 395.10,408.07 387.05,410.23" fill="#28cabf"/>
<polygon points="113.28,411.58 121.33,409.89 115.28,408.06 107.23,409.60" fill="#29cbbe"/>
<polygon points="228.03,415.31 236.07,425.68 230.03,405.18 221.98,410.10" fill="#07bcdc"/>
<polygon points="342.77,411.65 350.82,410.31 344.77,408.13 336.73,409.55" fill="#2bcbbd"/>
<polygon points="457.52,411.96 465.57,410.34 459.52,408.51 451.47,409.76" fill="#2acbbd"/>
<polygon points="177.70,412.15 185.75,410.81 179.70,409.47 171.65,411.00" fill="#28cabf"/>
<polygon points="292.45,427.97 300.49,425.73 294.45,424.20 286.40,425.84" fill="#09bfd7"/>
<polygon points="407.19,412.48 415.24,410.68 409.19,408.72 401.15,410.47" fill="#21c9c3"/>
<polygon points="127.37,413.20 135.42,410.86 129.37,408.09 121.33,409.89" fill="#1ac6c8"/>
<polygon points="242.12,427.99 250.17,426.63 244.12,414.65 236.07,425.68" fill="#09bfd7"/>
<polygon points="356.87,411.94 364.91,410.62 358.87,408.63 350.82,410.31" fill="#34cdb7"/>
<polygon points="471.61,412.41 479.66,411.04 473.61,409.19 465.57,410.34" fill="#2acbbe"/>
<polygon points="191.79,412.54 199.84,411.08 193.79,409.48 185.75,410.81" fill="#2bcbbd"/>
<polygon points="306.54,428.14 314.59,426.38 308.54,424.94 300.49,425.73" fill="#0dc2d2"/>
<polygon points="421.29,412.53 429.33,410.71 423.29,408.95 415.24,410.68" fill="#29cabe"/>
<polygon points="141.47,412.16 149.51,411.74 143.47,409.68 135.42,410.86" fill="#39ceb4"/>
<polygon points="256.21,417.60 264.26,426.59 258.21,410.66 250.17,426.63" fill="#14c4cd"/>
<polygon points="370.96,412.94 379.01,411.39 372.96,409.51 364.91,410.62" fill="#28cabf"/>
<polygon points="485.71,413.16 493.75,411.66 487.71,409.49 479.66,411.04" fill="#26cac0"/>
<polygon points="205.89,413.10 213.93,411.18 207.89,409.79 199.84,411.08" fill="#26cac0"/>
<polygon points="320.63,413.65 328.68,411.11 322.63,414.16 314.59,426.38" fill="#1fc8c5"/>
<polygon points="435.38,413.10 443.43,411.46 437.38,409.52 429.33,410.71" fill="#24c9c1"/>
<polygon points="155.56,413.26 163.61,413.08 157.56,410.31 149.51,411.74" fill="#28cabf"/>
<polygon points="270.31,417.86 278.35,422.25 272.31,418.39 264.26,426.59" fill="#09bfd7"/>
<polygon points="385.05,413.12 393.10,412.33 387.05,410.23 379.01,411.39" fill="#33cdb8"/>
<polygon points="219.98,413.19 228.03,415.31 221.98,410.10 213.93,411.18" fill="#2ccbbc"/>
<polygon points="334.73,413.79 342.77,411.65 336.73,409.55 328.68,411.11" fill="#20c8c4"/>
<polygon points="449.47,413.36 457.52,411.96 451.47,409.76 443.43,411.46" fill="#2dccbb"/>
<polygon points="169.65,414.73 177.70,412.15 171.65,411.00 163.61,413.08" fill="#1ac6c8"/>
<polygon points="284.40,428.60 292.45,427.97 286.40,425.84 278.35,422.25" fill="#0fc2d1"/>
<polygon points="399.15,413.97 407.19,412.48 401.15,410.47 393.10,412.33" fill="#27cabf"/>
<polygon points="119.33,413.54 127.37,413.20 121.33,409.89 113.28,411.58" fill="#27cac0"/>
<polygon points="234.07,421.81 242.12,427.99 236.07,425.68 228.03,415.31" fill="#09bfd7"/>
<polygon points="348.82,413.17 356.87,411.94 350.82,410.31 342.77,411.65" fill="#34cdb7"/>
<polygon points="463.57,413.93 471.61,412.41 465.57,410.34 457.52,411.96" fill="#22c9c2"/>
<polygon points="183.75,413.73 191.79,412.54 185.75,410.81 177.70,412.15" fill="#2bcbbd"/>
<polygon points="298.49,429.68 306.54,428.14 300.49,425.73 292.45,427.97" fill="#13c4ce"/>
<polygon points="413.24,413.89 421.29,412.53 415.24,410.68 407.19,412.48" fill="#2bcbbd"/>
<polygon points="133.42,415.39 141.47,412.16 135.42,410.86 127.37,413.20" fill="#1ac7c8"/>
<polygon points="248.17,429.65 256.21,417.60 250.17,426.63 242.12,427.99" fill="#1fc8c5"/>
<polygon points="362.91,414.51 370.96,412.94 364.91,410.62 356.87,411.94" fill="#27cabf"/>
<polygon points="477.66,414.72 485.71,413.16 479.66,411.04 471.61,412.41" fill="#20c8c4"/>
<polygon points="197.84,414.45 205.89,413.10 199.84,411.08 191.79,412.54" fill="#29cbbe"/>
<polygon points="312.59,423.96 320.63,413.65 314.59,426.38 306.54,428.14" fill="#0ac0d6"/>
<polygon points="427.33,414.65 435.38,413.10 429.33,410.71 421.29,412.53" fill="#26cac0"/>
<polygon points="147.51,415.24 155.56,413.26 149.51,411.74 141.47,412.16" fill="#22c9c3"/>
<polygon points="262.26,430.84 270.31,417.86 264.26,426.59 256.21,417.60" fill="#14c4cd"/>
<polygon points="377.01,414.68 385.05,413.12 379.01,411.39 370.96,412.94" fill="#2ccbbc"/>
<polygon points="491.75,415.11 499.80,413.09 493.75,411.66 485.71,413.16" fill="#1dc7c6"/>
<polygon points="211.93,414.91 219.98,413.19 213.93,411.18 205.89,413.10" fill="#29cabe"/>
<polygon points="326.68,414.83 334.73,413.79 328.68,411.11 320.63,413.65" fill="#27cac0"/>
<polygon points="441.43,415.07 449.47,413.36 443.43,411.46 435.38,413.10" fill="#28cabf"/>
<polygon points="161.61,415.48 169.65,414.73 163.61,413.08 155.56,413.26" fill="#20c8c4"/>
<polygon points="276.35,421.71 284.40,428.60 278.35,422.25 270.31,417.86" fill="#1fc8c5"/>
<polygon points="391.10,415.42 399.15,413.97 393.10,412.33 385.05,413.12" fill="#27cabf"/>
<polygon points="226.03,415.48 234.07,421.81 228.03,415.31 219.98,413.19" fill="#26cac0"/>
<polygon points="340.77,415.46 348.82,413.17 342.77,411.65 334.73,413.79" fill="#27cabf"/>
<polygon points="455.52,415.43 463.57,413.93 457.52,411.96 449.47,413.36" fill="#28cabf"/>
<polygon points="175.70,416.17 183.75,413.73 177.70,412.15 169.65,414.73" fill="#20c8c4"/>
<polygon points="290.45,430.99 298.49,429.68 292.45,427.97 284.40,428.60" fill="#12c4ce"/>
<polygon points="405.19,415.99 413.24,413.89 407.19,412.48 399.15,413.97" fill="#24c9c2"/>
<polygon points="125.37,416.77 133.42,415.39 127.37,413.20 119.33,413.54" fill="#18c6ca"/>
<polygon points="240.12,411.74 248.17,429.65 242.12,427.99 234.07,421.81" fill="#14c5cc"/>
<polygon points="354.87,416.01 362.91,414.51 356.87,411.94 348.82,413.17" fill="#26cac0"/>
<polygon points="469.61,416.00 477.66,414.72 471.61,412.41 463.57,413.93" fill="#22c9c3"/>
<polygon points="189.79,415.26 197.84,414.45 191.79,412.54 183.75,413.73" fill="#31ccb9"/>
<polygon points="304.54,418.47 312.59,423.96 306.54,428.14 298.49,429.68" fill="#10c3d0"/>
<polygon points="419.29,416.13 427.33,414.65 421.29,412.53 413.24,413.89" fill="#2acbbe"/>
<polygon points="139.47,416.90 147.51,415.24 141.47,412.16 133.42,415.39" fill="#21c9c3"/>
<polygon points="254.21,432.63 262.26,430.84 256.21,417.60 248.17,429.65" fill="#09bfd8"/>
<polygon points="368.96,416.15 377.01,414.68 370.96,412.94 362.91,414.51" fill="#2eccbb"/>
<polygon points="483.71,416.78 491.75,415.11 485.71,413.16 477.66,414.72" fill="#1ec8c6"/>
<polygon points="203.89,416.56 211.93,414.91 205.89,413.10 197.84,414.45" fill="#25cac1"/>
<polygon points="318.63,416.50 326.68,414.83 320.63,413.65 312.59,423.96" fill="#2acbbe"/>
<polygon points="433.38,416.59 441.43,415.07 435.38,413.10 427.33,414.65" fill="#28cabf"/>
<polygon points="153.56,416.00 161.61,415.48 155.56,413.26 147.51,415.24" fill="#2dcbbc"/>
<polygon points="268.31,423.46 276.35,421.71 270.31,417.86 262.26,430.84" fill="#17c5cb"/>
<polygon points="383.05,416.75 391.10,415.42 385.05,413.12 377.01,414.68" fill="#25c9c1"/>
<polygon points="217.98,417.05 226.03,415.48 219.98,413.19 211.93,414.91" fill="#22c9c3"/>
<polygon points="332.73,417.11 340.77,415.46 334.73,413.79 326.68,414.83" fill="#26cac0"/>
<polygon points="447.47,417.21 455.52,415.43 449.47,413.36 441.43,415.07" fill="#27cabf"/>
<polygon points="167.65,417.06 175.70,416.17 169.65,414.73 161.61,415.48" fill="#29cbbe"/>
<polygon points="282.40,431.78 290.45,430.99 284.40,428.60 276.35,421.71" fill="#0ac0d5"/>
<polygon points="397.15,417.59 405.19,415.99 399.15,413.97 391.10,415.42" fill="#20c8c4"/>
<polygon points="232.07,417.18 240.12,411.74 234.07,421.81 226.03,415.48" fill="#2ccbbc"/>
<polygon points="346.82,417.26 354.87,416.01 348.82,413.17 340.77,415.46" fill="#30ccba"/>
<polygon points="461.57,417.29 469.61,416.00 463.57,413.93 455.52,415.43" fill="#2acbbd"/>
<polygon points="181.75,417.11 189.79,415.26 183.75,413.73 175.70,416.17" fill="#2dccbb"/>
<polygon points="296.49,430.75 304.54,418.47 298.49,429.68 290.45,430.99" fill="#1cc7c7"/>
<polygon points="411.24,417.86 419.29,416.13 413.24,413.89 405.19,415.99" fill="#2acbbe"/>
<polygon points="131.42,417.92 139.47,416.90 133.42,415.39 125.37,416.77" fill="#25cac1"/>
<polygon points="246.17,423.93 254.21,432.63 248.17,429.65 240.12,411.74" fill="#0fc2d1"/>
<polygon points="360.91,418.19 368.96,416.15 362.91,414.51 354.87,416.01" fill="#25c9c1"/>
<polygon points="475.66,418.12 483.71,416.78 477.66,414.72 469.61,416.00" fill="#23c9c2"/>
<polygon points="195.84,417.00 203.89,416.56 197.84,414.45 189.79,415.26" fill="#3aceb4"/>
<polygon points="310.59,417.92 318.63,416.50 312.59,423.96 304.54,418.47" fill="#2bcbbd"/>
<polygon points="425.33,417.90 433.38,416.59 427.33,414.65 419.29,416.13" fill="#2ccbbc"/>
<polygon points="145.51,419.11 153.56,416.00 147.51,415.24 139.47,416.90" fill="#1bc7c8"/>
<polygon points="260.26,424.55 268.31,423.46 262.26,430.84 254.21,432.63" fill="#18c6ca"/>
<polygon points="375.01,418.23 383.05,416.75 377.01,414.68 368.96,416.15" fill="#27cac0"/>
<polygon points="209.93,419.37 217.98,417.05 211.93,414.91 203.89,416.56" fill="#18c6ca"/>
<polygon points="324.68,418.53 332.73,417.11 326.68,414.83 318.63,416.50" fill="#29cbbe"/>
<polygon points="439.43,418.57 447.47,417.21 441.43,415.07 433.38,416.59" fill="#2dcbbc"/>
<polygon points="159.61,418.52 167.65,417.06 161.61,415.48 153.56,416.00" fill="#27cac0"/>
<polygon points="274.35,423.93 282.40,431.78 276.35,421.71 268.31,423.46" fill="#1bc7c7"/>
<polygon points="389.10,419.17 397.15,417.59 391.10,415.42 383.05,416.75" fill="#1bc7c8"/>
<polygon points="224.03,419.04 232.07,417.18 226.03,415.48 217.98,417.05" fill="#25c9c1"/>
<polygon points="338.77,418.80 346.82,417.26 340.77,415.46 332.73,417.11" fill="#32cdb8"/>
<polygon points="453.52,419.18 461.57,417.29 455.52,415.43 447.47,417.21" fill="#26cac0"/>
<polygon points="173.70,418.45 181.75,417.11 175.70,416.17 167.65,417.06" fill="#35cdb6"/>
<polygon points="288.45,413.41 296.49,430.75 290.45,430.99 282.40,431.78" fill="#20c8c4"/>
<polygon points="403.19,419.23 411.24,417.86 405.19,415.99 397.15,417.59" fill="#26cac0"/>
<polygon points="238.12,419.53 246.17,423.93 240.12,411.74 232.07,417.18" fill="#25cac1"/>
<polygon points="352.87,419.24 360.91,418.19 354.87,416.01 346.82,417.26" fill="#2eccbb"/>
<polygon points="467.61,419.59 475.66,418.12 469.61,416.00 461.57,417.29" fill="#23c9c2"/>
<polygon points="187.79,419.12 195.84,417.00 189.79,415.26 181.75,417.11" fill="#2eccbb"/>
<polygon points="302.54,418.75 310.59,417.92 304.54,418.47 296.49,430.75" fill="#37ceb5"/>
<polygon points="417.29,420.19 425.33,417.90 419.29,416.13 411.24,417.86" fill="#20c8c4"/>
<polygon points="137.47,419.26 145.51,419.11 139.47,416.90 131.42,417.92" fill="#30ccba"/>
<polygon points="252.21,420.97 260.26,424.55 254.21,432.63 246.17,423.93" fill="#1ac6c9"/>
<polygon points="366.96,419.93 375.01,418.23 368.96,416.15 360.91,418.19" fill="#24c9c2"/>
<polygon points="201.89,420.14 209.93,419.37 203.89,416.56 195.84,417.00" fill="#27cabf"/>
<polygon points="316.63,419.90 324.68,418.53 318.63,416.50 310.59,417.92" fill="#29cbbe"/>
<polygon points="431.38,419.98 439.43,418.57 433.38,416.59 425.33,417.90" fill="#2ccbbc"/>
<polygon points="151.56,420.59 159.61,418.52 153.56,416.00 145.51,419.11" fill="#20c8c4"/>
<polygon points="266.31,424.26 274.35,423.93 268.31,423.46 260.26,424.55" fill="#07b8e2"/>
<polygon points="381.05,419.82 389.10,419.17 383.05,416.75 375.01,418.23" fill="#2acbbe"/>
<polygon points="215.98,421.05 224.03,419.04 217.98,417.05 209.93,419.37" fill="#20c8c4"/>
<polygon points="330.73,420.62 338.77,418.80 332.73,417.11 324.68,418.53" fill="#27cac0"/>
<polygon points="445.47,420.86 453.52,419.18 447.47,417.21 439.43,418.57" fill="#27cabf"/>
<polygon points="165.65,419.76 173.70,418.45 167.65,417.06 159.61,418.52" fill="#3aceb3"/>
<polygon points="280.40,420.72 288.45,413.41 282.40,431.78 274.35,423.93" fill="#2acbbd"/>
<polygon points="395.15,420.97 403.19,419.23 397.15,417.59 389.10,419.17" fill="#1ec8c6"/>
<polygon points="230.07,420.81 238.12,419.53 232.07,417.18 224.03,419.04" fill="#2fccba"/>
<polygon points="344.82,420.79 352.87,419.24 346.82,417.26 338.77,418.80" fill="#2eccbb"/>
<polygon points="459.57,421.40 467.61,419.59 461.57,417.29 453.52,419.18" fill="#23c9c2"/>
<polygon points="179.75,420.05 187.79,419.12 181.75,417.11 173.70,418.45" fill="#38ceb5"/>
<polygon points="294.49,420.47 302.54,418.75 296.49,430.75 288.45,413.41" fill="#36cdb6"/>
<polygon points="409.24,421.54 417.29,420.19 411.24,417.86 403.19,419.23" fill="#20c8c4"/>
<polygon points="244.17,421.77 252.21,420.97 246.17,423.93 238.12,419.53" fill="#20c8c4"/>
<polygon points="358.91,421.11 366.96,419.93 360.91,418.19 352.87,419.24" fill="#2fccba"/>
<polygon points="193.84,420.79 201.89,420.14 195.84,417.00 187.79,419.12" fill="#33cdb8"/>
<polygon points="308.59,420.90 316.63,419.90 310.59,417.92 302.54,418.75" fill="#30ccba"/>
<polygon points="423.33,421.82 431.38,419.98 425.33,417.90 417.29,420.19" fill="#1ec8c6"/>
<polygon points="143.51,421.49 151.56,420.59 145.51,419.11 137.47,419.26" fill="#2ccbbc"/>
<polygon points="258.26,422.61 266.31,424.26 260.26,424.55 252.21,420.97" fill="#1fc8c5"/>
<polygon points="373.01,421.79 381.05,419.82 375.01,418.23 366.96,419.93" fill="#25c9c1"/>
<polygon points="207.93,422.72 215.98,421.05 209.93,419.37 201.89,420.14" fill="#20c8c4"/>
<polygon points="322.68,422.82 330.73,420.62 324.68,418.53 316.63,419.90" fill="#1ac7c8"/>
<polygon points="437.43,422.12 445.47,420.86 439.43,418.57 431.38,419.98" fill="#2dcbbc"/>
<polygon points="157.61,421.16 165.65,419.76 159.61,418.52 151.56,420.59" fill="#37ceb5"/>
<polygon points="272.35,422.11 280.40,420.72 274.35,423.93 266.31,424.26" fill="#2fccba"/>
<polygon points="387.10,422.38 395.15,420.97 389.10,419.17 381.05,419.82" fill="#20c8c4"/>
<polygon points="222.03,422.84 230.07,420.81 224.03,419.04 215.98,421.05" fill="#2bcbbd"/>
<polygon points="336.77,422.52 344.82,420.79 338.77,418.80 330.73,420.62" fill="#2acbbd"/>
<polygon points="451.52,422.30 459.57,421.40 453.52,419.18 445.47,420.86" fill="#2eccbb"/>
<polygon points="171.70,421.68 179.75,420.05 173.70,418.45 165.65,419.76" fill="#39ceb4"/>
<polygon points="286.45,422.33 294.49,420.47 288.45,413.41 280.40,420.72" fill="#34cdb7"/>
<polygon points="401.19,422.91 409.24,421.54 403.19,419.23 395.15,420.97" fill="#24c9c1"/>
<polygon points="236.12,423.46 244.17,421.77 238.12,419.53 230.07,420.81" fill="#1ec8c6"/>
<polygon points="350.87,422.55 358.91,421.11 352.87,419.24 344.82,420.79" fill="#2eccbb"/>
<polygon points="185.79,421.98 193.84,420.79 187.79,419.12 179.75,420.05" fill="#38ceb4"/>
<polygon points="300.54,423.25 308.59,420.90 302.54,418.75 294.49,420.47" fill="#25cac1"/>
<polygon points="415.29,423.33 423.33,421.82 417.29,420.19 409.24,421.54" fill="#1dc7c6"/>
<polygon points="250.21,422.93 258.26,422.61 252.21,420.97 244.17,421.77" fill="#2bcbbd"/>
<polygon points="364.96,422.97 373.01,421.79 366.96,419.93 358.91,421.11" fill="#2fccba"/>
<polygon points="199.89,422.76 207.93,422.72 201.89,420.14 193.84,420.79" fill="#36ceb6"/>
<polygon points="314.63,423.80 322.68,422.82 316.63,419.90 308.59,420.90" fill="#23c9c2"/>
<polygon points="429.38,423.50 437.43,422.12 431.38,419.98 423.33,421.82" fill="#27cabf"/>
<polygon points="149.56,424.15 157.61,421.16 151.56,420.59 143.51,421.49" fill="#1ec8c5"/>
<polygon points="264.31,424.38 272.35,422.11 266.31,424.26 258.26,422.61" fill="#1fc8c5"/>
<polygon points="379.05,424.13 387.10,422.38 381.05,419.82 373.01,421.79" fill="#1ec8c5"/>
<polygon points="213.98,423.56 222.03,422.84 215.98,421.05 207.93,422.72" fill="#36ceb6"/>
<polygon points="328.73,424.63 336.77,422.52 330.73,420.62 322.68,422.82" fill="#22c9c2"/>
<polygon points="443.47,423.94 451.52,422.30 445.47,420.86 437.43,422.12" fill="#2ccbbc"/>
<polygon points="163.65,424.21 171.70,421.68 165.65,419.76 157.61,421.16" fill="#28cabf"/>
<polygon points="278.40,424.11 286.45,422.33 280.40,420.72 272.35,422.11" fill="#33cdb8"/>
<polygon points="393.15,424.11 401.19,422.91 395.15,420.97 387.10,422.38" fill="#26cac0"/>
<polygon points="228.07,424.14 236.12,423.46 230.07,420.81 222.03,422.84" fill="#32cdb8"/>
<polygon points="342.82,424.26 350.87,422.55 344.82,420.79 336.77,422.52" fill="#2eccbb"/>
<polygon points="177.75,424.19 185.79,421.98 179.75,420.05 171.70,421.68" fill="#32cdb9"/>
<polygon points="292.49,424.83 300.54,423.25 294.49,420.47 286.45,422.33" fill="#27cabf"/>
<polygon points="407.24,424.94 415.29,423.33 409.24,421.54 401.19,422.91" fill="#23c9c2"/>
<polygon points="242.17,424.66 250.21,422.93 244.17,421.77 236.12,423.46" fill="#25cac1"/>
<polygon points="356.91,424.42 364.96,422.97 358.91,421.11 350.87,422.55" fill="#2eccbb"/>
<polygon points="191.84,424.59 199.89,422.76 193.84,420.79 185.79,421.98" fill="#31ccb9"/>
<polygon points="306.59,425.15 314.63,423.80 308.59,420.90 300.54,423.25" fill="#27cabf"/>
<polygon points="421.33,425.15 429.38,423.50 423.33,421.82 415.29,423.33" fill="#23c9c2"/>
<polygon points="256.26,425.87 264.31,424.38 258.26,422.61 250.21,422.93" fill="#1dc7c6"/>
<polygon points="371.01,425.12 379.05,424.13 373.01,421.79 364.96,422.97" fill="#29cbbe"/>
<polygon points="205.93,425.48 213.98,423.56 207.93,422.72 199.89,422.76" fill="#2acbbd"/>
<polygon points="320.68,426.00 328.73,424.63 322.68,422.82 314.63,423.80" fill="#22c9c3"/>
<polygon points="435.43,425.62 443.47,423.94 437.43,422.12 429.38,423.50" fill="#2dcbbc"/>
<polygon points="155.61,425.28 163.65,424.21 157.61,421.16 149.56,424.15" fill="#2fccba"/>
<polygon points="270.35,426.56 278.40,424.11 272.35,422.11 264.31,424.38" fill="#1ac7c8"/>
<polygon points="385.10,426.10 393.15,424.11 387.10,422.38 379.05,424.13" fill="#20c8c4"/>
<polygon points="220.03,426.20 228.07,424.14 222.03,422.84 213.98,423.56" fill="#29cbbe"/>
<polygon points="334.77,425.99 342.82,424.26 336.77,422.52 328.73,424.63" fill="#2dcbbc"/>
<polygon points="169.70,425.65 177.75,424.19 171.70,421.68 163.65,424.21" fill="#30ccba"/>
<polygon points="284.45,426.60 292.49,424.83 286.45,422.33 278.40,424.11" fill="#27cac0"/>
<polygon points="399.19,426.34 407.24,424.94 401.19,422.91 393.15,424.11" fill="#25cac1"/>
<polygon points="234.12,425.75 242.17,424.66 236.12,423.46 228.07,424.14" fill="#35cdb7"/>
<polygon points="348.87,426.25 356.91,424.42 350.87,422.55 342.82,424.26" fill="#28cabf"/>
<polygon points="183.79,426.05 191.84,424.59 185.79,421.98 177.75,424.19" fill="#3bceb3"/>
<polygon points="298.54,426.43 306.59,425.15 300.54,423.25 292.49,424.83" fill="#2fccba"/>
<polygon points="413.29,427.10 421.33,425.15 415.29,423.33 407.24,424.94" fill="#20c8c4"/>
<polygon points="248.21,426.35 256.26,425.87 250.21,422.93 242.17,424.66" fill="#2fccba"/>
<polygon points="362.96,426.70 371.01,425.12 364.96,422.97 356.91,424.42" fill="#29cbbe"/>
<polygon points="197.89,426.51 205.93,425.48 199.89,422.76 191.84,424.59" fill="#36cdb6"/>
<polygon points="312.63,427.14 320.68,426.00 314.63,423.80 306.59,425.15" fill="#24c9c2"/>
<polygon points="427.38,426.69 435.43,425.62 429.38,423.50 421.33,425.15" fill="#33cdb8"/>
<polygon points="262.31,427.20 270.35,426.56 264.31,424.38 256.26,425.87" fill="#27cabf"/>
<polygon points="377.05,427.29 385.10,426.10 379.05,424.13 371.01,425.12" fill="#2bcbbd"/>
<polygon points="211.98,426.24 220.03,426.20 213.98,423.56 205.93,425.48" fill="#42d0af"/>
<polygon points="326.73,427.97 334.77,425.99 328.73,424.63 320.68,426.00" fill="#24c9c2"/>
<polygon points="161.65,427.23 169.70,425.65 163.65,424.21 155.61,425.28" fill="#2fccba"/>
<polygon points="276.40,428.40 284.45,426.60 278.40,424.11 270.35,426.56" fill="#1cc7c7"/>
<polygon points="391.15,427.62 399.19,426.34 393.15,424.11 385.10,426.10" fill="#27cac0"/>
<polygon points="226.07,427.31 234.12,425.75 228.07,424.14 220.03,426.20" fill="#37ceb5"/>
<polygon points="340.82,428.13 348.87,426.25 342.82,424.26 334.77,425.99" fill="#25cac1"/>
<polygon points="175.75,427.54 183.79,426.05 177.75,424.19 169.70,425.65" fill="#34cdb7"/>
<polygon points="290.49,428.44 298.54,426.43 292.49,424.83 284.45,426.60" fill="#28cabf"/>
<polygon points="405.24,428.54 413.29,427.10 407.24,424.94 399.19,426.34" fill="#1fc8c5"/>
<polygon points="240.17,428.56 248.21,426.35 242.17,424.66 234.12,425.75" fill="#27cac0"/>
<polygon points="354.91,428.64 362.96,426.70 356.91,424.42 348.87,426.25" fill="#23c9c2"/>
<polygon points="189.84,428.23 197.89,426.51 191.84,424.59 183.79,426.05" fill="#39ceb4"/>
<polygon points="304.59,428.17 312.63,427.14 306.59,425.15 298.54,426.43" fill="#31ccb9"/>
<polygon points="419.33,428.84 427.38,426.69 421.33,425.15 413.29,427.10" fill="#28cabf"/>
<polygon points="254.26,428.18 262.31,427.20 256.26,425.87 248.21,426.35" fill="#33cdb8"/>
<polygon points="369.01,429.13 377.05,427.29 371.01,425.12 362.96,426.70" fill="#26cac0"/>
<polygon points="203.93,428.19 211.98,426.24 205.93,425.48 197.89,426.51" fill="#3aceb3"/>
<polygon points="318.68,428.97 326.73,427.97 320.68,426.00 312.63,427.14" fill="#28cabe"/>
<polygon points="268.35,429.21 276.40,428.40 270.35,426.56 262.31,427.20" fill="#26cac0"/>
<polygon points="383.10,429.49 391.15,427.62 385.10,426.10 377.05,427.29" fill="#26cac0"/>
<polygon points="218.03,429.05 226.07,427.31 220.03,426.20 211.98,426.24" fill="#35cdb6"/>
<polygon points="332.77,429.31 340.82,428.13 334.77,425.99 326.73,427.97" fill="#2fccba"/>
<polygon points="167.70,429.86 175.75,427.54 169.70,425.65 161.65,427.23" fill="#24c9c1"/>
<polygon points="282.45,429.90 290.49,428.44 284.45,426.60 276.40,428.40" fill="#2acbbe"/>
<polygon points="397.19,429.96 405.24,428.54 399.19,426.34 391.15,427.62" fill="#22c9c2"/>
<polygon points="232.12,429.67 240.17,428.56 234.12,425.75 226.07,427.31" fill="#2ccbbc"/>
<polygon points="346.87,430.01 354.91,428.64 348.87,426.25 340.82,428.13" fill="#2acbbe"/>
<polygon points="181.79,429.75 189.84,428.23 183.79,426.05 175.75,427.54" fill="#31ccb9"/>
<polygon points="296.54,429.66 304.59,428.17 298.54,426.43 290.49,428.44" fill="#36cdb6"/>
<polygon points="411.29,430.10 419.33,428.84 413.29,427.10 405.24,428.54" fill="#22c9c3"/>
<polygon points="246.21,430.06 254.26,428.18 248.21,426.35 240.17,428.56" fill="#2eccbb"/>
<polygon points="360.96,430.36 369.01,429.13 362.96,426.70 354.91,428.64" fill="#28cabf"/>
<polygon points="195.89,430.94 203.93,428.19 197.89,426.51 189.84,428.23" fill="#2dcbbc"/>
<polygon points="310.63,430.09 318.68,428.97 312.63,427.14 304.59,428.17" fill="#2dccbc"/>
<polygon points="260.31,430.57 268.35,429.21 262.31,427.20 254.26,428.18" fill="#2eccbb"/>
<polygon points="375.05,430.86 383.10,429.49 377.05,427.29 369.01,429.13" fill="#29cbbe"/>
<polygon points="209.98,430.14 218.03,429.05 211.98,426.24 203.93,428.19" fill="#3ccfb2"/>
<polygon points="324.73,430.97 332.77,429.31 326.73,427.97 318.68,428.97" fill="#2ccbbc"/>
<polygon points="274.40,431.03 282.45,429.90 276.40,428.40 268.35,429.21" fill="#2eccbb"/>
<polygon points="389.15,431.22 397.19,429.96 391.15,427.62 383.10,429.49" fill="#2fccba"/>
<polygon points="224.07,430.64 232.12,429.67 226.07,427.31 218.03,429.05" fill="#38ceb5"/>
<polygon points="338.82,431.73 346.87,430.01 340.82,428.13 332.77,429.31" fill="#26cac0"/>
<polygon points="173.75,431.52 181.79,429.75 175.75,427.54 167.70,429.86" fill="#29cbbe"/>
<polygon points="288.49,431.12 296.54,429.66 290.49,428.44 282.45,429.90" fill="#34cdb7"/>
<polygon points="403.24,431.76 411.29,430.10 405.24,428.54 397.19,429.96" fill="#21c9c3"/>
<polygon points="238.17,431.65 246.21,430.06 240.17,428.56 232.12,429.67" fill="#2bcbbd"/>
<polygon points="352.91,431.96 360.96,430.36 354.91,428.64 346.87,430.01" fill="#26cac0"/>
<polygon points="187.84,432.48 195.89,430.94 189.84,428.23 181.79,429.75" fill="#29cbbe"/>
<polygon points="302.59,431.67 310.63,430.09 304.59,428.17 296.54,429.66" fill="#2fccba"/>
<polygon points="252.26,432.47 260.31,430.57 254.26,428.18 246.21,430.06" fill="#27cabf"/>
<polygon points="367.01,432.27 375.05,430.86 369.01,429.13 360.96,430.36" fill="#2fccba"/>
<polygon points="201.93,432.49 209.98,430.14 203.93,428.19 195.89,430.94" fill="#2dccbb"/>
<polygon points="316.68,432.30 324.73,430.97 318.68,428.97 310.63,430.09" fill="#30ccba"/>
<polygon points="266.35,433.06 274.40,431.03 268.35,429.21 260.31,430.57" fill="#25cac0"/>
<polygon points="381.10,432.89 389.15,431.22 383.10,429.49 375.05,430.86" fill="#28cabf"/>
<polygon points="216.03,432.87 224.07,430.64 218.03,429.05 209.98,430.14" fill="#2ccbbc"/>
<polygon points="330.77,433.21 338.82,431.73 332.77,429.31 324.73,430.97" fill="#27cabf"/>
<polygon points="280.45,432.88 288.49,431.12 282.45,429.90 274.40,431.03" fill="#2bcbbd"/>
<polygon points="395.19,433.11 403.24,431.76 397.19,429.96 389.15,431.22" fill="#2eccbb"/>
<polygon points="230.12,432.68 238.17,431.65 232.12,429.67 224.07,430.64" fill="#37ceb5"/>
<polygon points="344.87,433.72 352.91,431.96 346.87,430.01 338.82,431.73" fill="#24c9c1"/>
<polygon points="179.79,433.05 187.84,432.48 181.79,429.75 173.75,431.52" fill="#31ccb9"/>
<polygon points="294.54,432.95 302.59,431.67 296.54,429.66 288.49,431.12" fill="#30ccb9"/>
<polygon points="244.21,433.25 252.26,432.47 246.21,430.06 238.17,431.65" fill="#31ccb9"/>
<polygon points="358.96,434.22 367.01,432.27 360.96,430.36 352.91,431.96" fill="#25c9c1"/>
<polygon points="193.89,434.21 201.93,432.49 195.89,430.94 187.84,432.48" fill="#2eccbb"/>
<polygon points="308.63,433.86 316.68,432.30 310.63,430.09 302.59,431.67" fill="#2ccbbc"/>
<polygon points="258.31,434.66 266.35,433.06 260.31,430.57 252.26,432.47" fill="#24c9c2"/>
<polygon points="373.05,434.09 381.10,432.89 375.05,430.86 367.01,432.27" fill="#33cdb8"/>
<polygon points="207.98,434.41 216.03,432.87 209.98,430.14 201.93,432.49" fill="#25cac1"/>
<polygon points="322.73,434.62 330.77,433.21 324.73,430.97 316.68,432.30" fill="#2bcbbd"/>
<polygon points="272.40,434.35 280.45,432.88 274.40,431.03 266.35,433.06" fill="#2dcbbc"/>
<polygon points="387.15,434.83 395.19,433.11 389.15,431.22 381.10,432.89" fill="#29cbbe"/>
<polygon points="222.07,434.42 230.12,432.68 224.07,430.64 216.03,432.87" fill="#31cdb9"/>
<polygon points="336.82,435.01 344.87,433.72 338.82,431.73 330.77,433.21" fill="#27cabf"/>
<polygon points="286.49,434.36 294.54,432.95 288.49,431.12 280.45,432.88" fill="#31ccb9"/>
<polygon points="236.17,435.59 244.21,433.25 238.17,431.65 230.12,432.68" fill="#25cac1"/>
<polygon points="350.91,435.37 358.96,434.22 352.91,431.96 344.87,433.72" fill="#27cabf"/>
<polygon points="185.84,435.41 193.89,434.21 187.84,432.48 179.79,433.05" fill="#31ccb9"/>
<polygon points="300.59,434.43 308.63,433.86 302.59,431.67 294.54,432.95" fill="#3aceb4"/>
<polygon points="250.26,435.66 258.31,434.66 252.26,432.47 244.21,433.25" fill="#2bcbbd"/>
<polygon points="365.01,435.69 373.05,434.09 367.01,432.27 358.96,434.22" fill="#2dccbb"/>
<polygon points="199.93,436.13 207.98,434.41 201.93,432.49 193.89,434.21" fill="#27cac0"/>
<polygon points="314.68,435.71 322.73,434.62 316.68,432.30 308.63,433.86" fill="#2acbbd"/>
<polygon points="264.35,435.59 272.40,434.35 266.35,433.06 258.31,434.66" fill="#30ccba"/>
<polygon points="379.10,435.87 387.15,434.83 381.10,432.89 373.05,434.09" fill="#35cdb7"/>
<polygon points="214.03,436.11 222.07,434.42 216.03,432.87 207.98,434.41" fill="#29cbbe"/>
<polygon points="328.77,436.42 336.82,435.01 330.77,433.21 322.73,434.62" fill="#28cabf"/>
<polygon points="278.45,436.19 286.49,434.36 280.45,432.88 272.40,434.35" fill="#31ccb9"/>
<polygon points="228.12,436.70 236.17,435.59 230.12,432.68 222.07,434.42" fill="#29cbbe"/>
<polygon points="342.87,436.45 350.91,435.37 344.87,433.72 336.82,435.01" fill="#30ccb9"/>
<polygon points="292.54,436.38 300.59,434.43 294.54,432.95 286.49,434.36" fill="#37ceb5"/>
<polygon points="242.21,437.78 250.26,435.66 244.21,433.25 236.17,435.59" fill="#1ec8c6"/>
<polygon points="356.96,437.76 365.01,435.69 358.96,434.22 350.91,435.37" fill="#1ec8c5"/>
<polygon points="191.89,437.39 199.93,436.13 193.89,434.21 185.84,435.41" fill="#2fccba"/>
<polygon points="306.63,436.92 314.68,435.71 308.63,433.86 300.59,434.43" fill="#2ccbbc"/>
<polygon points="256.31,437.67 264.35,435.59 258.31,434.66 250.26,435.66" fill="#27cac0"/>
<polygon points="371.05,437.63 379.10,435.87 373.05,434.09 365.01,435.69" fill="#30ccb9"/>
<polygon points="205.98,437.46 214.03,436.11 207.98,434.41 199.93,436.13" fill="#30ccba"/>
<polygon points="320.73,438.41 328.77,436.42 322.73,434.62 314.68,435.71" fill="#22c9c3"/>
<polygon points="270.40,438.26 278.45,436.19 272.40,434.35 264.35,435.59" fill="#23c9c2"/>
<polygon points="220.07,438.84 228.12,436.70 222.07,434.42 214.03,436.11" fill="#20c8c4"/>
<polygon points="334.82,438.36 342.87,436.45 336.82,435.01 328.77,436.42" fill="#29cbbe"/>
<polygon points="284.49,438.49 292.54,436.38 286.49,434.36 278.45,436.19" fill="#2ccbbc"/>
<polygon points="234.17,438.97 242.21,437.78 236.17,435.59 228.12,436.70" fill="#23c9c2"/>
<polygon points="348.91,439.08 356.96,437.76 350.91,435.37 342.87,436.45" fill="#26cac0"/>
<polygon points="298.59,437.65 306.63,436.92 300.59,434.43 292.54,436.38" fill="#42d0af"/>
<polygon points="248.26,439.74 256.31,437.67 250.26,435.66 242.21,437.78" fill="#1dc7c6"/>
<polygon points="363.01,439.30 371.05,437.63 365.01,435.69 356.96,437.76" fill="#2bcbbd"/>
<polygon points="197.93,439.41 205.98,437.46 199.93,436.13 191.89,437.39" fill="#29cbbe"/>
<polygon points="312.68,439.26 320.73,438.41 314.68,435.71 306.63,436.92" fill="#2dcbbc"/>
<polygon points="262.35,439.54 270.40,438.26 264.35,435.59 256.31,437.67" fill="#28cabf"/>
<polygon points="212.03,439.89 220.07,438.84 214.03,436.11 205.98,437.46" fill="#2acbbd"/>
<polygon points="326.77,439.96 334.82,438.36 328.77,436.42 320.73,438.41" fill="#2acbbd"/>
<polygon points="276.45,439.60 284.49,438.49 278.45,436.19 270.40,438.26" fill="#32cdb8"/>
<polygon points="226.12,440.04 234.17,438.97 228.12,436.70 220.07,438.84" fill="#2eccbb"/>
<polygon points="340.87,440.32 348.91,439.08 342.87,436.45 334.82,438.36" fill="#2ccbbc"/>
<polygon points="290.54,440.61 298.59,437.65 292.54,436.38 284.49,438.49" fill="#28cabf"/>
<polygon points="240.21,440.68 248.26,439.74 242.21,437.78 234.17,438.97" fill="#2bcbbd"/>
<polygon points="354.96,440.74 363.01,439.30 356.96,437.76 348.91,439.08" fill="#2bcbbd"/>
<polygon points="304.63,440.27 312.68,439.26 306.63,436.92 298.59,437.65" fill="#33cdb8"/>
<polygon points="254.31,441.46 262.35,439.54 256.31,437.67 248.26,439.74" fill="#22c9c3"/>
<polygon points="203.98,441.34 212.03,439.89 205.98,437.46 197.93,439.41" fill="#2bcbbd"/>
<polygon points="318.73,441.53 326.77,439.96 320.73,438.41 312.68,439.26" fill="#2bcbbd"/>
<polygon points="268.40,441.31 276.45,439.60 270.40,438.26 262.35,439.54" fill="#2bcbbd"/>
<polygon points="218.07,441.39 226.12,440.04 220.07,438.84 212.03,439.89" fill="#33cdb8"/>
<polygon points="332.82,441.50 340.87,440.32 334.82,438.36 326.77,439.96" fill="#30ccba"/>
<polygon points="282.49,442.50 290.54,440.61 284.49,438.49 276.45,439.60" fill="#23c9c2"/>
<polygon points="232.17,441.55 240.21,440.68 234.17,438.97 226.12,440.04" fill="#3aceb4"/>
<polygon points="346.91,442.83 354.96,440.74 348.91,439.08 340.87,440.32" fill="#23c9c2"/>
<polygon points="296.59,442.26 304.63,440.27 298.59,437.65 290.54,440.61" fill="#2ccbbc"/>
<polygon points="246.26,442.32 254.31,441.46 248.26,439.74 240.21,440.68" fill="#2dcbbc"/>
<polygon points="310.68,443.05 318.73,441.53 312.68,439.26 304.63,440.27" fill="#2bcbbd"/>
<polygon points="260.35,442.83 268.40,441.31 262.35,439.54 254.31,441.46" fill="#2eccbb"/>
<polygon points="210.03,443.29 218.07,441.39 212.03,439.89 203.98,441.34" fill="#2eccbb"/>
<polygon points="324.77,443.40 332.82,441.50 326.77,439.96 318.73,441.53" fill="#2ccbbd"/>
<polygon points="274.45,443.59 282.49,442.50 276.45,439.60 268.40,441.31" fill="#25cac1"/>
<polygon points="224.12,443.76 232.17,441.55 226.12,440.04 218.07,441.39" fill="#2dcbbc"/>
<polygon points="338.87,443.69 346.91,442.83 340.87,440.32 332.82,441.50" fill="#2dccbb"/>
<polygon points="288.54,444.85 296.59,442.26 290.54,440.61 282.49,442.50" fill="#1dc7c6"/>
<polygon points="238.21,444.52 246.26,442.32 240.21,440.68 232.17,441.55" fill="#28cabf"/>
<polygon points="302.63,444.70 310.68,443.05 304.63,440.27 296.59,442.26" fill="#26cac0"/>
<polygon points="252.31,444.06 260.35,442.83 254.31,441.46 246.26,442.32" fill="#30ccb9"/>
<polygon points="316.73,444.79 324.77,443.40 318.73,441.53 310.68,443.05" fill="#31ccb9"/>
<polygon points="266.40,445.33 274.45,443.59 268.40,441.31 260.35,442.83" fill="#25cac1"/>
<polygon points="216.07,444.82 224.12,443.76 218.07,441.39 210.03,443.29" fill="#33cdb8"/>
<polygon points="330.82,444.94 338.87,443.69 332.82,441.50 324.77,443.40" fill="#31ccb9"/>
<polygon points="280.49,446.48 288.54,444.85 282.49,442.50 274.45,443.59" fill="#1cc7c7"/>
<polygon points="230.17,445.69 238.21,444.52 232.17,441.55 224.12,443.76" fill="#2eccbb"/>
<polygon points="294.59,446.57 302.63,444.70 296.59,442.26 288.54,444.85" fill="#1fc8c5"/>
<polygon points="244.26,446.34 252.31,444.06 246.26,442.32 238.21,444.52" fill="#26cac0"/>
<polygon points="308.68,446.30 316.73,444.79 310.68,443.05 302.63,444.70" fill="#2bcbbd"/>
<polygon points="258.35,446.68 266.40,445.33 260.35,442.83 252.31,444.06" fill="#2eccbb"/>
<polygon points="322.77,446.64 330.82,444.94 324.77,443.40 316.73,444.79" fill="#2dcbbc"/>
<polygon points="272.45,446.97 280.49,446.48 274.45,443.59 266.40,445.33" fill="#2acbbe"/>
<polygon points="222.12,447.56 230.17,445.69 224.12,443.76 216.07,444.82" fill="#24c9c2"/>
<polygon points="286.54,447.88 294.59,446.57 288.54,444.85 280.49,446.48" fill="#21c9c3"/>
<polygon points="236.21,447.59 244.26,446.34 238.21,444.52 230.17,445.69" fill="#2ccbbc"/>
<polygon points="300.63,448.00 308.68,446.30 302.63,444.70 294.59,446.57" fill="#2acbbd"/>
<polygon points="250.31,447.87 258.35,446.68 252.31,444.06 244.26,446.34" fill="#31ccb9"/>
<polygon points="314.73,448.14 322.77,446.64 316.73,444.79 308.68,446.30" fill="#2bcbbd"/>
<polygon points="264.40,448.47 272.45,446.97 266.40,445.33 258.35,446.68" fill="#2ccbbc"/>
<polygon points="278.49,449.47 286.54,447.88 280.49,446.48 272.45,446.97" fill="#1dc7c6"/>
<polygon points="228.17,449.06 236.21,447.59 230.17,445.69 222.12,447.56" fill="#28cabf"/>
<polygon points="292.59,449.25 300.63,448.00 294.59,446.57 286.54,447.88" fill="#31ccb9"/>
<polygon points="242.26,449.20 250.31,447.87 244.26,446.34 236.21,447.59" fill="#36cdb6"/>
<polygon points="306.68,449.62 314.73,448.14 308.68,446.30 300.63,448.00" fill="#33cdb8"/>
<polygon points="256.35,449.65 264.40,448.47 258.35,446.68 250.31,447.87" fill="#35cdb7"/>
<polygon points="270.45,451.02 278.49,449.47 272.45,446.97 264.40,448.47" fill="#21c8c4"/>
<polygon points="284.54,451.03 292.59,449.25 286.54,447.88 278.49,449.47" fill="#27cac0"/>
<polygon points="234.21,451.09 242.26,449.20 236.21,447.59 228.17,449.06" fill="#2ccbbc"/>
<polygon points="298.63,451.26 306.68,449.62 300.63,448.00 292.59,449.25" fill="#30ccba"/>
<polygon points="248.31,451.65 256.35,449.65 250.31,447.87 242.26,449.20" fill="#2acbbd"/>
<polygon points="262.40,452.26 270.45,451.02 264.40,448.47 256.35,449.65" fill="#24c9c1"/>
<polygon points="276.49,452.89 284.54,451.03 278.49,449.47 270.45,451.02" fill="#24c9c1"/>
<polygon points="290.59,453.46 298.63,451.26 292.59,449.25 284.54,451.03" fill="#21c9c3"/>
<polygon points="240.26,453.19 248.31,451.65 242.26,449.20 234.21,451.09" fill="#28cabf"/>
<polygon points="254.35,453.82 262.40,452.26 256.35,449.65 248.31,451.65" fill="#21c8c4"/>
<polygon points="268.45,455.21 276.49,452.89 270.45,451.02 262.40,452.26" fill="#16c5cb"/>
<polygon points="282.54,455.10 290.59,453.46 284.54,451.03 276.49,452.89" fill="#24c9c2"/>
<polygon points="246.31,455.67 254.35,453.82 248.31,451.65 240.26,453.19" fill="#23c9c2"/>
<polygon points="260.40,455.60 268.45,455.21 262.40,452.26 254.35,453.82" fill="#24c9c1"/>
<polygon points="274.49,456.60 282.54,455.10 276.49,452.89 268.45,455.21" fill="#21c9c3"/>
<polygon points="252.35,457.65 260.40,455.60 254.35,453.82 246.31,455.67" fill="#21c9c3"/>
<polygon points="266.45,457.74 274.49,456.60 268.45,455.21 260.40,455.60" fill="#29cabe"/>
<polygon points="258.40,459.06 266.45,457.74 260.40,455.60 252.35,457.65" fill="#2acbbd"/>
</g>
<line x1="74.60" y1="464.20" x2="74.60" y2="335.50" stroke="#333" stroke-width="0.8"/>
<line x1="74.60" y1="464.20" x2="259.70" y2="523.90" stroke="#333" stroke-width="0.8"/>
<line x1="259.70" y1="523.90" x2="500.70" y2="477.70" stroke="#333" stroke-width="0.8"/>
<line x1="259.70" y1="523.90" x2="265.79" y2="525.86" stroke="#333" stroke-width="0.8"/>
<line x1="259.70" y1="523.90" x2="253.41" y2="525.10" stroke="#333" stroke-width="0.8"/>
<line x1="327.30" y1="510.94" x2="333.39" y2="512.91" stroke="#333" stroke-width="0.8"/>
<line x1="208.64" y1="507.43" x2="202.35" y2="508.64" stroke="#333" stroke-width="0.8"/>
<line x1="394.90" y1="497.98" x2="400.99" y2="499.95" stroke="#333" stroke-width="0.8"/>
<line x1="157.58" y1="490.96" x2="151.29" y2="492.17" stroke="#333" stroke-width="0.8"/>
<line x1="462.51" y1="485.02" x2="468.60" y2="486.99" stroke="#333" stroke-width="0.8"/>
<line x1="106.51" y1="474.49" x2="100.23" y2="475.70" stroke="#333" stroke-width="0.8"/>
<line x1="74.60" y1="464.20" x2="68.51" y2="462.24" stroke="#333" stroke-width="0.8"/>
<line x1="74.60" y1="399.85" x2="68.51" y2="397.89" stroke="#333" stroke-width="0.8"/>
<line x1="74.60" y1="335.50" x2="68.51" y2="333.54" stroke="#333" stroke-width="0.8"/>
<g font-size="15.6" fill="#0a0a0a" stroke="#0a0a0a" stroke-width="0.2">
<text x="65.7" y="54.7" text-anchor="end">5</text>
<text x="65.7" y="119.3" text-anchor="end">0</text>
<text x="65.7" y="184.3" text-anchor="end">-5</text>
<text x="88.8" y="208.2" text-anchor="middle">60</text>
<text x="139.9" y="224.8" text-anchor="middle">40</text>
<text x="191.4" y="242.1" text-anchor="middle">20</text>
<text x="246.3" y="257.6" text-anchor="middle">0</text>
<text x="275.5" y="258.8" text-anchor="middle">0</text>
<text x="346.3" y="246.4" text-anchor="middle">20</text>
<text x="412.9" y="234.1" text-anchor="middle">40</text>
<text x="480.4" y="221.8" text-anchor="middle">60</text>
<text transform="translate(132.5,242) rotate(18)" text-anchor="middle"><tspan font-style="italic">y</tspan>, mm</text>
<text transform="translate(418,250) rotate(-11)" text-anchor="middle"><tspan font-style="italic">x</tspan>, mm</text>
</g>
<g font-size="16.9" fill="#0a0a0a" stroke="#0a0a0a" stroke-width="0.2">
<text x="85.9" y="76.2">204 kHz</text>
<text x="13.3" y="117.6">(a)</text>
<text x="80.8" y="359">204 kHz</text>
<text x="5.6" y="401.6">(b)</text>
</g>
<g font-size="16.9" fill="#ff0000" stroke="#ff0000" stroke-width="0.2">
<text x="248.8" y="58.5">Pristine area</text>
<text x="218.4" y="335.8">25 mm delamination</text>
</g>
<g font-size="15.3" fill="#ff0000" stroke="#ff0000" stroke-width="0.2" text-anchor="middle">
<text x="292" y="483.4">Showing delamination effects</text>
<text x="291.3" y="501.3">in a small area</text>
</g>
<g transform="translate(-2,282.4)" font-size="15.6" fill="#0a0a0a" stroke="#0a0a0a" stroke-width="0.2">
<text x="66.4" y="54.7" text-anchor="end">5</text>
<text x="66.4" y="119.3" text-anchor="end">0</text>
<text x="66.4" y="184.3" text-anchor="end">-5</text>
<text x="88.8" y="208.2" text-anchor="middle">60</text>
<text x="139.9" y="224.6" text-anchor="middle">40</text>
<text x="191.4" y="242.1" text-anchor="middle">20</text>
<text x="246.3" y="257.0" text-anchor="middle">0</text>
<text x="275.5" y="258.8" text-anchor="middle">0</text>
<text x="346.3" y="246.4" text-anchor="middle">20</text>
<text x="412.9" y="234.1" text-anchor="middle">40</text>
<text x="480.4" y="221.8" text-anchor="middle">60</text>
<text transform="translate(129.4,240) rotate(18)" text-anchor="middle"><tspan font-style="italic">y</tspan>, mm</text>
<text transform="translate(421.4,251.2) rotate(-11)" text-anchor="middle"><tspan font-style="italic">x</tspan>, mm</text>
</g>
<ellipse cx="274.7" cy="407.9" rx="54.8" ry="18.5" fill="none" stroke="#ff0000" stroke-width="3" pathLength="245.4" stroke-dasharray="14 10.3" stroke-dashoffset="-3.25"/>
<line x1="291.6" y1="467.2" x2="283.4" y2="434.5" stroke="#ff0000" stroke-width="1.8"/>
<polygon points="282,427.8 288,434.3 278.7,436.9" fill="#ff0000"/>

</svg>
</body></html>
